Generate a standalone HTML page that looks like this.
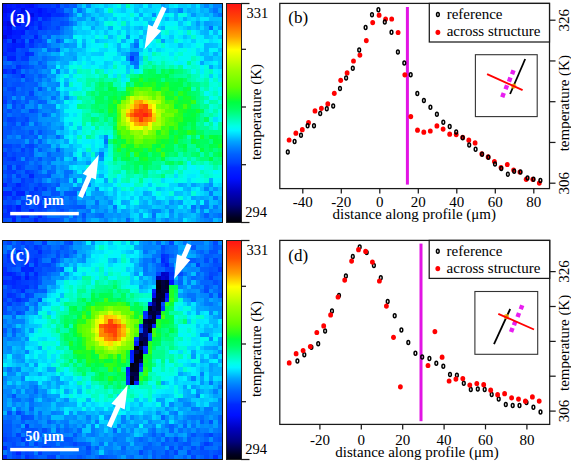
<!DOCTYPE html>
<html><head><meta charset="utf-8">
<style>
html,body{margin:0;padding:0;background:#fff;}
body{width:571px;height:463px;position:relative;overflow:hidden;font-family:"Liberation Serif", serif;}
.hm{position:absolute;left:2px;width:221px;height:220px;box-sizing:border-box;border:1px solid #111;background:#19f;overflow:hidden;}
.cb{position:absolute;left:226px;width:16px;height:220px;box-sizing:border-box;border:1px solid #222;
 background:linear-gradient(to top,#00000c 0%,#000020 2%,#000080 8%,#0000c0 14%,#0010ff 20%,#0028ff 25%,#0040ff 27%,#0060ff 31%,#0080ff 34%,#00a5ff 37%,#00d7ff 40%,#00f5ff 42%,#00ffe6 44%,#00ffb4 47%,#00ff80 50%,#00ff60 52%,#00ff40 55%,#20ff20 57%,#60ff00 62%,#a0ff00 70%,#ffff00 79%,#ffa000 85%,#ff5000 92%,#ff1414 100%);}
svg{position:absolute;left:0;top:0;}
</style></head><body>
<div class="hm" style="top:3px"></div>
<div class="hm" style="top:240px"></div>
<div class="cb" style="top:3px"></div>
<div class="cb" style="top:240px"></div>
<svg width="571" height="463" viewBox="0 0 571 463" font-family='"Liberation Serif", serif'>
<g transform="translate(3,4) scale(4.3800,4.3600)" shape-rendering="crispEdges">
<path fill="#000df2" d="M0 0h1v1h-1z"/>
<path fill="#0016ff" d="M1 0h1v1h-1zM4 6h1v1h-1z"/>
<path fill="#001fff" d="M2 0h1v1h-1zM7 2h1v1h-1zM3 7h1v1h-1zM7 7h1v1h-1zM4 43h1v1h-1z"/>
<path fill="#0012ff" d="M3 0h1v1h-1z"/>
<path fill="#001aff" d="M4 0h1v1h-1zM5 1h1v1h-1zM7 1h1v1h-1zM2 2h1v1h-1z"/>
<path fill="#0011ff" d="M5 0h1v1h-1zM0 2h1v1h-1zM3 3h1v1h-1z"/>
<path fill="#000ef8" d="M6 0h1v1h-1z"/>
<path fill="#0021ff" d="M7 0h1v1h-1zM2 7h1v1h-1z"/>
<path fill="#0032ff" d="M8 0h1v1h-1zM13 2h1v1h-1zM10 3h1v1h-1zM6 9h1v1h-1z"/>
<path fill="#0035ff" d="M9 0h1v1h-1z"/>
<path fill="#0034ff" d="M10 0h1v1h-1zM3 8h1v1h-1zM6 11h1v1h-1z"/>
<path fill="#0041ff" d="M11 0h1v1h-1zM2 5h1v1h-1zM4 7h1v1h-1zM8 8h1v1h-1zM1 32h1v1h-1zM6 32h1v1h-1zM9 46h1v1h-1z"/>
<path fill="#0028ff" d="M12 0h1v1h-1zM7 45h1v1h-1zM1 46h1v1h-1zM4 48h1v1h-1z"/>
<path fill="#005eff" d="M13 0h1v1h-1zM5 30h1v1h-1zM6 35h1v1h-1zM5 43h1v1h-1z"/>
<path fill="#004cff" d="M14 0h1v1h-1zM1 24h1v1h-1zM4 34h1v1h-1zM4 37h1v1h-1zM5 45h1v1h-1zM5 47h1v1h-1zM0 49h1v1h-1z"/>
<path fill="#005dff" d="M15 0h1v1h-1zM6 16h1v1h-1zM2 25h1v1h-1zM7 27h1v1h-1zM3 29h1v1h-1zM8 31h1v1h-1zM0 33h1v1h-1zM9 39h1v1h-1zM15 46h1v1h-1z"/>
<path fill="#0057ff" d="M16 0h1v1h-1zM5 21h1v1h-1zM3 22h1v1h-1zM0 23h1v1h-1zM3 28h1v1h-1zM7 30h1v1h-1zM3 38h1v1h-1zM1 42h1v1h-1zM6 44h1v1h-1z"/>
<path fill="#00a0ff" d="M17 0h1v1h-1zM13 36h1v1h-1zM13 39h1v1h-1zM17 41h1v1h-1z"/>
<path fill="#00d1ff" d="M18 0h1v1h-1zM20 1h1v1h-1zM27 5h1v1h-1zM16 32h1v1h-1zM29 48h1v1h-1z"/>
<path fill="#0089ff" d="M19 0h1v1h-1zM16 4h1v1h-1zM14 6h1v1h-1zM28 12h1v1h-1zM6 22h1v1h-1zM5 23h1v1h-1zM22 35h1v1h-1zM19 48h1v1h-1z"/>
<path fill="#00ceff" d="M20 0h1v1h-1zM40 0h1v1h-1zM23 2h1v1h-1zM42 2h1v1h-1zM17 6h1v1h-1zM22 8h1v1h-1zM47 16h1v1h-1zM12 19h1v1h-1zM21 39h1v1h-1z"/>
<path fill="#00daff" d="M21 0h1v1h-1zM26 1h1v1h-1zM27 3h1v1h-1zM16 5h1v1h-1zM45 5h1v1h-1zM32 9h1v1h-1zM44 11h1v1h-1zM48 14h1v1h-1zM49 16h1v1h-1zM13 20h1v1h-1zM19 34h1v1h-1zM36 40h1v1h-1zM41 43h1v1h-1zM45 43h1v1h-1zM33 45h1v1h-1z"/>
<path fill="#00e3ff" d="M22 0h1v1h-1zM23 5h1v1h-1zM41 9h1v1h-1zM38 11h1v1h-1zM29 14h1v1h-1zM20 32h1v1h-1zM18 33h1v1h-1zM25 45h1v1h-1zM26 46h1v1h-1z"/>
<path fill="#00c0ff" d="M23 0h1v1h-1zM30 1h1v1h-1zM48 3h2v1h-2zM17 4h1v1h-1zM31 10h1v1h-1zM49 10h1v1h-1zM17 43h1v1h-1zM40 43h1v1h-1zM31 45h1v1h-1zM20 47h1v1h-1z"/>
<path fill="#00d7ff" d="M24 0h1v1h-1zM28 10h1v1h-1zM24 13h1v1h-1zM28 13h1v1h-1zM12 17h1v1h-1zM16 21h1v1h-1zM21 35h1v1h-1zM22 36h1v1h-1zM39 41h1v1h-1zM37 45h1v1h-1z"/>
<path fill="#00ebff" d="M25 0h1v1h-1zM28 1h1v1h-1zM18 5h1v1h-1zM37 7h1v1h-1zM17 9h1v1h-1zM28 9h1v1h-1zM39 10h1v1h-1zM19 14h1v1h-1zM23 15h1v1h-1zM49 15h1v1h-1zM15 17h1v1h-1zM17 38h1v1h-1z"/>
<path fill="#00ffe2" d="M26 0h1v1h-1zM41 10h1v1h-1zM14 16h1v1h-1zM46 22h1v1h-1zM49 22h1v1h-1zM22 29h1v1h-1zM32 40h1v1h-1z"/>
<path fill="#00cdff" d="M27 0h1v1h-1zM32 1h1v1h-1zM44 1h1v1h-1zM33 3h1v1h-1zM22 4h1v1h-1zM21 5h1v1h-1zM20 11h2v1h-2zM13 21h1v1h-1zM21 36h1v1h-1zM25 40h1v1h-1zM20 41h1v1h-1zM24 41h1v1h-1zM29 47h1v1h-1zM37 47h1v1h-1z"/>
<path fill="#00ffaa" d="M28 0h1v1h-1zM46 19h1v1h-1zM27 36h1v1h-1zM45 36h1v1h-1z"/>
<path fill="#00eaff" d="M29 0h1v1h-1zM41 4h1v1h-1zM22 6h1v1h-1zM30 7h1v1h-1zM28 8h1v1h-1zM34 9h1v1h-1zM17 35h1v1h-1zM23 37h1v1h-1zM42 44h1v1h-1z"/>
<path fill="#00cbff" d="M30 0h1v1h-1zM35 5h1v1h-1zM18 11h1v1h-1zM14 29h1v1h-1zM20 42h1v1h-1z"/>
<path fill="#00bbff" d="M31 0h1v1h-1zM46 1h1v1h-1zM46 7h1v1h-1zM17 10h1v1h-1zM14 20h1v1h-1zM41 42h1v1h-1zM39 43h1v1h-1zM36 45h1v1h-1zM28 46h1v1h-1zM25 49h1v1h-1zM35 49h1v1h-1z"/>
<path fill="#00f4ff" d="M32 0h1v1h-1zM39 0h1v1h-1zM38 4h1v1h-1zM17 7h1v1h-1zM36 7h1v1h-1zM37 9h1v1h-1zM25 10h1v1h-1zM12 14h1v1h-1zM49 19h1v1h-1zM26 39h1v1h-1zM37 40h1v1h-1zM39 42h1v1h-1zM26 43h1v1h-1zM29 45h1v1h-1zM32 48h1v1h-1z"/>
<path fill="#00b4ff" d="M33 0h1v1h-1zM34 4h1v1h-1zM49 4h1v1h-1zM13 14h1v1h-1zM21 34h1v1h-1zM20 49h1v1h-1z"/>
<path fill="#00deff" d="M34 0h1v1h-1zM19 1h1v1h-1zM35 2h1v1h-1zM24 3h1v1h-1zM20 7h1v1h-1zM42 40h1v1h-1zM30 48h1v1h-1z"/>
<path fill="#00dcff" d="M35 0h1v1h-1zM14 8h1v1h-1zM47 8h1v1h-1zM22 10h1v1h-1zM25 12h1v1h-1zM31 13h1v1h-1zM46 13h1v1h-1zM22 38h1v1h-1zM23 42h1v1h-1zM30 43h1v1h-1zM42 45h1v1h-1z"/>
<path fill="#009fff" d="M36 0h1v1h-1zM17 39h1v1h-1zM19 44h1v1h-1zM33 47h1v1h-1z"/>
<path fill="#00baff" d="M37 0h1v1h-1zM16 6h1v1h-1zM45 6h1v1h-1zM33 7h1v1h-1zM11 22h1v1h-1zM11 25h1v1h-1zM25 42h1v1h-1zM48 45h1v1h-1zM47 46h1v1h-1z"/>
<path fill="#00e5ff" d="M38 0h1v1h-1zM25 1h1v1h-1zM33 8h1v1h-1zM41 8h1v1h-1zM27 16h1v1h-1zM16 34h1v1h-1zM23 38h1v1h-1zM21 41h1v1h-1zM26 42h1v1h-1zM28 43h1v1h-1zM27 44h1v1h-1zM42 46h1v1h-1z"/>
<path fill="#00caff" d="M41 0h1v1h-1zM17 5h1v1h-1zM18 6h1v1h-1zM43 8h1v1h-1zM18 10h1v1h-1zM28 15h1v1h-1zM33 41h1v1h-1zM48 43h1v1h-1zM44 47h1v1h-1zM46 47h1v1h-1z"/>
<path fill="#00dbff" d="M42 0h1v1h-1zM18 4h1v1h-1zM32 5h1v1h-1zM42 7h1v1h-1zM44 10h1v1h-1zM49 11h1v1h-1zM11 15h1v1h-1zM19 42h1v1h-1zM31 47h1v1h-1z"/>
<path fill="#00b6ff" d="M43 0h1v1h-1zM48 6h1v1h-1zM18 8h1v1h-1zM21 8h1v1h-1zM46 9h1v1h-1zM46 10h1v1h-1zM46 12h1v1h-1zM12 31h1v1h-1zM33 43h1v1h-1zM38 46h2v1h-2zM42 48h1v1h-1zM21 49h1v1h-1z"/>
<path fill="#00e2ff" d="M44 0h1v1h-1zM36 4h1v1h-1zM25 9h1v1h-1zM49 9h1v1h-1zM17 13h1v1h-1zM14 19h1v1h-1zM16 19h1v1h-1zM16 25h1v1h-1zM16 30h1v1h-1zM32 42h1v1h-1z"/>
<path fill="#00a5ff" d="M45 0h1v1h-1zM18 9h1v1h-1zM13 12h1v1h-1zM45 13h1v1h-1zM10 22h1v1h-1zM16 36h1v1h-1zM40 41h1v1h-1zM18 42h1v1h-1zM27 45h1v1h-1z"/>
<path fill="#0084ff" d="M46 0h1v1h-1zM49 0h1v1h-1zM46 45h1v1h-1zM47 47h1v1h-1z"/>
<path fill="#00acff" d="M47 0h1v1h-1zM41 3h1v1h-1zM16 11h1v1h-1zM15 12h1v1h-1zM46 44h1v1h-1zM32 45h1v1h-1z"/>
<path fill="#0082ff" d="M48 0h1v1h-1zM8 12h1v1h-1zM9 20h1v1h-1zM12 44h1v1h-1zM20 48h1v1h-1zM46 49h1v1h-1z"/>
<path fill="#000ced" d="M0 1h1v1h-1z"/>
<path fill="#000ef9" d="M1 1h1v1h-1z"/>
<path fill="#0015ff" d="M2 1h1v1h-1zM0 3h1v1h-1z"/>
<path fill="#001eff" d="M3 1h1v1h-1zM9 1h1v1h-1zM9 2h1v1h-1zM4 9h1v1h-1zM1 10h1v1h-1zM2 12h1v1h-1zM3 47h1v1h-1z"/>
<path fill="#000ae8" d="M4 1h1v1h-1z"/>
<path fill="#001dff" d="M6 1h1v1h-1zM2 9h1v1h-1z"/>
<path fill="#000ffc" d="M8 1h1v1h-1z"/>
<path fill="#002cff" d="M10 1h1v1h-1zM12 2h1v1h-1z"/>
<path fill="#0027ff" d="M11 1h1v1h-1zM3 5h2v1h-2zM4 16h1v1h-1zM2 48h1v1h-1z"/>
<path fill="#003eff" d="M12 1h1v1h-1zM0 32h1v1h-1zM1 38h1v1h-1zM4 41h1v1h-1zM8 41h1v1h-1zM10 45h1v1h-1zM5 46h1v1h-1z"/>
<path fill="#0047ff" d="M13 1h1v1h-1zM10 5h1v1h-1zM7 8h1v1h-1zM4 11h1v1h-1zM0 21h1v1h-1zM1 41h1v1h-1zM6 49h1v1h-1zM8 49h1v1h-1z"/>
<path fill="#0078ff" d="M14 1h1v1h-1zM5 24h1v1h-1zM9 33h1v1h-1zM9 35h1v1h-1zM14 45h1v1h-1z"/>
<path fill="#006dff" d="M15 1h1v1h-1zM9 16h1v1h-1zM7 23h1v1h-1zM6 25h1v1h-1zM0 27h1v1h-1zM12 40h1v1h-1zM21 45h1v1h-1zM16 47h1v1h-1zM49 48h1v1h-1z"/>
<path fill="#00bfff" d="M16 1h1v1h-1zM34 7h1v1h-1zM14 17h1v1h-1zM16 33h1v1h-1zM17 36h1v1h-1zM20 39h1v1h-1zM19 40h1v1h-1zM12 42h1v1h-1zM30 46h1v1h-1z"/>
<path fill="#0070ff" d="M17 1h1v1h-1zM6 12h1v1h-1zM1 13h1v1h-1zM8 14h1v1h-1zM7 22h1v1h-1zM1 25h1v1h-1zM10 32h1v1h-1zM7 35h1v1h-1zM10 35h1v1h-1zM8 36h1v1h-1zM2 37h1v1h-1zM2 39h1v1h-1zM11 44h1v1h-1zM25 46h1v1h-1zM19 47h1v1h-1z"/>
<path fill="#009bff" d="M18 1h1v1h-1zM16 9h1v1h-1zM12 21h1v1h-1zM12 22h1v1h-1zM12 26h1v1h-1zM8 34h1v1h-1zM19 46h1v1h-1zM49 47h1v1h-1zM28 48h1v1h-1zM26 49h1v1h-1z"/>
<path fill="#00aaff" d="M21 1h1v1h-1zM39 1h1v1h-1zM30 10h1v1h-1zM12 27h1v1h-1zM14 34h1v1h-1zM18 34h1v1h-1zM44 46h1v1h-1z"/>
<path fill="#00c1ff" d="M22 1h1v1h-1zM23 3h1v1h-1zM25 3h1v1h-1zM30 3h1v1h-1zM30 5h1v1h-1zM28 6h1v1h-1zM48 9h1v1h-1zM16 10h1v1h-1zM46 11h1v1h-1zM31 12h1v1h-1zM28 14h1v1h-1zM15 21h1v1h-1zM17 28h1v1h-1zM39 47h1v1h-1zM33 48h1v1h-1z"/>
<path fill="#00efff" d="M23 1h1v1h-1zM29 1h1v1h-1zM20 6h1v1h-1zM40 13h1v1h-1zM17 29h1v1h-1zM42 36h1v1h-1zM28 41h1v1h-1zM35 44h1v1h-1z"/>
<path fill="#00ffb3" d="M24 1h1v1h-1zM49 21h1v1h-1zM20 29h1v1h-1zM44 33h1v1h-1z"/>
<path fill="#00c7ff" d="M27 1h1v1h-1zM20 2h1v1h-1zM19 3h1v1h-1zM43 5h1v1h-1zM35 6h1v1h-1zM38 7h1v1h-1zM33 10h1v1h-1zM12 13h1v1h-1zM25 44h1v1h-1zM38 44h1v1h-1zM36 48h1v1h-1z"/>
<path fill="#00e6ff" d="M31 1h1v1h-1zM40 3h1v1h-1zM19 9h1v1h-1zM38 9h1v1h-1zM47 13h1v1h-1zM14 30h1v1h-1zM20 38h1v1h-1zM36 43h1v1h-1zM41 45h1v1h-1z"/>
<path fill="#00d6ff" d="M33 1h1v1h-1zM32 7h1v1h-1zM27 13h1v1h-1zM16 15h1v1h-1zM14 35h1v1h-1zM15 40h1v1h-1zM38 41h1v1h-1zM41 44h1v1h-1zM35 48h1v1h-1zM30 49h1v1h-1z"/>
<path fill="#00d8ff" d="M34 1h1v1h-1zM17 2h1v1h-1zM36 3h1v1h-1zM17 12h1v1h-1zM21 37h1v1h-1zM22 41h1v1h-1zM38 42h1v1h-1zM27 43h1v1h-1zM32 44h1v1h-1zM37 44h1v1h-1z"/>
<path fill="#00e4ff" d="M35 1h1v1h-1zM38 6h1v1h-1zM24 8h1v1h-1zM15 19h1v1h-1zM20 33h1v1h-1zM48 41h1v1h-1z"/>
<path fill="#0091ff" d="M36 1h1v1h-1zM16 2h1v1h-1zM2 21h1v1h-1zM24 48h1v1h-1zM14 49h1v1h-1z"/>
<path fill="#0096ff" d="M37 1h1v1h-1zM43 2h1v1h-1zM10 16h1v1h-1zM10 30h1v1h-1zM38 45h1v1h-1z"/>
<path fill="#00b8ff" d="M38 1h1v1h-1zM43 1h1v1h-1zM39 2h1v1h-1zM39 3h1v1h-1zM10 8h1v1h-1zM18 38h1v1h-1zM44 41h1v1h-1zM31 44h1v1h-1zM48 49h1v1h-1z"/>
<path fill="#0081ff" d="M40 1h1v1h-1zM11 19h1v1h-1zM7 20h1v1h-1zM12 20h1v1h-1zM46 42h1v1h-1zM20 46h1v1h-1zM18 47h1v1h-1zM43 47h1v1h-1zM45 47h1v1h-1zM45 48h1v1h-1z"/>
<path fill="#00ccff" d="M41 1h1v1h-1zM41 5h1v1h-1zM26 6h1v1h-1zM32 8h1v1h-1zM23 13h1v1h-1zM26 47h1v1h-1z"/>
<path fill="#00adff" d="M42 1h1v1h-1zM48 4h1v1h-1zM44 5h1v1h-1zM16 8h1v1h-1zM9 10h1v1h-1zM15 10h1v1h-1zM48 11h1v1h-1zM13 13h1v1h-1zM8 30h1v1h-1zM14 36h1v1h-1zM21 44h1v1h-1zM34 44h1v1h-1zM33 46h1v1h-1zM30 47h1v1h-1zM42 47h1v1h-1z"/>
<path fill="#00afff" d="M45 1h1v1h-1zM16 3h1v1h-1zM26 10h1v1h-1zM27 49h1v1h-1z"/>
<path fill="#008fff" d="M47 1h1v1h-1zM18 2h1v1h-1zM15 6h1v1h-1zM28 7h1v1h-1zM14 9h1v1h-1zM12 12h1v1h-1zM11 16h1v1h-1zM9 17h1v1h-1zM11 18h1v1h-1zM9 21h1v1h-1zM8 26h1v1h-1zM13 30h1v1h-1zM7 31h1v1h-1zM21 47h1v1h-1z"/>
<path fill="#0072ff" d="M48 1h1v1h-1zM10 9h1v1h-1zM16 44h1v1h-1zM10 48h1v1h-1zM21 48h1v1h-1z"/>
<path fill="#00a1ff" d="M49 1h1v1h-1zM47 4h1v1h-1zM14 7h1v1h-1zM14 42h1v1h-1zM43 44h1v1h-1zM38 49h1v1h-1z"/>
<path fill="#0022ff" d="M1 2h1v1h-1zM3 9h1v1h-1zM0 43h1v1h-1zM3 43h1v1h-1zM6 47h1v1h-1z"/>
<path fill="#000beb" d="M3 2h1v1h-1zM2 8h1v1h-1z"/>
<path fill="#001bff" d="M4 2h2v1h-2zM2 10h1v1h-1z"/>
<path fill="#000ae9" d="M6 2h1v1h-1z"/>
<path fill="#0014ff" d="M8 2h1v1h-1zM5 5h1v1h-1zM1 7h1v1h-1z"/>
<path fill="#0019ff" d="M10 2h1v1h-1zM1 3h1v1h-1zM6 3h1v1h-1z"/>
<path fill="#0030ff" d="M11 2h1v1h-1zM0 10h1v1h-1zM2 44h1v1h-1zM0 48h2v1h-2z"/>
<path fill="#0046ff" d="M14 2h1v1h-1zM5 7h1v1h-1zM1 8h1v1h-1zM5 26h1v1h-1zM6 38h1v1h-1zM1 39h1v1h-1zM4 42h1v1h-1zM7 43h1v1h-1zM7 47h1v1h-1z"/>
<path fill="#006aff" d="M15 2h1v1h-1zM9 12h1v1h-1zM8 17h1v1h-1zM4 44h1v1h-1z"/>
<path fill="#00a7ff" d="M19 2h1v1h-1zM11 13h1v1h-1zM11 17h1v1h-1zM23 32h1v1h-1zM12 38h1v1h-1zM18 39h1v1h-1zM32 43h1v1h-1zM29 49h1v1h-1z"/>
<path fill="#00d0ff" d="M21 2h1v1h-1zM23 33h1v1h-1z"/>
<path fill="#00b9ff" d="M22 2h1v1h-1zM24 7h1v1h-1zM35 7h1v1h-1zM13 10h1v1h-1zM11 32h1v1h-1zM22 33h1v1h-1z"/>
<path fill="#00cfff" d="M24 2h1v1h-1zM28 4h1v1h-1zM22 5h1v1h-1zM48 12h1v1h-1zM23 14h1v1h-1zM12 16h1v1h-1zM22 37h1v1h-1zM34 46h1v1h-1z"/>
<path fill="#00fdea" d="M25 2h1v1h-1zM42 4h1v1h-1zM26 5h1v1h-1zM26 15h1v1h-1zM27 18h1v1h-1zM29 40h1v1h-1z"/>
<path fill="#00f8f8" d="M26 2h1v1h-1zM34 8h1v1h-1zM38 10h1v1h-1zM16 13h1v1h-1zM26 14h1v1h-1zM44 39h1v1h-1zM33 40h1v1h-1zM29 43h1v1h-1z"/>
<path fill="#00f6fd" d="M27 2h1v1h-1zM34 6h1v1h-1zM27 9h1v1h-1zM45 14h1v1h-1zM48 38h1v1h-1zM30 44h1v1h-1zM27 46h1v1h-1z"/>
<path fill="#00e8ff" d="M28 2h1v1h-1zM41 6h1v1h-1zM40 7h1v1h-1zM48 7h1v1h-1zM31 11h1v1h-1zM13 16h1v1h-1zM49 17h1v1h-1zM12 23h1v1h-1zM15 29h1v1h-1zM20 31h1v1h-1zM19 38h1v1h-1zM41 49h1v1h-1z"/>
<path fill="#00ffce" d="M29 2h1v1h-1zM20 16h1v1h-1zM46 16h1v1h-1zM45 17h1v1h-1zM33 38h1v1h-1z"/>
<path fill="#00f6fc" d="M30 2h1v1h-1zM33 5h1v1h-1zM42 10h1v1h-1zM20 12h1v1h-1zM44 13h1v1h-1zM17 18h1v1h-1zM15 25h1v1h-1zM14 26h1v1h-1zM44 38h1v1h-1zM40 42h1v1h-1z"/>
<path fill="#00abff" d="M31 2h1v1h-1zM36 5h1v1h-1zM13 22h1v1h-1zM16 38h1v1h-1zM16 39h1v1h-1zM22 39h1v1h-1zM47 40h1v1h-1zM19 45h1v1h-1zM41 48h1v1h-1zM39 49h1v1h-1z"/>
<path fill="#00eeff" d="M32 2h1v1h-1zM47 6h1v1h-1zM45 7h1v1h-1zM19 10h1v1h-1zM45 10h1v1h-1zM18 12h1v1h-1zM42 39h1v1h-1zM31 42h1v1h-1z"/>
<path fill="#00e0ff" d="M33 2h1v1h-1zM43 3h1v1h-1zM29 5h1v1h-1zM44 6h1v1h-1zM25 8h1v1h-1zM37 8h1v1h-1z"/>
<path fill="#008bff" d="M34 2h1v1h-1zM11 9h1v1h-1zM7 19h1v1h-1zM24 45h1v1h-1zM25 47h1v1h-1z"/>
<path fill="#00e9ff" d="M36 2h1v1h-1zM28 3h1v1h-1zM45 3h2v1h-2zM19 5h1v1h-1zM24 6h1v1h-1zM39 9h1v1h-1zM36 10h1v1h-1zM14 27h1v1h-1zM19 43h1v1h-1z"/>
<path fill="#00ecff" d="M37 2h1v1h-1zM19 7h1v1h-1zM19 8h1v1h-1zM45 8h1v1h-1zM30 15h1v1h-1zM45 15h1v1h-1zM43 39h1v1h-1z"/>
<path fill="#00fbf1" d="M38 2h1v1h-1zM25 11h1v1h-1zM27 12h1v1h-1zM13 17h1v1h-1zM15 30h1v1h-1zM21 32h1v1h-1zM26 40h1v1h-1z"/>
<path fill="#00ffe3" d="M40 2h1v1h-1zM23 4h1v1h-1zM35 12h1v1h-1zM37 12h1v1h-1zM15 20h1v1h-1zM18 20h1v1h-1zM16 27h1v1h-1zM40 37h1v1h-1z"/>
<path fill="#00ffe5" d="M41 2h1v1h-1zM40 6h1v1h-1zM21 16h1v1h-1zM48 16h1v1h-1zM49 24h1v1h-1zM17 25h1v1h-1z"/>
<path fill="#00beff" d="M44 2h1v1h-1zM35 3h1v1h-1zM47 3h1v1h-1zM35 42h1v1h-1zM45 42h1v1h-1zM32 47h1v1h-1z"/>
<path fill="#00c2ff" d="M45 2h1v1h-1zM19 4h1v1h-1zM28 5h1v1h-1zM41 7h1v1h-1zM19 35h1v1h-1zM47 44h1v1h-1zM24 46h1v1h-1z"/>
<path fill="#00a9ff" d="M46 2h1v1h-1zM24 5h1v1h-1zM13 9h1v1h-1zM29 10h1v1h-1zM22 44h1v1h-1zM23 45h1v1h-1zM31 49h1v1h-1z"/>
<path fill="#00bdff" d="M47 2h1v1h-1zM40 9h1v1h-1zM13 24h1v1h-1zM13 25h1v1h-1zM18 36h1v1h-1zM49 42h1v1h-1zM25 43h1v1h-1zM36 46h1v1h-1z"/>
<path fill="#008dff" d="M48 2h1v1h-1zM12 9h1v1h-1zM10 18h1v1h-1zM13 33h1v1h-1zM9 34h1v1h-1zM10 37h1v1h-1zM47 41h1v1h-1zM17 45h1v1h-1zM45 49h1v1h-1z"/>
<path fill="#0074ff" d="M49 2h1v1h-1zM9 13h1v1h-1zM7 16h1v1h-1zM9 30h1v1h-1zM9 43h1v1h-1zM12 45h1v1h-1zM11 48h1v1h-1z"/>
<path fill="#000ff9" d="M2 3h1v1h-1z"/>
<path fill="#0010ff" d="M4 3h1v1h-1z"/>
<path fill="#001cff" d="M5 3h1v1h-1zM3 6h1v1h-1zM2 49h1v1h-1z"/>
<path fill="#0025ff" d="M7 3h1v1h-1zM0 8h1v1h-1zM6 8h1v1h-1zM1 9h1v1h-1zM0 11h1v1h-1zM6 39h1v1h-1zM1 47h1v1h-1z"/>
<path fill="#0050ff" d="M8 3h1v1h-1zM14 4h1v1h-1zM0 12h1v1h-1zM0 14h1v1h-1zM2 18h1v1h-1zM1 34h1v1h-1zM2 36h1v1h-1zM10 44h1v1h-1z"/>
<path fill="#0026ff" d="M9 3h1v1h-1zM8 4h1v1h-1zM5 11h1v1h-1zM0 15h1v1h-1z"/>
<path fill="#004eff" d="M11 3h1v1h-1zM8 7h1v1h-1zM3 10h1v1h-1zM5 17h1v1h-1zM3 18h1v1h-1zM1 28h1v1h-1zM6 34h1v1h-1zM12 46h1v1h-1zM9 48h1v1h-1z"/>
<path fill="#0053ff" d="M12 3h1v1h-1zM9 6h1v1h-1zM9 9h1v1h-1zM0 29h1v1h-1zM4 30h1v1h-1zM15 43h1v1h-1zM1 49h1v1h-1zM5 49h1v1h-1z"/>
<path fill="#005aff" d="M13 3h1v1h-1zM9 8h1v1h-1zM4 13h1v1h-1zM5 16h1v1h-1zM1 18h1v1h-1zM4 19h1v1h-1zM4 20h1v1h-1zM5 36h1v1h-1zM8 39h1v1h-1zM8 40h1v1h-1zM10 41h1v1h-1z"/>
<path fill="#0064ff" d="M14 3h1v1h-1zM30 11h1v1h-1zM3 21h1v1h-1zM12 30h1v1h-1zM2 40h1v1h-1zM16 45h1v1h-1zM28 49h1v1h-1z"/>
<path fill="#0094ff" d="M15 3h1v1h-1zM17 3h1v1h-1zM14 41h1v1h-1zM18 41h1v1h-1zM22 49h1v1h-1z"/>
<path fill="#009aff" d="M18 3h1v1h-1zM44 4h1v1h-1zM46 4h1v1h-1zM36 8h1v1h-1zM11 33h1v1h-1zM15 39h1v1h-1zM21 43h1v1h-1zM49 45h1v1h-1zM37 46h1v1h-1zM36 49h1v1h-1z"/>
<path fill="#0090ff" d="M20 3h1v1h-1zM11 14h1v1h-1zM8 20h1v1h-1zM4 21h1v1h-1zM8 25h1v1h-1zM11 39h1v1h-1zM23 44h1v1h-1z"/>
<path fill="#00c5ff" d="M21 3h1v1h-1zM32 3h1v1h-1zM43 4h1v1h-1zM42 43h1v1h-1zM35 46h1v1h-1z"/>
<path fill="#00e1ff" d="M22 3h1v1h-1zM40 5h1v1h-1zM13 11h1v1h-1zM47 11h1v1h-1zM22 14h1v1h-1zM43 42h1v1h-1z"/>
<path fill="#00f7f9" d="M26 3h1v1h-1zM44 8h1v1h-1zM22 9h1v1h-1zM48 10h1v1h-1zM48 13h1v1h-1zM47 21h1v1h-1z"/>
<path fill="#00f6fe" d="M29 3h1v1h-1zM47 10h1v1h-1zM16 22h1v1h-1zM38 40h1v1h-1z"/>
<path fill="#00f9f5" d="M31 3h1v1h-1zM29 4h1v1h-1zM31 6h1v1h-1zM46 8h1v1h-1zM35 9h1v1h-1zM47 17h1v1h-1zM16 18h1v1h-1zM15 28h1v1h-1zM20 28h1v1h-1z"/>
<path fill="#00fee9" d="M34 3h1v1h-1zM37 11h1v1h-1zM18 13h1v1h-1zM31 15h1v1h-1zM48 39h2v1h-2zM40 40h1v1h-1zM37 41h1v1h-1z"/>
<path fill="#00b2ff" d="M37 3h1v1h-1zM26 9h1v1h-1zM39 45h1v1h-1zM24 47h1v1h-1z"/>
<path fill="#00ddff" d="M38 3h1v1h-1zM30 6h1v1h-1zM42 9h1v1h-1zM17 37h2v1h-2zM16 41h1v1h-1zM24 43h1v1h-1zM29 46h1v1h-1z"/>
<path fill="#00d3ff" d="M42 3h1v1h-1zM19 6h1v1h-1zM21 6h1v1h-1zM14 10h1v1h-1zM35 10h1v1h-1zM17 11h1v1h-1zM14 23h1v1h-1zM14 25h1v1h-1zM14 28h1v1h-1zM16 31h1v1h-1zM36 42h1v1h-1z"/>
<path fill="#00c6ff" d="M44 3h1v1h-1zM20 4h1v1h-1zM15 8h1v1h-1zM49 12h1v1h-1zM46 43h1v1h-1zM49 43h1v1h-1z"/>
<path fill="#000ef5" d="M0 4h1v1h-1z"/>
<path fill="#0008e0" d="M1 4h2v1h-2z"/>
<path fill="#000ffa" d="M3 4h1v1h-1zM0 6h1v1h-1z"/>
<path fill="#002eff" d="M4 4h1v1h-1zM3 14h1v1h-1zM7 42h1v1h-1zM5 48h1v1h-1z"/>
<path fill="#0018ff" d="M5 4h1v1h-1zM2 6h1v1h-1zM3 46h1v1h-1z"/>
<path fill="#0023ff" d="M6 4h1v1h-1zM0 41h1v1h-1zM3 41h1v1h-1zM1 43h1v1h-1zM7 49h1v1h-1z"/>
<path fill="#0037ff" d="M7 4h1v1h-1zM4 12h2v1h-2zM0 34h1v1h-1z"/>
<path fill="#0042ff" d="M9 4h2v1h-2zM2 41h1v1h-1zM3 44h1v1h-1zM0 47h1v1h-1z"/>
<path fill="#0055ff" d="M11 4h2v1h-2zM3 17h1v1h-1zM4 18h1v1h-1zM0 20h1v1h-1zM4 26h1v1h-1zM1 29h1v1h-1zM3 35h1v1h-1zM16 48h1v1h-1z"/>
<path fill="#0049ff" d="M13 4h1v1h-1zM7 5h1v1h-1zM5 9h1v1h-1zM3 11h1v1h-1zM3 16h1v1h-1zM0 18h1v1h-1zM2 20h1v1h-1zM6 24h1v1h-1zM2 27h1v1h-1zM0 38h1v1h-1zM8 43h1v1h-1zM1 45h1v1h-1zM4 46h1v1h-1zM10 46h1v1h-1zM4 47h1v1h-1zM7 48h1v1h-1z"/>
<path fill="#006eff" d="M15 4h1v1h-1zM7 25h1v1h-1zM8 28h1v1h-1zM2 30h1v1h-1zM14 38h1v1h-1z"/>
<path fill="#00aeff" d="M21 4h1v1h-1zM33 4h1v1h-1zM46 5h1v1h-1zM8 23h1v1h-1zM42 42h1v1h-1z"/>
<path fill="#00ffd4" d="M24 4h1v1h-1zM31 14h1v1h-1zM46 15h1v1h-1zM19 28h1v1h-1zM24 34h1v1h-1zM46 38h1v1h-1zM38 43h1v1h-1z"/>
<path fill="#00fee8" d="M25 4h1v1h-1zM32 11h1v1h-1zM39 11h1v1h-1zM16 26h2v1h-2zM19 32h1v1h-1zM17 34h1v1h-1z"/>
<path fill="#00edff" d="M26 4h1v1h-1zM31 4h1v1h-1zM48 8h1v1h-1zM33 11h1v1h-1zM45 12h1v1h-1zM27 17h1v1h-1zM22 32h1v1h-1zM21 33h1v1h-1zM20 36h1v1h-1zM37 43h1v1h-1z"/>
<path fill="#00ffbf" d="M27 4h1v1h-1zM23 27h1v1h-1zM44 36h1v1h-1zM26 37h1v1h-1z"/>
<path fill="#00f0ff" d="M30 4h1v1h-1zM25 6h1v1h-1zM44 7h1v1h-1zM22 12h1v1h-1zM18 14h1v1h-1zM22 31h1v1h-1zM20 35h1v1h-1zM16 37h1v1h-1zM27 41h1v1h-1zM26 44h1v1h-1zM39 44h1v1h-1z"/>
<path fill="#00f9f4" d="M32 4h1v1h-1zM27 6h1v1h-1zM49 8h1v1h-1zM24 11h1v1h-1zM38 12h1v1h-1zM17 24h1v1h-1zM43 38h1v1h-1z"/>
<path fill="#00f5ff" d="M35 4h1v1h-1zM24 9h1v1h-1zM31 9h1v1h-1zM33 9h1v1h-1zM22 13h1v1h-1zM24 30h1v1h-1zM43 37h1v1h-1zM23 39h1v1h-1zM22 40h1v1h-1zM29 41h1v1h-1zM34 43h1v1h-1zM36 44h1v1h-1z"/>
<path fill="#00f5fe" d="M37 4h1v1h-1zM29 7h1v1h-1zM24 10h1v1h-1zM15 23h1v1h-1zM18 30h1v1h-1zM15 31h1v1h-1zM25 41h1v1h-1zM45 45h1v1h-1z"/>
<path fill="#00f8f7" d="M39 4h1v1h-1zM41 13h1v1h-1zM15 15h1v1h-1zM48 15h1v1h-1zM15 24h1v1h-1zM21 31h1v1h-1zM17 40h1v1h-1z"/>
<path fill="#00c3ff" d="M40 4h1v1h-1zM23 6h1v1h-1zM13 23h1v1h-1zM20 40h1v1h-1zM23 43h1v1h-1z"/>
<path fill="#00c8ff" d="M45 4h1v1h-1zM47 7h1v1h-1zM22 11h1v1h-1zM13 26h1v1h-1zM45 41h1v1h-1zM29 44h1v1h-1z"/>
<path fill="#0017ff" d="M0 5h1v1h-1z"/>
<path fill="#000df4" d="M1 5h1v1h-1z"/>
<path fill="#0033ff" d="M6 5h1v1h-1zM1 11h2v1h-2zM29 12h1v1h-1zM1 37h1v1h-1zM0 46h1v1h-1z"/>
<path fill="#0020ff" d="M8 5h1v1h-1zM1 12h1v1h-1zM2 15h1v1h-1z"/>
<path fill="#0039ff" d="M9 5h1v1h-1zM3 37h1v1h-1zM2 38h1v1h-1zM5 38h1v1h-1zM8 45h1v1h-1zM2 46h1v1h-1zM2 47h1v1h-1z"/>
<path fill="#0051ff" d="M11 5h1v1h-1zM3 34h1v1h-1zM8 35h1v1h-1zM10 39h1v1h-1zM0 40h1v1h-1zM7 41h1v1h-1zM11 43h1v1h-1zM16 43h1v1h-1zM2 45h1v1h-1zM18 48h1v1h-1z"/>
<path fill="#0040ff" d="M12 5h1v1h-1zM1 26h1v1h-1zM7 44h1v1h-1z"/>
<path fill="#0069ff" d="M13 5h1v1h-1zM11 21h1v1h-1zM2 31h1v1h-1zM6 37h1v1h-1zM11 41h1v1h-1zM22 48h1v1h-1zM15 49h1v1h-1z"/>
<path fill="#0083ff" d="M14 5h1v1h-1zM13 34h1v1h-1zM9 40h1v1h-1zM13 40h1v1h-1zM37 49h1v1h-1z"/>
<path fill="#0095ff" d="M15 5h1v1h-1zM11 7h1v1h-1zM13 7h1v1h-1zM48 47h1v1h-1zM40 49h1v1h-1z"/>
<path fill="#00a3ff" d="M20 5h1v1h-1zM15 11h1v1h-1zM10 13h1v1h-1zM47 14h1v1h-1zM14 31h1v1h-1zM12 35h1v1h-1zM11 36h1v1h-1zM18 40h1v1h-1zM23 40h1v1h-1zM20 43h1v1h-1zM35 45h1v1h-1zM44 48h1v1h-1z"/>
<path fill="#00fbef" d="M25 5h1v1h-1zM36 11h1v1h-1zM47 19h1v1h-1zM23 35h2v1h-2z"/>
<path fill="#00b1ff" d="M31 5h1v1h-1zM46 6h1v1h-1zM49 44h1v1h-1zM20 45h1v1h-1zM28 45h1v1h-1zM34 45h1v1h-1z"/>
<path fill="#00f1ff" d="M34 5h1v1h-1zM22 7h1v1h-1zM43 9h1v1h-1zM19 31h1v1h-1zM44 42h1v1h-1z"/>
<path fill="#00fcee" d="M37 5h1v1h-1zM27 7h1v1h-1zM40 8h1v1h-1zM23 11h1v1h-1zM23 12h1v1h-1zM34 12h1v1h-1zM24 16h1v1h-1zM48 27h1v1h-1zM41 40h1v1h-1z"/>
<path fill="#00fbf0" d="M38 5h1v1h-1zM16 7h1v1h-1zM40 10h1v1h-1zM20 14h1v1h-1zM14 22h1v1h-1zM41 39h1v1h-1zM24 42h1v1h-1z"/>
<path fill="#00ffe6" d="M39 5h1v1h-1zM21 7h1v1h-1zM27 14h1v1h-1zM19 29h1v1h-1z"/>
<path fill="#00b3ff" d="M42 5h1v1h-1zM31 7h1v1h-1zM24 44h1v1h-1z"/>
<path fill="#006cff" d="M47 5h1v1h-1zM4 31h1v1h-1zM16 42h1v1h-1zM6 45h1v1h-1zM14 48h1v1h-1z"/>
<path fill="#00d5ff" d="M48 5h1v1h-1zM19 12h1v1h-1zM15 16h1v1h-1zM17 32h1v1h-1zM18 35h1v1h-1zM49 41h1v1h-1z"/>
<path fill="#009eff" d="M49 5h1v1h-1zM15 9h1v1h-1zM43 41h1v1h-1zM22 46h1v1h-1zM49 49h1v1h-1z"/>
<path fill="#000df5" d="M1 6h1v1h-1z"/>
<path fill="#004aff" d="M5 6h1v1h-1zM1 14h1v1h-1zM5 32h1v1h-1zM4 36h1v1h-1zM2 43h1v1h-1zM9 47h1v1h-1zM4 49h1v1h-1z"/>
<path fill="#003bff" d="M6 6h1v1h-1zM1 35h1v1h-1z"/>
<path fill="#003aff" d="M7 6h1v1h-1zM3 42h1v1h-1zM8 46h1v1h-1z"/>
<path fill="#0056ff" d="M8 6h1v1h-1zM12 8h1v1h-1zM2 13h1v1h-1zM5 13h1v1h-1zM6 14h1v1h-1zM5 22h1v1h-1zM0 25h1v1h-1zM3 26h1v1h-1zM0 28h1v1h-1zM0 30h1v1h-1zM7 39h1v1h-1zM12 41h1v1h-1zM12 43h1v1h-1zM14 43h1v1h-1zM5 44h1v1h-1z"/>
<path fill="#0060ff" d="M10 6h1v1h-1zM29 11h1v1h-1zM6 18h1v1h-1zM7 21h1v1h-1zM3 25h1v1h-1zM6 31h1v1h-1zM0 39h1v1h-1zM46 48h1v1h-1zM3 49h1v1h-1z"/>
<path fill="#0058ff" d="M11 6h1v1h-1zM12 10h1v1h-1zM8 16h1v1h-1zM1 17h1v1h-1zM1 20h1v1h-1zM1 21h1v1h-1zM0 26h1v1h-1zM2 33h1v1h-1zM5 39h1v1h-1zM0 42h1v1h-1zM18 46h1v1h-1z"/>
<path fill="#005bff" d="M12 6h1v1h-1zM8 13h1v1h-1zM1 16h1v1h-1zM7 18h1v1h-1zM8 22h1v1h-1zM8 33h1v1h-1zM5 34h1v1h-1zM10 38h1v1h-1zM6 41h1v1h-1zM8 44h1v1h-1zM13 44h1v1h-1zM13 46h1v1h-1zM14 47h1v1h-1zM6 48h1v1h-1z"/>
<path fill="#0071ff" d="M13 6h1v1h-1zM7 12h1v1h-1zM6 15h1v1h-1zM6 26h2v1h-2zM6 28h1v1h-1zM45 46h1v1h-1zM12 48h1v1h-1z"/>
<path fill="#00e7ff" d="M29 6h1v1h-1zM33 12h1v1h-1zM19 13h1v1h-1zM24 14h1v1h-1zM15 22h1v1h-1zM23 34h1v1h-1zM30 42h1v1h-1zM37 42h1v1h-1zM31 43h1v1h-1zM44 43h1v1h-1zM43 45h1v1h-1zM40 46h1v1h-1z"/>
<path fill="#00bcff" d="M32 6h1v1h-1zM49 7h1v1h-1zM47 9h1v1h-1zM49 14h1v1h-1zM47 42h1v1h-1zM17 44h1v1h-1z"/>
<path fill="#00f8f9" d="M33 6h1v1h-1z"/>
<path fill="#00ffe7" d="M36 6h1v1h-1zM44 9h1v1h-1zM16 14h1v1h-1zM27 15h1v1h-1zM19 27h1v1h-1zM44 40h1v1h-1zM28 42h1v1h-1z"/>
<path fill="#00ffd0" d="M37 6h1v1h-1zM44 17h1v1h-1zM45 19h1v1h-1zM18 29h1v1h-1zM23 29h1v1h-1z"/>
<path fill="#00f2ff" d="M39 6h1v1h-1zM42 8h1v1h-1zM21 9h1v1h-1zM21 13h1v1h-1zM13 18h1v1h-1zM18 31h1v1h-1zM22 42h1v1h-1zM28 44h1v1h-1z"/>
<path fill="#00ffbe" d="M42 6h1v1h-1zM44 16h1v1h-1zM18 24h1v1h-1zM39 35h1v1h-1zM46 39h1v1h-1z"/>
<path fill="#00f7fa" d="M43 6h1v1h-1zM31 8h1v1h-1zM45 9h1v1h-1zM34 10h1v1h-1zM24 12h1v1h-1zM21 14h1v1h-1zM13 19h1v1h-1zM16 23h1v1h-1zM17 27h1v1h-1zM17 33h1v1h-1zM45 37h1v1h-1zM21 40h1v1h-1z"/>
<path fill="#00f3ff" d="M49 6h1v1h-1zM29 8h1v1h-1zM20 9h1v1h-1zM21 12h1v1h-1zM16 17h1v1h-1zM17 19h1v1h-1zM49 40h1v1h-1z"/>
<path fill="#0009e2" d="M0 7h1v1h-1z"/>
<path fill="#004fff" d="M6 7h1v1h-1zM3 13h1v1h-1zM0 17h1v1h-1zM8 19h1v1h-1zM4 23h1v1h-1zM6 29h1v1h-1zM1 36h1v1h-1z"/>
<path fill="#0077ff" d="M9 7h1v1h-1zM13 8h1v1h-1zM8 24h1v1h-1zM3 27h1v1h-1zM5 28h1v1h-1z"/>
<path fill="#0059ff" d="M10 7h1v1h-1zM6 17h1v1h-1zM12 33h1v1h-1zM7 38h1v1h-1zM6 42h1v1h-1zM11 46h1v1h-1zM16 46h1v1h-1zM12 47h1v1h-1z"/>
<path fill="#0085ff" d="M12 7h1v1h-1zM8 18h1v1h-1zM14 21h1v1h-1zM23 30h1v1h-1zM15 42h1v1h-1zM18 45h1v1h-1zM23 47h1v1h-1z"/>
<path fill="#0092ff" d="M15 7h1v1h-1zM11 8h1v1h-1zM9 15h1v1h-1zM9 26h1v1h-1zM7 33h1v1h-1zM9 38h1v1h-1zM48 42h1v1h-1zM13 43h1v1h-1zM23 48h1v1h-1zM26 48h1v1h-1z"/>
<path fill="#00dfff" d="M18 7h1v1h-1zM25 7h1v1h-1zM19 11h1v1h-1zM26 12h1v1h-1zM15 13h1v1h-1zM25 16h1v1h-1zM48 26h1v1h-1zM37 48h1v1h-1z"/>
<path fill="#00ffcd" d="M23 7h1v1h-1zM30 39h1v1h-1z"/>
<path fill="#00ffdd" d="M26 7h1v1h-1zM15 14h1v1h-1zM16 16h1v1h-1zM24 29h1v1h-1zM27 38h1v1h-1z"/>
<path fill="#00f9f6" d="M39 7h1v1h-1zM17 8h1v1h-1zM41 11h1v1h-1zM40 12h1v1h-1zM17 16h1v1h-1zM46 20h1v1h-1z"/>
<path fill="#00ffcb" d="M43 7h1v1h-1zM43 14h1v1h-1zM27 42h1v1h-1z"/>
<path fill="#0024ff" d="M4 8h1v1h-1zM8 48h1v1h-1z"/>
<path fill="#0068ff" d="M5 8h1v1h-1zM2 29h1v1h-1zM6 30h1v1h-1zM11 38h1v1h-1zM7 40h1v1h-1zM11 47h1v1h-1zM16 49h1v1h-1z"/>
<path fill="#00fced" d="M20 8h1v1h-1zM20 10h1v1h-1zM43 10h1v1h-1zM45 16h1v1h-1zM28 17h1v1h-1zM17 22h1v1h-1zM17 31h1v1h-1zM42 38h1v1h-1z"/>
<path fill="#00d2ff" d="M23 8h1v1h-1zM26 11h1v1h-1zM20 13h1v1h-1zM13 15h1v1h-1zM22 30h1v1h-1z"/>
<path fill="#00ffe4" d="M26 8h1v1h-1zM33 42h1v1h-1z"/>
<path fill="#00b0ff" d="M27 8h1v1h-1zM11 11h1v1h-1zM14 11h1v1h-1zM27 11h1v1h-1zM14 12h1v1h-1zM47 12h1v1h-1zM15 32h1v1h-1zM14 33h2v1h-2zM44 44h1v1h-1zM22 45h1v1h-1zM36 47h1v1h-1z"/>
<path fill="#008aff" d="M30 8h1v1h-1zM10 20h1v1h-1zM10 24h1v1h-1zM10 33h1v1h-1zM9 36h1v1h-1zM47 48h1v1h-1z"/>
<path fill="#00ffc3" d="M35 8h1v1h-1zM23 9h1v1h-1zM17 17h1v1h-1zM48 17h1v1h-1zM20 19h1v1h-1zM43 19h1v1h-1zM48 25h1v1h-1zM25 39h1v1h-1z"/>
<path fill="#00d9ff" d="M38 8h1v1h-1zM23 10h1v1h-1zM14 32h1v1h-1zM15 37h1v1h-1zM39 39h1v1h-1zM42 41h1v1h-1z"/>
<path fill="#00ffcc" d="M39 8h1v1h-1zM41 35h1v1h-1z"/>
<path fill="#002fff" d="M0 9h1v1h-1z"/>
<path fill="#004dff" d="M7 9h1v1h-1zM2 16h1v1h-1zM5 40h1v1h-1zM10 49h2v1h-2z"/>
<path fill="#005fff" d="M8 9h1v1h-1zM2 14h1v1h-1zM6 19h1v1h-1zM3 20h1v1h-1zM0 24h1v1h-1zM9 25h1v1h-1zM5 27h1v1h-1zM13 49h1v1h-1z"/>
<path fill="#009dff" d="M29 9h1v1h-1zM11 27h1v1h-1zM15 36h1v1h-1zM23 46h1v1h-1zM27 47h1v1h-1zM15 48h1v1h-1zM32 49h1v1h-1z"/>
<path fill="#006bff" d="M30 9h1v1h-1zM30 13h1v1h-1zM5 20h1v1h-1zM4 22h1v1h-1zM4 28h1v1h-1zM5 37h1v1h-1z"/>
<path fill="#00ffcf" d="M36 9h1v1h-1zM48 23h1v1h-1zM46 36h1v1h-1zM49 37h1v1h-1zM38 39h1v1h-1z"/>
<path fill="#0044ff" d="M4 10h2v1h-2zM6 20h1v1h-1zM2 26h1v1h-1zM2 34h1v1h-1zM5 42h1v1h-1z"/>
<path fill="#0075ff" d="M6 10h2v1h-2zM4 15h1v1h-1zM8 27h1v1h-1zM7 28h1v1h-1zM16 40h1v1h-1zM10 43h1v1h-1zM3 45h1v1h-1z"/>
<path fill="#0080ff" d="M8 10h1v1h-1zM11 12h1v1h-1zM12 18h1v1h-1zM9 23h1v1h-1zM11 23h1v1h-1zM4 24h1v1h-1zM7 29h1v1h-1zM11 29h1v1h-1zM16 35h1v1h-1z"/>
<path fill="#0061ff" d="M10 10h1v1h-1zM9 14h1v1h-1zM1 22h1v1h-1zM10 34h1v1h-1zM7 36h1v1h-1zM18 49h1v1h-1z"/>
<path fill="#006fff" d="M11 10h1v1h-1zM7 14h1v1h-1zM0 16h1v1h-1zM3 19h1v1h-1zM9 29h1v1h-1zM4 32h1v1h-1zM10 36h1v1h-1zM11 37h1v1h-1zM8 38h1v1h-1zM14 39h1v1h-1zM17 42h1v1h-1zM13 45h1v1h-1zM15 45h1v1h-1zM43 46h1v1h-1zM34 48h1v1h-1z"/>
<path fill="#00f7fb" d="M21 10h1v1h-1zM39 13h1v1h-1zM41 14h1v1h-1zM25 15h1v1h-1zM18 32h1v1h-1zM42 37h1v1h-1zM48 40h1v1h-1z"/>
<path fill="#00c9ff" d="M27 10h1v1h-1zM49 13h1v1h-1zM12 29h1v1h-1zM16 29h1v1h-1zM13 31h1v1h-1zM23 41h1v1h-1zM33 44h1v1h-1z"/>
<path fill="#00faf2" d="M32 10h1v1h-1zM42 11h1v1h-1zM42 12h1v1h-1zM26 13h1v1h-1zM43 15h1v1h-1zM49 20h1v1h-1zM15 26h1v1h-1zM21 30h1v1h-1zM39 38h1v1h-1zM34 42h1v1h-1z"/>
<path fill="#00faf1" d="M37 10h1v1h-1zM49 25h1v1h-1zM49 26h1v1h-1z"/>
<path fill="#0073ff" d="M7 11h1v1h-1zM23 31h1v1h-1zM22 34h1v1h-1zM15 38h1v1h-1z"/>
<path fill="#008eff" d="M8 11h1v1h-1zM9 27h1v1h-1zM7 34h1v1h-1zM20 44h1v1h-1z"/>
<path fill="#0087ff" d="M9 11h1v1h-1zM10 28h1v1h-1zM13 28h1v1h-1zM21 42h1v1h-1zM38 47h1v1h-1zM17 49h1v1h-1zM34 49h1v1h-1z"/>
<path fill="#0097ff" d="M10 11h1v1h-1zM10 14h1v1h-1zM12 24h1v1h-1zM12 25h1v1h-1zM10 26h1v1h-1zM14 37h1v1h-1zM13 38h1v1h-1zM38 48h1v1h-1z"/>
<path fill="#00a8ff" d="M12 11h1v1h-1zM14 13h1v1h-1zM12 36h1v1h-1zM28 47h1v1h-1z"/>
<path fill="#009cff" d="M28 11h1v1h-1zM6 27h1v1h-1zM11 28h1v1h-1zM12 37h1v1h-1zM13 42h1v1h-1zM22 43h1v1h-1zM18 44h1v1h-1zM22 47h1v1h-1zM25 48h1v1h-1zM31 48h1v1h-1zM44 49h1v1h-1z"/>
<path fill="#00ffaf" d="M34 11h1v1h-1zM35 14h1v1h-1zM45 34h1v1h-1z"/>
<path fill="#00ffd1" d="M35 11h1v1h-1zM22 28h1v1h-1zM24 39h1v1h-1z"/>
<path fill="#00ffca" d="M40 11h1v1h-1zM39 14h1v1h-1zM29 15h1v1h-1zM18 18h1v1h-1zM24 32h1v1h-1z"/>
<path fill="#00fdeb" d="M43 11h1v1h-1zM45 40h1v1h-1z"/>
<path fill="#00b7ff" d="M45 11h1v1h-1zM10 19h1v1h-1zM13 29h1v1h-1zM10 31h1v1h-1zM40 47h1v1h-1zM43 49h1v1h-1z"/>
<path fill="#004bff" d="M3 12h1v1h-1zM3 32h1v1h-1zM6 33h1v1h-1zM5 35h1v1h-1zM0 36h1v1h-1zM3 36h1v1h-1zM8 37h1v1h-1zM8 42h1v1h-1zM1 44h1v1h-1z"/>
<path fill="#007dff" d="M10 12h1v1h-1zM6 13h1v1h-1zM10 23h1v1h-1zM10 29h1v1h-1zM8 32h1v1h-1zM11 34h1v1h-1z"/>
<path fill="#0099ff" d="M16 12h1v1h-1zM11 20h1v1h-1zM5 31h1v1h-1zM15 34h1v1h-1zM19 36h1v1h-1zM13 41h1v1h-1z"/>
<path fill="#0076ff" d="M30 12h1v1h-1zM29 13h1v1h-1zM9 28h1v1h-1zM9 32h1v1h-1zM48 44h1v1h-1zM47 49h1v1h-1z"/>
<path fill="#00ffad" d="M32 12h1v1h-1zM23 17h1v1h-1zM26 19h1v1h-1zM40 35h1v1h-1z"/>
<path fill="#00ffd5" d="M36 12h1v1h-1zM48 19h1v1h-1zM27 39h1v1h-1zM40 39h1v1h-1zM47 39h1v1h-1zM35 41h1v1h-1z"/>
<path fill="#00ffd2" d="M39 12h1v1h-1zM18 17h1v1h-1zM47 26h1v1h-1zM18 28h1v1h-1zM24 33h1v1h-1zM19 37h1v1h-1z"/>
<path fill="#00faf3" d="M41 12h1v1h-1zM14 24h1v1h-1zM16 24h1v1h-1zM41 38h1v1h-1zM43 40h1v1h-1zM26 45h1v1h-1z"/>
<path fill="#00ffbc" d="M43 12h1v1h-1z"/>
<path fill="#00ffdc" d="M44 12h1v1h-1zM43 13h1v1h-1zM19 19h1v1h-1zM47 24h1v1h-1z"/>
<path fill="#0065ff" d="M0 13h1v1h-1zM7 15h1v1h-1z"/>
<path fill="#0086ff" d="M7 13h1v1h-1zM10 15h1v1h-1zM17 47h1v1h-1zM35 47h1v1h-1z"/>
<path fill="#00ffde" d="M25 13h1v1h-1zM42 14h1v1h-1zM35 38h1v1h-1zM47 38h1v1h-1z"/>
<path fill="#00ffc6" d="M32 13h1v1h-1zM44 15h1v1h-1zM16 20h1v1h-1z"/>
<path fill="#00ff93" d="M33 13h1v1h-1zM42 13h1v1h-1zM23 19h1v1h-1zM37 35h1v1h-1zM42 35h1v1h-1z"/>
<path fill="#00ffc4" d="M34 13h1v1h-1zM20 25h1v1h-1zM20 34h1v1h-1zM31 41h1v1h-1z"/>
<path fill="#00ffe1" d="M35 13h1v1h-1zM48 18h1v1h-1zM48 21h1v1h-1zM47 23h1v1h-1zM23 36h1v1h-1zM37 37h1v1h-1z"/>
<path fill="#00ffac" d="M36 13h1v1h-1zM18 21h1v1h-1zM25 38h1v1h-1zM29 39h1v1h-1z"/>
<path fill="#00ffd7" d="M37 13h1v1h-1zM21 29h1v1h-1zM24 38h1v1h-1zM45 39h1v1h-1zM46 40h1v1h-1zM40 44h1v1h-1z"/>
<path fill="#00ffe0" d="M38 13h1v1h-1zM44 37h1v1h-1zM36 41h1v1h-1z"/>
<path fill="#0043ff" d="M4 14h1v1h-1zM3 15h1v1h-1zM2 22h1v1h-1z"/>
<path fill="#0048ff" d="M5 14h1v1h-1zM2 23h1v1h-1zM1 33h1v1h-1zM0 35h1v1h-1zM6 40h1v1h-1zM5 41h1v1h-1zM7 46h1v1h-1z"/>
<path fill="#00d4ff" d="M14 14h1v1h-1zM13 32h1v1h-1z"/>
<path fill="#00ffd8" d="M17 14h1v1h-1zM44 14h1v1h-1zM47 20h1v1h-1zM24 37h1v1h-1z"/>
<path fill="#00ffb4" d="M25 14h1v1h-1zM44 30h1v1h-1z"/>
<path fill="#007fff" d="M30 14h1v1h-1zM10 27h1v1h-1zM13 35h1v1h-1zM9 37h1v1h-1zM47 43h1v1h-1zM14 44h1v1h-1zM21 46h1v1h-1zM34 47h1v1h-1z"/>
<path fill="#00ffa5" d="M32 14h1v1h-1zM22 26h1v1h-1zM38 38h1v1h-1z"/>
<path fill="#00ffb9" d="M33 14h1v1h-1zM20 30h1v1h-1z"/>
<path fill="#00ff80" d="M34 14h1v1h-1zM44 21h1v1h-1zM17 23h1v1h-1zM33 34h1v1h-1z"/>
<path fill="#00ffa1" d="M36 14h1v1h-1zM19 26h1v1h-1zM47 34h1v1h-1zM48 37h1v1h-1z"/>
<path fill="#00ffc5" d="M37 14h1v1h-1zM20 18h1v1h-1zM18 19h1v1h-1zM17 20h1v1h-1z"/>
<path fill="#00ffa3" d="M38 14h1v1h-1zM35 15h1v1h-1zM47 22h1v1h-1zM24 26h1v1h-1zM47 36h1v1h-1z"/>
<path fill="#00ff98" d="M40 14h1v1h-1zM47 27h1v1h-1z"/>
<path fill="#00ffdf" d="M46 14h1v1h-1zM16 28h1v1h-1zM35 43h1v1h-1z"/>
<path fill="#0038ff" d="M1 15h1v1h-1zM0 22h1v1h-1zM4 40h1v1h-1zM6 43h1v1h-1z"/>
<path fill="#005cff" d="M5 15h1v1h-1zM2 17h1v1h-1zM6 21h1v1h-1zM3 24h1v1h-1zM2 28h1v1h-1zM4 29h1v1h-1zM7 32h1v1h-1zM5 33h1v1h-1zM4 39h1v1h-1z"/>
<path fill="#007cff" d="M8 15h1v1h-1zM11 24h1v1h-1zM1 30h1v1h-1zM19 41h1v1h-1z"/>
<path fill="#007aff" d="M12 15h1v1h-1zM12 34h1v1h-1zM6 36h1v1h-1zM14 40h1v1h-1zM46 46h1v1h-1zM48 48h1v1h-1z"/>
<path fill="#00b5ff" d="M14 15h1v1h-1zM41 41h1v1h-1zM41 46h1v1h-1z"/>
<path fill="#00ffb6" d="M17 15h1v1h-1zM29 42h1v1h-1z"/>
<path fill="#00ffc8" d="M18 15h1v1h-1zM24 36h1v1h-1zM25 37h1v1h-1z"/>
<path fill="#00ffbd" d="M19 15h1v1h-1zM23 28h1v1h-1z"/>
<path fill="#00faf4" d="M20 15h1v1h-1zM34 41h1v1h-1z"/>
<path fill="#00ff9e" d="M21 15h1v1h-1zM43 36h1v1h-1z"/>
<path fill="#00ffba" d="M22 15h1v1h-1zM47 15h1v1h-1zM26 16h1v1h-1zM48 20h1v1h-1zM19 33h1v1h-1zM41 37h1v1h-1zM33 39h1v1h-1z"/>
<path fill="#00ffda" d="M24 15h1v1h-1zM18 16h1v1h-1zM47 18h1v1h-1zM37 39h1v1h-1zM30 40h1v1h-1zM35 40h1v1h-1z"/>
<path fill="#00ff6e" d="M32 15h1v1h-1zM46 32h1v1h-1z"/>
<path fill="#00ff55" d="M33 15h1v1h-1zM29 17h1v1h-1zM49 30h1v1h-1zM44 31h1v1h-1zM32 37h1v1h-1z"/>
<path fill="#00ff5b" d="M34 15h1v1h-1zM32 17h1v1h-1zM23 20h1v1h-1zM22 22h1v1h-1zM37 34h1v1h-1zM30 37h1v1h-1z"/>
<path fill="#00ff54" d="M36 15h1v1h-1z"/>
<path fill="#00ff73" d="M37 15h1v1h-1zM21 24h1v1h-1zM46 33h1v1h-1zM45 35h1v1h-1z"/>
<path fill="#00ff4f" d="M38 15h1v1h-1zM35 17h1v1h-1zM37 32h1v1h-1zM44 32h1v1h-1zM48 32h1v1h-1zM27 35h1v1h-1z"/>
<path fill="#00ff75" d="M39 15h1v1h-1zM21 19h1v1h-1zM44 19h1v1h-1zM46 30h1v1h-1zM40 33h1v1h-1zM38 34h1v1h-1zM28 36h1v1h-1zM28 37h1v1h-1z"/>
<path fill="#00ff78" d="M40 15h1v1h-1zM30 16h1v1h-1z"/>
<path fill="#00ff97" d="M41 15h1v1h-1zM40 16h1v1h-1zM26 35h1v1h-1z"/>
<path fill="#00ffb5" d="M42 15h1v1h-1zM43 16h1v1h-1zM26 18h1v1h-1zM20 22h1v1h-1zM21 27h1v1h-1zM42 30h1v1h-1zM40 38h1v1h-1z"/>
<path fill="#00ffc2" d="M19 16h1v1h-1zM26 17h1v1h-1zM15 18h1v1h-1zM27 19h1v1h-1z"/>
<path fill="#00ffb0" d="M22 16h1v1h-1zM17 30h1v1h-1zM40 34h1v1h-1zM38 35h1v1h-1z"/>
<path fill="#00ff84" d="M23 16h1v1h-1zM42 16h1v1h-1zM22 17h1v1h-1zM44 18h1v1h-1zM44 22h1v1h-1zM47 29h3v1h-3z"/>
<path fill="#00ffbb" d="M28 16h1v1h-1zM25 18h1v1h-1zM46 24h1v1h-1zM26 36h1v1h-1zM34 38h1v1h-1zM36 38h1v1h-1z"/>
<path fill="#00ff86" d="M29 16h1v1h-1zM43 18h1v1h-1zM47 31h1v1h-1z"/>
<path fill="#00ff4b" d="M31 16h1v1h-1zM35 16h1v1h-1zM38 18h1v1h-1zM49 34h1v1h-1z"/>
<path fill="#00ff62" d="M32 16h1v1h-1zM41 17h1v1h-1zM41 28h1v1h-1z"/>
<path fill="#00ff5a" d="M33 16h1v1h-1zM42 18h1v1h-1zM22 21h1v1h-1z"/>
<path fill="#00ff53" d="M34 16h1v1h-1zM37 17h1v1h-1zM36 33h1v1h-1z"/>
<path fill="#00ff57" d="M36 16h1v1h-1zM24 18h1v1h-1zM22 24h1v1h-1zM45 24h1v1h-1zM38 30h1v1h-1zM32 33h1v1h-1z"/>
<path fill="#00ff40" d="M37 16h1v1h-1zM25 23h1v1h-1zM41 27h1v1h-1zM35 32h1v1h-1zM47 35h1v1h-1z"/>
<path fill="#00ff7b" d="M38 16h1v1h-1zM35 35h1v1h-1zM32 38h1v1h-1z"/>
<path fill="#00ff96" d="M39 16h1v1h-1zM45 25h1v1h-1zM49 27h1v1h-1z"/>
<path fill="#00ffa6" d="M41 16h1v1h-1zM28 40h1v1h-1z"/>
<path fill="#007eff" d="M4 17h1v1h-1zM7 17h1v1h-1zM8 21h1v1h-1zM11 40h1v1h-1zM23 49h1v1h-1z"/>
<path fill="#0079ff" d="M10 17h1v1h-1zM9 19h1v1h-1zM10 25h1v1h-1zM18 43h1v1h-1zM48 46h1v1h-1zM17 48h1v1h-1z"/>
<path fill="#00ffa0" d="M19 17h1v1h-1zM47 25h1v1h-1zM26 38h1v1h-1z"/>
<path fill="#00ff9d" d="M20 17h1v1h-1zM19 22h1v1h-1zM45 23h1v1h-1zM42 32h1v1h-1zM29 38h1v1h-1z"/>
<path fill="#00ffb2" d="M21 17h1v1h-1zM43 17h1v1h-1zM19 21h1v1h-1zM49 23h1v1h-1z"/>
<path fill="#00ffb1" d="M24 17h1v1h-1zM45 38h1v1h-1zM34 39h1v1h-1z"/>
<path fill="#00ff91" d="M25 17h1v1h-1zM36 17h1v1h-1zM29 18h1v1h-1zM39 32h1v1h-1z"/>
<path fill="#00ff4d" d="M30 17h1v1h-1zM24 22h1v1h-1zM26 32h1v1h-1zM34 34h1v1h-1z"/>
<path fill="#26ff1d" d="M31 17h1v1h-1z"/>
<path fill="#05ff3b" d="M33 17h1v1h-1z"/>
<path fill="#09ff37" d="M34 17h1v1h-1zM25 21h1v1h-1zM29 32h1v1h-1z"/>
<path fill="#00ff59" d="M38 17h1v1h-1zM42 20h1v1h-1zM43 21h1v1h-1zM46 26h1v1h-1zM40 32h1v1h-1zM34 35h1v1h-1z"/>
<path fill="#00ff69" d="M39 17h1v1h-1zM43 23h1v1h-1z"/>
<path fill="#00ff48" d="M40 17h1v1h-1zM35 18h1v1h-1z"/>
<path fill="#00ff9b" d="M42 17h1v1h-1zM19 23h1v1h-1zM18 27h1v1h-1zM31 37h1v1h-1z"/>
<path fill="#00ffa9" d="M46 17h1v1h-1zM48 22h1v1h-1zM36 36h1v1h-1zM39 37h1v1h-1z"/>
<path fill="#0063ff" d="M5 18h1v1h-1zM0 19h1v1h-1zM5 19h1v1h-1zM0 37h1v1h-1zM15 44h1v1h-1zM9 45h1v1h-1zM14 46h1v1h-1zM13 48h1v1h-1z"/>
<path fill="#00a6ff" d="M9 18h1v1h-1zM11 31h1v1h-1zM19 39h1v1h-1zM46 41h1v1h-1zM31 46h1v1h-1zM49 46h1v1h-1z"/>
<path fill="#00a4ff" d="M14 18h1v1h-1zM13 27h1v1h-1zM20 37h1v1h-1zM10 40h1v1h-1zM32 46h1v1h-1z"/>
<path fill="#00ff9c" d="M19 18h1v1h-1zM49 28h1v1h-1zM38 37h1v1h-1z"/>
<path fill="#00ff83" d="M21 18h1v1h-1zM44 28h1v1h-1z"/>
<path fill="#00ff5e" d="M22 18h1v1h-1zM22 20h1v1h-1zM26 21h1v1h-1zM46 31h1v1h-1zM27 34h1v1h-1zM44 34h1v1h-1zM48 34h1v1h-1zM40 36h1v1h-1z"/>
<path fill="#00ff7e" d="M23 18h1v1h-1z"/>
<path fill="#00ff5f" d="M28 18h1v1h-1zM39 29h1v1h-1zM44 29h1v1h-1z"/>
<path fill="#13ff2d" d="M30 18h1v1h-1zM33 18h1v1h-1zM41 21h1v1h-1z"/>
<path fill="#00ff44" d="M31 18h1v1h-1zM38 19h1v1h-1z"/>
<path fill="#1fff21" d="M32 18h1v1h-1zM35 29h1v1h-1zM29 33h1v1h-1z"/>
<path fill="#24ff1e" d="M34 18h1v1h-1z"/>
<path fill="#0bff35" d="M36 18h1v1h-1zM41 20h1v1h-1zM40 29h1v1h-1zM47 30h1v1h-1zM25 31h1v1h-1z"/>
<path fill="#21ff20" d="M37 18h1v1h-1z"/>
<path fill="#00ff47" d="M39 18h2v1h-2zM39 19h1v1h-1zM42 25h1v1h-1zM43 27h1v1h-1zM49 31h1v1h-1zM47 32h1v1h-1z"/>
<path fill="#00ff81" d="M41 18h1v1h-1z"/>
<path fill="#00ffa8" d="M45 18h1v1h-1zM46 21h1v1h-1zM48 24h1v1h-1zM18 25h1v1h-1z"/>
<path fill="#00ff99" d="M46 18h1v1h-1zM22 25h1v1h-1zM22 27h1v1h-1zM25 36h1v1h-1z"/>
<path fill="#00ffc9" d="M49 18h1v1h-1z"/>
<path fill="#0045ff" d="M1 19h1v1h-1zM4 27h1v1h-1zM13 47h1v1h-1z"/>
<path fill="#003fff" d="M2 19h1v1h-1zM1 40h1v1h-1zM9 49h1v1h-1z"/>
<path fill="#00ff6d" d="M22 19h1v1h-1zM44 26h1v1h-1z"/>
<path fill="#00ff43" d="M24 19h1v1h-1zM41 19h1v1h-1zM40 30h1v1h-1zM48 30h1v1h-1z"/>
<path fill="#00ff4c" d="M25 19h1v1h-1zM24 21h1v1h-1zM25 24h1v1h-1zM43 28h1v1h-1zM34 32h1v1h-1zM37 33h1v1h-1z"/>
<path fill="#2dff1a" d="M28 19h1v1h-1zM25 22h1v1h-1z"/>
<path fill="#2fff18" d="M29 19h1v1h-1z"/>
<path fill="#61ff00" d="M30 19h1v1h-1zM34 30h1v1h-1z"/>
<path fill="#4cff0a" d="M31 19h1v1h-1zM29 30h1v1h-1z"/>
<path fill="#53ff06" d="M32 19h1v1h-1z"/>
<path fill="#63ff00" d="M33 19h1v1h-1zM39 24h1v1h-1z"/>
<path fill="#1cff24" d="M34 19h1v1h-1zM39 31h1v1h-1z"/>
<path fill="#07ff39" d="M35 19h1v1h-1zM43 25h1v1h-1zM36 31h1v1h-1zM28 33h1v1h-1zM45 33h1v1h-1z"/>
<path fill="#32ff17" d="M36 19h1v1h-1z"/>
<path fill="#34ff16" d="M37 19h1v1h-1zM37 30h1v1h-1z"/>
<path fill="#00ff65" d="M40 19h1v1h-1zM21 23h1v1h-1zM20 26h1v1h-1zM40 31h1v1h-1zM25 33h1v1h-1zM27 33h1v1h-1zM49 33h1v1h-1zM37 36h1v1h-1z"/>
<path fill="#0fff31" d="M42 19h1v1h-1zM37 21h1v1h-1zM24 23h1v1h-1zM37 31h1v1h-1z"/>
<path fill="#00ff8b" d="M19 20h1v1h-1zM18 23h1v1h-1z"/>
<path fill="#00ff68" d="M20 20h1v1h-1zM46 34h1v1h-1z"/>
<path fill="#00ff90" d="M21 20h1v1h-1zM20 21h1v1h-1zM23 21h1v1h-1zM45 26h1v1h-1zM21 28h1v1h-1zM46 29h1v1h-1zM34 36h1v1h-1z"/>
<path fill="#00ff63" d="M24 20h1v1h-1zM44 25h1v1h-1zM41 30h1v1h-1z"/>
<path fill="#00ff51" d="M25 20h1v1h-1zM38 32h1v1h-1zM31 36h1v1h-1z"/>
<path fill="#00ff6a" d="M26 20h1v1h-1zM43 20h1v1h-1zM25 27h1v1h-1z"/>
<path fill="#00ff58" d="M27 20h1v1h-1zM47 33h1v1h-1zM35 34h1v1h-1zM30 36h1v1h-1z"/>
<path fill="#14ff2c" d="M28 20h1v1h-1zM42 23h1v1h-1z"/>
<path fill="#42ff0f" d="M29 20h1v1h-1z"/>
<path fill="#78ff00" d="M30 20h1v1h-1zM35 20h1v1h-1zM37 25h1v1h-1z"/>
<path fill="#8cff00" d="M31 20h1v1h-1z"/>
<path fill="#7dff00" d="M32 20h1v1h-1z"/>
<path fill="#67ff00" d="M33 20h1v1h-1zM31 31h1v1h-1z"/>
<path fill="#57ff04" d="M34 20h1v1h-1z"/>
<path fill="#30ff18" d="M36 20h1v1h-1zM36 32h1v1h-1z"/>
<path fill="#18ff28" d="M37 20h1v1h-1zM39 30h1v1h-1z"/>
<path fill="#21ff1f" d="M38 20h1v1h-1zM33 33h1v1h-1z"/>
<path fill="#00ff60" d="M39 20h1v1h-1zM45 29h1v1h-1zM43 30h1v1h-1zM45 31h1v1h-1zM45 32h1v1h-1z"/>
<path fill="#2aff1b" d="M40 20h1v1h-1z"/>
<path fill="#00ff7a" d="M44 20h1v1h-1zM41 31h1v1h-1zM49 35h1v1h-1zM33 37h1v1h-1z"/>
<path fill="#00ffae" d="M45 20h1v1h-1zM18 22h1v1h-1z"/>
<path fill="#00a2ff" d="M10 21h1v1h-1zM45 44h1v1h-1zM44 45h1v1h-1zM27 48h1v1h-1zM24 49h1v1h-1z"/>
<path fill="#00ff94" d="M17 21h1v1h-1zM24 27h1v1h-1zM42 34h1v1h-1z"/>
<path fill="#00ff5c" d="M21 21h1v1h-1z"/>
<path fill="#1aff26" d="M27 21h1v1h-1zM24 24h1v1h-1z"/>
<path fill="#81ff00" d="M28 21h1v1h-1zM35 23h1v1h-1z"/>
<path fill="#d2ff00" d="M29 21h1v1h-1z"/>
<path fill="#aeff00" d="M30 21h1v1h-1z"/>
<path fill="#c4ff00" d="M31 21h1v1h-1z"/>
<path fill="#b2ff00" d="M32 21h1v1h-1zM35 27h1v1h-1z"/>
<path fill="#98ff00" d="M33 21h1v1h-1zM36 24h1v1h-1zM28 28h1v1h-1z"/>
<path fill="#65ff00" d="M34 21h1v1h-1zM26 28h1v1h-1z"/>
<path fill="#96ff00" d="M35 21h1v1h-1zM27 23h1v1h-1z"/>
<path fill="#6eff00" d="M36 21h1v1h-1z"/>
<path fill="#11ff2f" d="M38 21h1v1h-1zM41 24h1v1h-1z"/>
<path fill="#36ff15" d="M39 21h1v1h-1z"/>
<path fill="#00ff52" d="M40 21h1v1h-1zM26 31h1v1h-1zM41 33h1v1h-1z"/>
<path fill="#16ff2a" d="M42 21h1v1h-1zM44 24h1v1h-1zM45 30h1v1h-1z"/>
<path fill="#00ff8f" d="M45 21h1v1h-1zM46 28h1v1h-1zM19 30h1v1h-1zM48 35h1v1h-1z"/>
<path fill="#0062ff" d="M9 22h1v1h-1zM2 24h1v1h-1zM5 25h1v1h-1zM3 33h1v1h-1zM7 37h1v1h-1zM4 38h1v1h-1zM3 40h1v1h-1zM10 47h1v1h-1z"/>
<path fill="#00ff5d" d="M21 22h1v1h-1zM25 25h1v1h-1zM25 35h1v1h-1zM33 35h1v1h-1zM33 36h1v1h-1z"/>
<path fill="#00ff6c" d="M23 22h1v1h-1zM42 27h1v1h-1z"/>
<path fill="#0aff36" d="M26 22h1v1h-1zM40 27h1v1h-1zM43 31h1v1h-1zM31 35h1v1h-1z"/>
<path fill="#7eff00" d="M27 22h1v1h-1z"/>
<path fill="#a1ff00" d="M28 22h1v1h-1z"/>
<path fill="#daff00" d="M29 22h1v1h-1z"/>
<path fill="#ffaf00" d="M30 22h1v1h-1z"/>
<path fill="#ff9b00" d="M31 22h1v1h-1zM29 24h1v1h-1z"/>
<path fill="#ffda00" d="M32 22h1v1h-1z"/>
<path fill="#dbff00" d="M33 22h1v1h-1z"/>
<path fill="#cfff00" d="M34 22h1v1h-1z"/>
<path fill="#b7ff00" d="M35 22h1v1h-1z"/>
<path fill="#70ff00" d="M36 22h1v1h-1z"/>
<path fill="#3aff13" d="M37 22h1v1h-1zM33 32h1v1h-1z"/>
<path fill="#48ff0c" d="M38 22h1v1h-1zM41 23h1v1h-1z"/>
<path fill="#1eff22" d="M39 22h1v1h-1z"/>
<path fill="#08ff38" d="M40 22h1v1h-1zM36 35h1v1h-1z"/>
<path fill="#0eff32" d="M41 22h1v1h-1zM30 33h1v1h-1z"/>
<path fill="#0cff34" d="M42 22h1v1h-1z"/>
<path fill="#38ff14" d="M43 22h1v1h-1z"/>
<path fill="#00ff9f" d="M45 22h1v1h-1zM18 26h1v1h-1zM44 27h1v1h-1z"/>
<path fill="#0093ff" d="M1 23h1v1h-1zM11 26h1v1h-1zM11 30h1v1h-1zM12 32h1v1h-1zM12 39h1v1h-1zM15 41h1v1h-1z"/>
<path fill="#0066ff" d="M3 23h1v1h-1zM3 31h1v1h-1zM11 35h1v1h-1z"/>
<path fill="#008cff" d="M6 23h1v1h-1zM3 30h1v1h-1zM9 31h1v1h-1zM4 35h1v1h-1zM13 37h1v1h-1z"/>
<path fill="#00ff71" d="M20 23h1v1h-1zM26 34h1v1h-1z"/>
<path fill="#00ff79" d="M22 23h1v1h-1zM42 28h1v1h-1zM25 34h1v1h-1z"/>
<path fill="#00ff72" d="M23 23h1v1h-1zM44 23h1v1h-1zM25 29h1v1h-1z"/>
<path fill="#71ff00" d="M26 23h1v1h-1zM26 27h1v1h-1z"/>
<path fill="#c6ff00" d="M28 23h1v1h-1z"/>
<path fill="#ffd900" d="M29 23h1v1h-1z"/>
<path fill="#ff9300" d="M30 23h1v1h-1z"/>
<path fill="#ff5e00" d="M31 23h1v1h-1z"/>
<path fill="#ff4b02" d="M32 23h1v1h-1z"/>
<path fill="#ffd400" d="M33 23h1v1h-1z"/>
<path fill="#feff00" d="M34 23h1v1h-1z"/>
<path fill="#6cff00" d="M36 23h1v1h-1zM33 30h1v1h-1z"/>
<path fill="#79ff00" d="M37 23h1v1h-1z"/>
<path fill="#55ff06" d="M38 23h1v1h-1zM27 28h1v1h-1zM28 29h1v1h-1z"/>
<path fill="#04ff3c" d="M39 23h1v1h-1zM40 28h1v1h-1z"/>
<path fill="#12ff2e" d="M40 23h1v1h-1z"/>
<path fill="#00ff8c" d="M46 23h1v1h-1zM39 33h1v1h-1zM35 36h1v1h-1zM31 40h1v1h-1z"/>
<path fill="#0054ff" d="M7 24h1v1h-1zM4 25h1v1h-1zM9 41h1v1h-1zM11 42h1v1h-1zM6 46h1v1h-1zM17 46h1v1h-1zM3 48h1v1h-1z"/>
<path fill="#0088ff" d="M9 24h1v1h-1z"/>
<path fill="#00ffb7" d="M19 24h1v1h-1zM47 28h1v1h-1zM31 39h1v1h-1z"/>
<path fill="#00ff85" d="M20 24h1v1h-1zM39 36h1v1h-1z"/>
<path fill="#00ff7f" d="M23 24h1v1h-1zM23 25h1v1h-1zM48 36h1v1h-1zM35 37h1v1h-1z"/>
<path fill="#62ff00" d="M26 24h1v1h-1z"/>
<path fill="#c0ff00" d="M27 24h1v1h-1z"/>
<path fill="#ffe300" d="M28 24h1v1h-1z"/>
<path fill="#ff4f00" d="M30 24h1v1h-1z"/>
<path fill="#ff3509" d="M31 24h1v1h-1zM31 25h1v1h-1z"/>
<path fill="#ff4803" d="M32 24h1v1h-1z"/>
<path fill="#ff6b00" d="M33 24h1v1h-1z"/>
<path fill="#f7ff00" d="M34 24h1v1h-1z"/>
<path fill="#b5ff00" d="M35 24h1v1h-1z"/>
<path fill="#5fff01" d="M37 24h1v1h-1z"/>
<path fill="#58ff04" d="M38 24h1v1h-1zM26 26h1v1h-1z"/>
<path fill="#22ff1f" d="M40 24h1v1h-1z"/>
<path fill="#00ff45" d="M42 24h2v1h-2z"/>
<path fill="#00ff92" d="M19 25h1v1h-1zM45 28h1v1h-1zM29 34h1v1h-1z"/>
<path fill="#00ffc0" d="M21 25h1v1h-1zM30 41h1v1h-1z"/>
<path fill="#00ff4e" d="M24 25h1v1h-1zM38 31h1v1h-1zM38 33h1v1h-1z"/>
<path fill="#4dff09" d="M26 25h1v1h-1z"/>
<path fill="#b8ff00" d="M27 25h1v1h-1z"/>
<path fill="#ffa400" d="M28 25h1v1h-1z"/>
<path fill="#ff5c00" d="M29 25h1v1h-1z"/>
<path fill="#ff330a" d="M30 25h1v1h-1z"/>
<path fill="#ff1f10" d="M32 25h1v1h-1z"/>
<path fill="#ff4c01" d="M33 25h1v1h-1z"/>
<path fill="#ffcf00" d="M34 25h1v1h-1z"/>
<path fill="#c1ff00" d="M35 25h1v1h-1z"/>
<path fill="#6bff00" d="M36 25h1v1h-1z"/>
<path fill="#75ff00" d="M38 25h1v1h-1z"/>
<path fill="#3cff12" d="M39 25h1v1h-1z"/>
<path fill="#2cff1a" d="M40 25h1v1h-1z"/>
<path fill="#00ff50" d="M41 25h1v1h-1zM32 36h1v1h-1z"/>
<path fill="#00ffb8" d="M46 25h1v1h-1zM27 40h1v1h-1z"/>
<path fill="#00ff76" d="M21 26h1v1h-1z"/>
<path fill="#00ff6f" d="M23 26h1v1h-1z"/>
<path fill="#00ff49" d="M25 26h1v1h-1z"/>
<path fill="#afff00" d="M27 26h1v1h-1z"/>
<path fill="#f2ff00" d="M28 26h1v1h-1z"/>
<path fill="#ffa200" d="M29 26h1v1h-1zM32 27h1v1h-1z"/>
<path fill="#ff7b00" d="M30 26h1v1h-1z"/>
<path fill="#ff3609" d="M31 26h1v1h-1z"/>
<path fill="#ff6e00" d="M32 26h1v1h-1z"/>
<path fill="#ff8600" d="M33 26h1v1h-1z"/>
<path fill="#ffbe00" d="M34 26h1v1h-1z"/>
<path fill="#abff00" d="M35 26h1v1h-1z"/>
<path fill="#80ff00" d="M36 26h1v1h-1zM30 30h1v1h-1z"/>
<path fill="#5dff02" d="M37 26h1v1h-1z"/>
<path fill="#45ff0d" d="M38 26h1v1h-1z"/>
<path fill="#29ff1b" d="M39 26h1v1h-1z"/>
<path fill="#35ff15" d="M40 26h1v1h-1z"/>
<path fill="#02ff3e" d="M41 26h1v1h-1zM41 29h1v1h-1zM48 31h1v1h-1z"/>
<path fill="#01ff3f" d="M42 26h1v1h-1zM38 29h1v1h-1z"/>
<path fill="#00ff42" d="M43 26h1v1h-1zM41 32h1v1h-1z"/>
<path fill="#0052ff" d="M1 27h1v1h-1zM8 29h1v1h-1zM2 32h1v1h-1zM0 45h1v1h-1zM11 45h1v1h-1zM12 49h1v1h-1z"/>
<path fill="#00c4ff" d="M15 27h1v1h-1zM15 35h1v1h-1zM47 45h1v1h-1zM41 47h1v1h-1zM39 48h1v1h-1zM43 48h1v1h-1zM42 49h1v1h-1z"/>
<path fill="#00ff8d" d="M20 27h1v1h-1zM42 31h1v1h-1zM42 33h1v1h-1z"/>
<path fill="#9aff00" d="M27 27h1v1h-1z"/>
<path fill="#c7ff00" d="M28 27h1v1h-1z"/>
<path fill="#fffb00" d="M29 27h1v1h-1z"/>
<path fill="#ffac00" d="M30 27h1v1h-1z"/>
<path fill="#ff9400" d="M31 27h1v1h-1z"/>
<path fill="#fff200" d="M33 27h1v1h-1z"/>
<path fill="#a6ff00" d="M34 27h1v1h-1z"/>
<path fill="#7fff00" d="M36 27h1v1h-1z"/>
<path fill="#50ff08" d="M37 27h1v1h-1z"/>
<path fill="#57ff05" d="M38 27h1v1h-1zM36 29h1v1h-1z"/>
<path fill="#3dff12" d="M39 27h1v1h-1z"/>
<path fill="#00ff8e" d="M45 27h1v1h-1zM49 36h1v1h-1z"/>
<path fill="#00ffd6" d="M46 27h1v1h-1zM24 40h1v1h-1zM43 43h1v1h-1z"/>
<path fill="#0098ff" d="M12 28h1v1h-1zM40 45h1v1h-1zM40 48h1v1h-1zM19 49h1v1h-1zM33 49h1v1h-1z"/>
<path fill="#00ffc1" d="M24 28h1v1h-1zM43 35h1v1h-1z"/>
<path fill="#00ff46" d="M25 28h1v1h-1zM31 34h2v1h-2zM28 35h1v1h-1z"/>
<path fill="#faff00" d="M29 28h1v1h-1z"/>
<path fill="#efff00" d="M30 28h1v1h-1z"/>
<path fill="#f9ff00" d="M31 28h1v1h-1z"/>
<path fill="#c2ff00" d="M32 28h1v1h-1z"/>
<path fill="#eaff00" d="M33 28h1v1h-1z"/>
<path fill="#92ff00" d="M34 28h1v1h-1zM30 29h1v1h-1z"/>
<path fill="#8bff00" d="M35 28h1v1h-1z"/>
<path fill="#3bff13" d="M36 28h1v1h-1z"/>
<path fill="#4bff0a" d="M37 28h1v1h-1z"/>
<path fill="#1bff25" d="M38 28h1v1h-1zM35 31h1v1h-1zM49 32h1v1h-1zM26 33h1v1h-1z"/>
<path fill="#43ff0e" d="M39 28h1v1h-1z"/>
<path fill="#00ffdb" d="M48 28h1v1h-1zM36 37h1v1h-1zM39 40h1v1h-1z"/>
<path fill="#0067ff" d="M5 29h1v1h-1zM0 31h2v1h-2zM10 42h1v1h-1z"/>
<path fill="#2eff19" d="M26 29h1v1h-1zM30 34h1v1h-1z"/>
<path fill="#60ff00" d="M27 29h1v1h-1z"/>
<path fill="#82ff00" d="M29 29h1v1h-1z"/>
<path fill="#84ff00" d="M31 29h1v1h-1z"/>
<path fill="#bdff00" d="M32 29h1v1h-1z"/>
<path fill="#87ff00" d="M33 29h1v1h-1z"/>
<path fill="#76ff00" d="M34 29h1v1h-1z"/>
<path fill="#3fff11" d="M37 29h1v1h-1zM36 34h1v1h-1z"/>
<path fill="#28ff1c" d="M42 29h1v1h-1zM31 32h1v1h-1z"/>
<path fill="#15ff2b" d="M43 29h1v1h-1z"/>
<path fill="#00ff88" d="M25 30h1v1h-1zM28 38h1v1h-1z"/>
<path fill="#03ff3d" d="M26 30h1v1h-1zM27 31h1v1h-1z"/>
<path fill="#49ff0c" d="M27 30h1v1h-1zM30 32h1v1h-1z"/>
<path fill="#56ff05" d="M28 30h1v1h-1z"/>
<path fill="#8eff00" d="M31 30h1v1h-1z"/>
<path fill="#6aff00" d="M32 30h1v1h-1z"/>
<path fill="#37ff14" d="M35 30h1v1h-1z"/>
<path fill="#33ff16" d="M36 30h1v1h-1z"/>
<path fill="#00ff7c" d="M24 31h1v1h-1zM41 34h1v1h-1z"/>
<path fill="#47ff0c" d="M28 31h1v1h-1z"/>
<path fill="#31ff18" d="M29 31h1v1h-1z"/>
<path fill="#6dff00" d="M30 31h1v1h-1z"/>
<path fill="#43ff0f" d="M32 31h1v1h-1z"/>
<path fill="#4aff0b" d="M33 31h1v1h-1z"/>
<path fill="#49ff0b" d="M34 31h1v1h-1z"/>
<path fill="#00ff77" d="M25 32h1v1h-1zM46 35h1v1h-1z"/>
<path fill="#3bff12" d="M27 32h1v1h-1z"/>
<path fill="#10ff30" d="M28 32h1v1h-1z"/>
<path fill="#37ff15" d="M32 32h1v1h-1z"/>
<path fill="#00ff95" d="M43 32h1v1h-1zM31 38h1v1h-1z"/>
<path fill="#003dff" d="M4 33h1v1h-1zM3 39h1v1h-1zM4 45h1v1h-1zM8 47h1v1h-1z"/>
<path fill="#19ff27" d="M31 33h1v1h-1z"/>
<path fill="#00ff4a" d="M34 33h1v1h-1z"/>
<path fill="#31ff17" d="M35 33h1v1h-1z"/>
<path fill="#00ff87" d="M43 33h1v1h-1zM32 39h1v1h-1z"/>
<path fill="#00ff82" d="M48 33h1v1h-1zM27 37h1v1h-1z"/>
<path fill="#17ff29" d="M28 34h1v1h-1zM32 35h1v1h-1z"/>
<path fill="#00ff61" d="M39 34h1v1h-1z"/>
<path fill="#00ff6b" d="M43 34h1v1h-1z"/>
<path fill="#0031ff" d="M2 35h1v1h-1zM2 42h1v1h-1z"/>
<path fill="#00ff66" d="M29 35h1v1h-1zM30 38h1v1h-1z"/>
<path fill="#00ff8a" d="M30 35h1v1h-1zM44 35h1v1h-1zM29 37h1v1h-1z"/>
<path fill="#00ff70" d="M29 36h1v1h-1z"/>
<path fill="#00ff56" d="M38 36h1v1h-1z"/>
<path fill="#00ffa4" d="M41 36h1v1h-1zM37 38h1v1h-1zM28 39h1v1h-1z"/>
<path fill="#00ff89" d="M34 37h1v1h-1z"/>
<path fill="#00ffd9" d="M46 37h1v1h-1z"/>
<path fill="#00ffd3" d="M47 37h1v1h-1zM34 40h1v1h-1zM26 41h1v1h-1z"/>
<path fill="#00fcec" d="M21 38h1v1h-1z"/>
<path fill="#00fcef" d="M49 38h1v1h-1z"/>
<path fill="#00ffa7" d="M35 39h1v1h-1z"/>
<path fill="#00ff74" d="M36 39h1v1h-1z"/>
<path fill="#00f8f6" d="M32 41h1v1h-1z"/>
<path fill="#003cff" d="M9 42h1v1h-1zM9 44h1v1h-1z"/>
<path fill="#0036ff" d="M0 44h1v1h-1z"/>
<path fill="#00fee7" d="M30 45h1v1h-1z"/>
<path fill="#007bff" d="M15 47h1v1h-1z"/>
</g>
<g transform="translate(3,241) scale(4.3800,4.3600)" shape-rendering="crispEdges">
<path fill="#0056ff" d="M0 0h1v1h-1zM2 1h1v1h-1zM43 1h1v1h-1zM5 3h1v1h-1zM46 8h1v1h-1zM2 11h1v1h-1zM0 20h1v1h-1zM1 42h1v1h-1zM5 44h1v1h-1zM1 46h1v1h-1zM10 46h1v1h-1zM1 47h1v1h-1zM6 47h1v1h-1zM12 48h1v1h-1zM34 49h1v1h-1z"/>
<path fill="#0043ff" d="M1 0h1v1h-1zM15 0h1v1h-1zM48 4h1v1h-1zM10 5h1v1h-1zM4 8h1v1h-1zM16 46h1v1h-1zM6 49h1v1h-1z"/>
<path fill="#006bff" d="M2 0h1v1h-1zM40 8h1v1h-1zM0 21h1v1h-1zM6 36h1v1h-1zM46 47h1v1h-1z"/>
<path fill="#004fff" d="M3 0h1v1h-1zM5 0h1v1h-1zM48 5h1v1h-1zM3 12h1v1h-1zM31 20h1v1h-1zM3 47h1v1h-1zM40 47h1v1h-1zM46 48h1v1h-1zM37 49h1v1h-1z"/>
<path fill="#003aff" d="M4 0h1v1h-1zM9 0h1v1h-1zM38 8h1v1h-1zM0 13h1v1h-1zM1 14h1v1h-1z"/>
<path fill="#0049ff" d="M6 0h1v1h-1zM38 0h1v1h-1zM0 3h1v1h-1zM12 3h1v1h-1zM3 16h1v1h-1zM2 46h1v1h-1zM2 47h1v1h-1zM38 47h1v1h-1zM2 49h1v1h-1z"/>
<path fill="#006aff" d="M7 0h1v1h-1zM48 3h1v1h-1zM44 4h1v1h-1zM45 44h1v1h-1zM17 47h1v1h-1zM21 49h1v1h-1z"/>
<path fill="#006cff" d="M8 0h1v1h-1zM37 2h1v1h-1zM49 8h1v1h-1zM48 11h1v1h-1zM3 36h1v1h-1zM44 44h1v1h-1zM34 47h1v1h-1zM36 47h1v1h-1zM32 49h1v1h-1zM35 49h1v1h-1z"/>
<path fill="#0087ff" d="M10 0h1v1h-1zM17 0h1v1h-1zM49 0h1v1h-1zM44 1h1v1h-1zM49 2h1v1h-1zM39 4h1v1h-1zM39 9h1v1h-1zM0 19h1v1h-1zM2 33h1v1h-1zM1 34h1v1h-1zM7 35h1v1h-1zM38 37h1v1h-1zM48 40h1v1h-1zM40 48h1v1h-1z"/>
<path fill="#007eff" d="M11 0h1v1h-1zM5 2h1v1h-1zM38 4h1v1h-1zM9 9h1v1h-1zM46 13h1v1h-1zM43 31h1v1h-1zM48 34h1v1h-1zM9 35h1v1h-1zM5 36h1v1h-1zM26 42h1v1h-1zM45 43h1v1h-1zM19 44h1v1h-1zM34 45h1v1h-1zM12 46h1v1h-1zM7 48h1v1h-1zM23 48h1v1h-1zM33 48h1v1h-1z"/>
<path fill="#0074ff" d="M12 0h1v1h-1zM35 2h1v1h-1zM34 3h1v1h-1zM39 3h1v1h-1zM9 4h1v1h-1zM32 4h1v1h-1zM43 12h1v1h-1zM47 14h1v1h-1zM15 43h1v1h-1zM33 44h1v1h-1zM16 45h1v1h-1zM4 46h1v1h-1zM48 47h1v1h-1z"/>
<path fill="#0083ff" d="M13 0h1v1h-1zM37 0h1v1h-1zM33 1h1v1h-1zM0 31h1v1h-1zM0 34h1v1h-1zM2 37h1v1h-1zM16 42h1v1h-1zM28 44h1v1h-1zM35 46h1v1h-1zM29 47h1v1h-1zM42 49h1v1h-1z"/>
<path fill="#0051ff" d="M14 0h1v1h-1zM47 2h1v1h-1zM3 3h1v1h-1zM3 5h1v1h-1zM46 10h1v1h-1zM43 44h1v1h-1zM5 47h1v1h-1zM4 48h1v1h-1zM48 48h1v1h-1z"/>
<path fill="#008fff" d="M16 0h1v1h-1zM0 22h1v1h-1zM13 39h1v1h-1zM37 40h1v1h-1zM15 42h1v1h-1zM43 43h1v1h-1z"/>
<path fill="#00a1ff" d="M18 0h1v1h-1zM45 13h1v1h-1zM45 27h1v1h-1zM10 32h1v1h-1zM36 32h1v1h-1zM48 35h1v1h-1zM8 38h1v1h-1zM16 41h1v1h-1zM17 42h1v1h-1zM33 42h1v1h-1zM39 43h1v1h-1z"/>
<path fill="#00f7fa" d="M19 0h1v1h-1zM26 1h2v1h-2zM25 2h1v1h-1zM24 3h1v1h-1zM20 9h1v1h-1zM8 18h1v1h-1zM41 26h1v1h-1z"/>
<path fill="#0090ff" d="M20 0h1v1h-1zM43 2h1v1h-1zM39 6h1v1h-1zM11 8h1v1h-1zM8 12h1v1h-1zM47 15h1v1h-1zM1 18h1v1h-1zM2 19h1v1h-1zM4 21h1v1h-1zM0 23h1v1h-1zM1 25h1v1h-1zM37 38h1v1h-1zM44 39h1v1h-1zM48 39h1v1h-1zM41 45h1v1h-1zM47 45h1v1h-1z"/>
<path fill="#00e2ff" d="M21 0h1v1h-1zM20 4h1v1h-1zM26 4h1v1h-1zM13 9h1v1h-1z"/>
<path fill="#00ddff" d="M22 0h1v1h-1zM9 13h1v1h-1zM11 27h1v1h-1zM1 28h1v1h-1zM35 35h1v1h-1zM27 36h1v1h-1z"/>
<path fill="#00f5fe" d="M23 0h1v1h-1zM23 6h1v1h-1zM48 27h1v1h-1zM14 29h1v1h-1zM43 29h1v1h-1z"/>
<path fill="#00c9ff" d="M24 0h1v1h-1zM15 5h1v1h-1zM32 8h1v1h-1zM42 16h1v1h-1zM6 30h1v1h-1zM12 36h1v1h-1zM46 36h1v1h-1zM28 40h1v1h-1z"/>
<path fill="#00f9f5" d="M25 0h1v1h-1zM19 6h1v1h-1zM28 7h1v1h-1zM11 13h1v1h-1zM11 14h1v1h-1zM48 22h1v1h-1zM39 35h1v1h-1zM22 37h1v1h-1z"/>
<path fill="#00fee8" d="M26 0h1v1h-1zM19 7h1v1h-1zM16 10h1v1h-1zM14 11h1v1h-1zM8 23h1v1h-1zM43 27h1v1h-1zM34 32h1v1h-1zM21 33h1v1h-1zM31 34h1v1h-1zM34 34h1v1h-1z"/>
<path fill="#00d4ff" d="M27 0h1v1h-1zM47 23h1v1h-1zM8 26h1v1h-1zM40 29h1v1h-1zM10 31h1v1h-1zM15 31h1v1h-1zM47 36h1v1h-1z"/>
<path fill="#00ffe6" d="M28 0h1v1h-1zM23 4h1v1h-1zM27 5h1v1h-1zM31 13h1v1h-1zM8 16h1v1h-1zM13 25h1v1h-1zM44 27h1v1h-1zM37 29h1v1h-1zM17 36h1v1h-1z"/>
<path fill="#00adff" d="M29 0h1v1h-1zM39 5h1v1h-1zM30 6h1v1h-1zM11 31h1v1h-1zM31 43h1v1h-1z"/>
<path fill="#00e9ff" d="M30 0h1v1h-1zM25 1h1v1h-1zM28 3h1v1h-1zM7 17h1v1h-1zM45 19h1v1h-1zM13 33h1v1h-1zM15 33h1v1h-1z"/>
<path fill="#0098ff" d="M31 0h1v1h-1zM34 0h1v1h-1zM16 1h1v1h-1zM40 5h1v1h-1zM43 26h1v1h-1zM5 39h1v1h-1z"/>
<path fill="#0088ff" d="M32 0h1v1h-1zM44 3h1v1h-1zM13 4h1v1h-1zM45 12h1v1h-1zM6 34h1v1h-1zM7 37h1v1h-1zM38 39h1v1h-1zM21 44h1v1h-1zM17 45h1v1h-1zM31 47h1v1h-1zM29 48h1v1h-1z"/>
<path fill="#007bff" d="M33 0h1v1h-1zM34 5h1v1h-1zM40 6h1v1h-1zM14 41h1v1h-1zM18 42h1v1h-1zM20 42h1v1h-1zM26 44h1v1h-1zM44 45h1v1h-1zM24 46h1v1h-1zM27 46h1v1h-1zM20 47h1v1h-1zM39 47h1v1h-1z"/>
<path fill="#0064ff" d="M35 0h1v1h-1zM49 3h1v1h-1zM49 4h1v1h-1zM49 7h1v1h-1zM46 9h1v1h-1zM49 41h1v1h-1zM11 45h1v1h-1zM46 45h1v1h-1zM19 46h1v1h-1zM24 49h1v1h-1z"/>
<path fill="#00a6ff" d="M36 0h1v1h-1zM18 2h1v1h-1zM49 14h1v1h-1zM45 15h1v1h-1zM3 25h1v1h-1zM43 25h1v1h-1zM10 29h1v1h-1zM10 38h1v1h-1zM12 38h1v1h-1zM31 41h1v1h-1z"/>
<path fill="#00b2ff" d="M39 0h1v1h-1zM30 5h1v1h-1zM32 10h1v1h-1zM5 18h1v1h-1zM3 24h1v1h-1zM49 30h1v1h-1zM48 33h1v1h-1zM49 34h1v1h-1zM19 36h1v1h-1zM39 37h1v1h-1zM42 38h1v1h-1zM20 39h1v1h-1zM23 39h1v1h-1zM27 42h1v1h-1z"/>
<path fill="#009dff" d="M40 0h1v1h-1zM12 32h1v1h-1zM40 44h1v1h-1zM27 49h1v1h-1z"/>
<path fill="#0071ff" d="M41 0h1v1h-1zM0 2h1v1h-1zM15 2h1v1h-1zM32 2h1v1h-1zM38 2h1v1h-1zM13 3h1v1h-1zM32 5h1v1h-1zM32 6h1v1h-1zM44 8h1v1h-1zM4 12h1v1h-1zM8 39h1v1h-1zM43 40h1v1h-1zM2 42h1v1h-1zM7 42h1v1h-1zM43 42h1v1h-1zM7 45h1v1h-1zM14 47h1v1h-1zM24 48h1v1h-1z"/>
<path fill="#0093ff" d="M42 0h1v1h-1zM33 2h1v1h-1zM48 13h1v1h-1zM4 35h1v1h-1zM17 39h1v1h-1zM23 40h1v1h-1zM17 41h1v1h-1z"/>
<path fill="#0077ff" d="M43 0h1v1h-1zM45 8h1v1h-1zM1 15h1v1h-1zM7 15h1v1h-1zM43 38h1v1h-1zM47 38h1v1h-1zM11 41h1v1h-1zM21 41h1v1h-1zM20 43h1v1h-1zM42 43h1v1h-1zM6 46h1v1h-1z"/>
<path fill="#0076ff" d="M44 0h1v1h-1zM39 1h1v1h-1zM15 3h1v1h-1zM0 18h1v1h-1zM1 19h1v1h-1zM46 38h1v1h-1zM13 44h1v1h-1zM34 46h1v1h-1z"/>
<path fill="#0075ff" d="M45 0h1v1h-1zM2 16h1v1h-1zM47 32h1v1h-1zM3 38h1v1h-1zM0 40h1v1h-1zM8 40h1v1h-1zM37 42h1v1h-1zM20 44h1v1h-1zM30 45h1v1h-1zM18 47h1v1h-1zM19 49h1v1h-1z"/>
<path fill="#0096ff" d="M46 0h1v1h-1zM16 6h1v1h-1zM30 7h1v1h-1zM43 11h1v1h-1zM45 14h1v1h-1zM4 23h1v1h-1zM12 37h1v1h-1zM4 38h1v1h-1zM9 41h1v1h-1zM12 41h1v1h-1zM47 43h1v1h-1z"/>
<path fill="#0073ff" d="M47 0h1v1h-1zM38 1h1v1h-1zM45 3h1v1h-1zM45 4h1v1h-1zM44 10h1v1h-1zM42 12h1v1h-1zM1 29h1v1h-1zM44 35h1v1h-1zM6 37h1v1h-1zM32 45h1v1h-1zM43 45h1v1h-1zM32 46h1v1h-1zM13 48h1v1h-1z"/>
<path fill="#0047ff" d="M48 0h1v1h-1zM6 2h1v1h-1zM0 4h1v1h-1zM4 5h1v1h-1zM7 6h1v1h-1zM47 7h1v1h-1zM5 13h1v1h-1z"/>
<path fill="#006eff" d="M0 1h1v1h-1zM47 1h1v1h-1zM44 2h1v1h-1zM46 5h1v1h-1zM41 7h1v1h-1zM4 15h1v1h-1zM45 40h1v1h-1zM48 46h1v1h-1zM47 47h1v1h-1zM36 48h1v1h-1z"/>
<path fill="#0085ff" d="M1 1h1v1h-1zM34 1h1v1h-1zM43 6h1v1h-1zM44 9h1v1h-1zM46 12h1v1h-1zM6 13h1v1h-1zM2 22h1v1h-1zM49 38h1v1h-1zM24 40h1v1h-1zM33 41h1v1h-1zM10 42h1v1h-1zM34 42h1v1h-1zM32 44h1v1h-1z"/>
<path fill="#004eff" d="M3 1h1v1h-1zM12 2h1v1h-1zM3 4h1v1h-1zM3 14h1v1h-1zM22 49h1v1h-1z"/>
<path fill="#0066ff" d="M4 1h1v1h-1zM10 3h1v1h-1zM6 5h1v1h-1zM36 6h1v1h-1zM44 7h1v1h-1zM47 9h1v1h-1zM47 10h1v1h-1zM7 34h1v1h-1zM4 39h1v1h-1zM37 46h1v1h-1zM14 49h1v1h-1z"/>
<path fill="#0040ff" d="M5 1h1v1h-1zM4 3h1v1h-1zM7 3h1v1h-1zM11 4h1v1h-1zM0 5h1v1h-1zM36 5h1v1h-1zM44 5h1v1h-1zM5 9h1v1h-1zM3 44h1v1h-1zM7 46h1v1h-1zM3 49h1v1h-1z"/>
<path fill="#0050ff" d="M6 1h1v1h-1zM13 1h1v1h-1zM9 2h2v1h-2zM8 13h1v1h-1zM0 14h1v1h-1zM5 43h2v1h-2zM45 48h1v1h-1z"/>
<path fill="#0033ff" d="M7 1h1v1h-1zM3 9h1v1h-1zM36 15h1v1h-1z"/>
<path fill="#0041ff" d="M8 1h1v1h-1zM2 3h1v1h-1zM38 6h1v1h-1zM3 7h1v1h-1zM4 13h1v1h-1zM47 44h1v1h-1zM9 47h1v1h-1zM10 49h1v1h-1z"/>
<path fill="#005fff" d="M9 1h1v1h-1zM14 1h1v1h-1zM12 4h1v1h-1zM38 5h1v1h-1zM3 6h1v1h-1zM0 10h1v1h-1zM45 41h1v1h-1zM36 44h1v1h-1zM14 46h1v1h-1zM13 47h1v1h-1zM27 47h1v1h-1zM38 49h1v1h-1zM41 49h1v1h-1z"/>
<path fill="#0054ff" d="M10 1h1v1h-1zM48 1h1v1h-1zM47 41h1v1h-1zM1 44h1v1h-1zM9 46h1v1h-1zM4 47h1v1h-1zM19 48h1v1h-1zM7 49h1v1h-1z"/>
<path fill="#006fff" d="M11 1h1v1h-1zM12 6h1v1h-1zM43 13h1v1h-1zM7 33h1v1h-1zM8 42h1v1h-1zM40 43h1v1h-1zM2 44h1v1h-1zM42 44h1v1h-1zM25 45h1v1h-1zM40 45h1v1h-1zM7 47h1v1h-1zM28 49h1v1h-1z"/>
<path fill="#0069ff" d="M12 1h1v1h-1zM39 7h1v1h-1zM1 40h1v1h-1zM10 43h1v1h-1zM34 43h1v1h-1zM35 45h1v1h-1zM38 46h1v1h-1zM17 48h2v1h-2zM35 48h1v1h-1z"/>
<path fill="#0078ff" d="M15 1h1v1h-1zM45 5h1v1h-1zM32 7h1v1h-1zM9 8h1v1h-1zM42 9h1v1h-1zM39 39h1v1h-1zM6 41h1v1h-1zM41 41h1v1h-1zM10 44h1v1h-1zM6 45h1v1h-1zM20 48h1v1h-1z"/>
<path fill="#0097ff" d="M17 1h1v1h-1zM40 2h1v1h-1zM41 6h1v1h-1zM1 17h1v1h-1zM45 32h1v1h-1zM32 40h1v1h-1zM25 47h1v1h-1zM37 47h1v1h-1z"/>
<path fill="#00a9ff" d="M18 1h2v1h-2zM25 4h1v1h-1zM14 37h1v1h-1zM7 38h1v1h-1zM40 42h1v1h-1zM41 44h1v1h-1z"/>
<path fill="#00baff" d="M20 1h1v1h-1zM47 18h1v1h-1zM4 34h1v1h-1zM38 40h1v1h-1z"/>
<path fill="#00faf2" d="M21 1h1v1h-1zM25 6h1v1h-1zM39 15h1v1h-1zM43 19h1v1h-1zM9 20h1v1h-1zM37 27h1v1h-1zM8 28h1v1h-1zM38 28h1v1h-1zM36 30h1v1h-1zM19 35h1v1h-1z"/>
<path fill="#00ffbb" d="M22 1h1v1h-1zM15 12h1v1h-1zM15 19h1v1h-1zM39 28h1v1h-1zM32 33h1v1h-1zM20 35h1v1h-1z"/>
<path fill="#00fcee" d="M23 1h1v1h-1zM28 4h1v1h-1zM16 11h1v1h-1zM40 14h1v1h-1zM43 20h1v1h-1zM35 27h1v1h-1z"/>
<path fill="#00e7ff" d="M24 1h1v1h-1zM7 20h1v1h-1zM44 22h1v1h-1zM5 24h2v1h-2zM42 27h1v1h-1zM14 35h1v1h-1zM14 38h1v1h-1z"/>
<path fill="#00ecff" d="M28 1h1v1h-1zM19 37h1v1h-1zM33 37h1v1h-1z"/>
<path fill="#00ffe5" d="M29 1h1v1h-1zM18 33h1v1h-1z"/>
<path fill="#00a3ff" d="M30 1h1v1h-1zM42 2h1v1h-1zM49 22h1v1h-1zM47 24h1v1h-1zM45 31h1v1h-1zM47 31h1v1h-1zM5 33h1v1h-1zM14 34h1v1h-1zM42 36h1v1h-1zM43 37h1v1h-1zM41 38h1v1h-1zM9 39h2v1h-2zM22 39h1v1h-1zM33 40h1v1h-1zM30 41h1v1h-1zM22 47h1v1h-1z"/>
<path fill="#0099ff" d="M31 1h1v1h-1zM17 4h1v1h-1zM40 4h1v1h-1zM12 8h1v1h-1zM31 8h1v1h-1zM41 11h1v1h-1zM40 12h1v1h-1zM6 20h1v1h-1zM49 23h1v1h-1zM48 24h1v1h-1zM10 35h1v1h-1zM9 37h1v1h-1zM13 37h1v1h-1zM12 44h1v1h-1zM21 46h1v1h-1zM25 46h1v1h-1z"/>
<path fill="#0081ff" d="M32 1h1v1h-1zM42 5h1v1h-1zM33 7h1v1h-1zM42 8h1v1h-1zM45 10h1v1h-1zM6 33h1v1h-1zM3 34h1v1h-1zM10 36h1v1h-1zM43 41h1v1h-1zM14 44h1v1h-1zM26 45h1v1h-1zM24 47h1v1h-1z"/>
<path fill="#008aff" d="M35 1h1v1h-1zM46 1h1v1h-1zM18 4h1v1h-1zM41 12h1v1h-1zM7 16h1v1h-1zM1 30h1v1h-1zM40 36h1v1h-1zM3 40h1v1h-1zM41 43h1v1h-1zM21 48h1v1h-1zM30 49h1v1h-1z"/>
<path fill="#004dff" d="M36 1h1v1h-1zM8 5h1v1h-1zM48 7h1v1h-1zM48 9h1v1h-1zM1 39h1v1h-1zM4 40h1v1h-1z"/>
<path fill="#0065ff" d="M37 1h1v1h-1zM11 2h1v1h-1zM48 8h1v1h-1zM45 9h1v1h-1zM2 21h1v1h-1zM38 43h1v1h-1zM48 44h1v1h-1zM16 47h1v1h-1zM38 48h1v1h-1z"/>
<path fill="#00acff" d="M40 1h1v1h-1zM43 3h1v1h-1zM48 28h1v1h-1zM47 30h1v1h-1zM2 31h1v1h-1zM7 36h1v1h-1zM40 37h1v1h-1zM28 43h1v1h-1z"/>
<path fill="#00b0ff" d="M41 1h1v1h-1zM4 22h1v1h-1zM13 36h1v1h-1zM28 45h1v1h-1z"/>
<path fill="#0095ff" d="M42 1h1v1h-1zM9 12h1v1h-1zM49 16h1v1h-1zM0 24h1v1h-1zM0 25h1v1h-1zM4 27h1v1h-1zM7 28h1v1h-1zM7 32h1v1h-1zM8 34h1v1h-1zM41 36h1v1h-1zM21 45h1v1h-1zM23 45h1v1h-1z"/>
<path fill="#0082ff" d="M45 1h1v1h-1zM18 3h1v1h-1zM34 7h1v1h-1zM8 10h1v1h-1zM42 37h1v1h-1zM27 40h1v1h-1zM5 41h1v1h-1zM13 41h1v1h-1zM46 41h1v1h-1zM27 43h1v1h-1zM43 46h2v1h-2zM25 48h1v1h-1zM39 49h1v1h-1z"/>
<path fill="#0060ff" d="M49 1h1v1h-1zM14 2h1v1h-1zM45 2h1v1h-1zM35 5h1v1h-1zM47 5h1v1h-1zM8 11h1v1h-1zM4 14h1v1h-1zM36 40h1v1h-1zM10 45h1v1h-1zM40 46h1v1h-1zM4 49h1v1h-1zM16 49h1v1h-1zM45 49h1v1h-1z"/>
<path fill="#0045ff" d="M1 2h1v1h-1zM8 6h1v1h-1zM49 12h1v1h-1zM33 21h1v1h-1zM3 39h1v1h-1zM19 47h1v1h-1zM42 48h1v1h-1zM49 48h1v1h-1zM43 49h1v1h-1z"/>
<path fill="#0086ff" d="M2 2h1v1h-1zM49 13h1v1h-1zM41 37h1v1h-1zM12 39h1v1h-1zM47 39h1v1h-1zM29 40h1v1h-1zM47 42h1v1h-1zM29 43h1v1h-1zM31 49h1v1h-1z"/>
<path fill="#0028ff" d="M3 2h1v1h-1zM5 6h1v1h-1zM2 7h1v1h-1zM0 47h1v1h-1z"/>
<path fill="#0046ff" d="M4 2h1v1h-1zM1 5h1v1h-1zM9 5h1v1h-1zM6 9h1v1h-1zM39 45h1v1h-1zM10 47h1v1h-1z"/>
<path fill="#004aff" d="M7 2h1v1h-1zM46 4h1v1h-1zM1 6h1v1h-1zM40 7h1v1h-1zM43 47h1v1h-1z"/>
<path fill="#0027ff" d="M8 2h1v1h-1zM1 3h1v1h-1zM5 7h1v1h-1zM7 7h1v1h-1zM4 11h1v1h-1zM37 13h1v1h-1zM31 19h1v1h-1zM28 32h1v1h-1zM0 49h1v1h-1z"/>
<path fill="#0067ff" d="M13 2h1v1h-1zM10 7h1v1h-1zM7 14h1v1h-1zM3 15h1v1h-1zM14 43h1v1h-1zM44 47h1v1h-1zM25 49h1v1h-1zM29 49h1v1h-1z"/>
<path fill="#005cff" d="M16 2h1v1h-1zM11 5h1v1h-1zM13 6h1v1h-1zM46 6h1v1h-1zM5 11h1v1h-1zM2 15h1v1h-1zM2 20h1v1h-1zM34 44h1v1h-1zM49 44h1v1h-1zM48 45h1v1h-1zM47 48h1v1h-1zM47 49h1v1h-1z"/>
<path fill="#00a0ff" d="M17 2h1v1h-1zM32 3h1v1h-1zM44 13h1v1h-1zM44 16h1v1h-1zM3 21h1v1h-1zM3 27h1v1h-1zM5 32h1v1h-1zM41 33h1v1h-1zM11 35h1v1h-1zM35 36h1v1h-1zM18 39h1v1h-1zM21 40h1v1h-1zM35 41h1v1h-1zM44 42h1v1h-1zM48 42h1v1h-1z"/>
<path fill="#00bcff" d="M19 2h1v1h-1zM39 8h1v1h-1z"/>
<path fill="#00d9ff" d="M20 2h1v1h-1zM19 4h1v1h-1zM12 9h1v1h-1zM9 26h1v1h-1zM7 29h1v1h-1zM40 33h1v1h-1zM15 38h1v1h-1zM31 38h1v1h-1zM25 41h1v1h-1z"/>
<path fill="#00e5ff" d="M21 2h1v1h-1zM29 6h1v1h-1zM45 18h1v1h-1zM37 36h1v1h-1zM21 37h1v1h-1z"/>
<path fill="#00deff" d="M22 2h1v1h-1zM15 8h1v1h-1zM41 14h1v1h-1zM7 23h1v1h-1zM49 26h1v1h-1zM1 27h1v1h-1z"/>
<path fill="#00f5ff" d="M23 2h1v1h-1zM30 2h1v1h-1zM16 7h1v1h-1zM13 35h1v1h-1zM27 39h1v1h-1z"/>
<path fill="#00fdec" d="M24 2h1v1h-1zM14 13h1v1h-1zM43 17h1v1h-1zM37 28h1v1h-1z"/>
<path fill="#00f8f8" d="M26 2h1v1h-1zM28 5h1v1h-1zM17 7h1v1h-1zM11 17h1v1h-1zM10 21h1v1h-1zM41 23h1v1h-1zM45 23h1v1h-1zM41 27h1v1h-1zM8 29h1v1h-1zM18 35h1v1h-1zM26 36h1v1h-1z"/>
<path fill="#00e0ff" d="M27 2h1v1h-1zM17 8h1v1h-1zM46 17h1v1h-1zM43 22h1v1h-1zM10 30h1v1h-1zM6 31h1v1h-1zM48 31h1v1h-1zM25 40h1v1h-1z"/>
<path fill="#00cbff" d="M28 2h1v1h-1zM15 7h1v1h-1zM33 10h1v1h-1zM10 16h1v1h-1zM0 27h1v1h-1zM2 28h1v1h-1zM10 34h1v1h-1zM43 36h1v1h-1zM24 38h1v1h-1zM30 38h1v1h-1zM33 38h1v1h-1zM28 39h1v1h-1zM19 42h1v1h-1zM19 43h1v1h-1z"/>
<path fill="#00bfff" d="M29 2h1v1h-1zM11 11h1v1h-1zM47 17h1v1h-1zM45 36h1v1h-1zM32 39h1v1h-1zM11 40h1v1h-1zM20 41h1v1h-1z"/>
<path fill="#00c1ff" d="M31 2h1v1h-1zM24 4h1v1h-1zM13 5h1v1h-1zM43 7h1v1h-1zM5 21h1v1h-1zM47 21h1v1h-1zM2 24h1v1h-1zM11 38h1v1h-1z"/>
<path fill="#009fff" d="M34 2h1v1h-1zM33 3h1v1h-1zM42 13h1v1h-1zM46 15h1v1h-1zM6 16h1v1h-1zM2 23h1v1h-1zM49 27h1v1h-1zM5 28h1v1h-1zM47 29h1v1h-1zM1 31h1v1h-1zM13 32h1v1h-1zM3 37h1v1h-1zM43 39h1v1h-1zM28 41h1v1h-1zM44 41h1v1h-1zM11 42h1v1h-1zM35 43h1v1h-1z"/>
<path fill="#0055ff" d="M36 2h1v1h-1zM11 6h1v1h-1zM9 7h1v1h-1zM49 10h1v1h-1zM0 42h1v1h-1zM15 45h1v1h-1zM37 45h1v1h-1zM36 46h1v1h-1zM49 47h1v1h-1zM36 49h1v1h-1z"/>
<path fill="#007dff" d="M39 2h1v1h-1zM9 10h1v1h-1zM6 14h1v1h-1zM3 20h1v1h-1zM5 34h1v1h-1zM6 39h1v1h-1zM39 42h1v1h-1zM4 44h1v1h-1zM0 48h1v1h-1zM12 49h1v1h-1z"/>
<path fill="#0072ff" d="M41 2h1v1h-1zM47 4h1v1h-1zM2 36h1v1h-1zM7 41h1v1h-1zM12 42h1v1h-1zM6 44h1v1h-1zM45 45h1v1h-1zM39 46h1v1h-1zM15 47h1v1h-1zM14 48h2v1h-2z"/>
<path fill="#007cff" d="M46 2h1v1h-1zM48 10h1v1h-1zM46 14h1v1h-1zM44 38h1v1h-1zM11 39h1v1h-1zM19 40h1v1h-1zM3 43h1v1h-1zM28 46h1v1h-1z"/>
<path fill="#0052ff" d="M48 2h1v1h-1zM14 3h1v1h-1zM49 5h1v1h-1zM10 6h1v1h-1zM8 9h1v1h-1zM7 11h1v1h-1zM2 35h1v1h-1zM5 40h1v1h-1zM46 44h1v1h-1zM2 45h1v1h-1zM14 45h1v1h-1zM49 45h1v1h-1z"/>
<path fill="#0048ff" d="M6 3h1v1h-1zM4 4h1v1h-1zM0 15h1v1h-1zM31 48h1v1h-1z"/>
<path fill="#0042ff" d="M8 3h1v1h-1zM35 7h1v1h-1zM3 11h1v1h-1zM33 22h1v1h-1zM5 46h1v1h-1zM2 48h1v1h-1z"/>
<path fill="#0057ff" d="M9 3h1v1h-1zM2 6h1v1h-1zM8 8h1v1h-1zM47 12h1v1h-1zM6 40h1v1h-1zM1 43h1v1h-1zM7 43h1v1h-1zM5 45h1v1h-1zM15 46h1v1h-1zM42 46h1v1h-1z"/>
<path fill="#0070ff" d="M11 3h1v1h-1zM35 3h1v1h-1zM2 40h1v1h-1zM14 42h1v1h-1zM49 42h1v1h-1zM2 43h1v1h-1zM49 43h1v1h-1zM38 45h1v1h-1zM22 46h1v1h-1zM44 49h1v1h-1z"/>
<path fill="#008eff" d="M16 3h1v1h-1zM42 7h1v1h-1zM49 25h1v1h-1zM0 32h1v1h-1zM9 36h1v1h-1zM35 39h1v1h-1zM49 39h1v1h-1zM9 44h1v1h-1zM33 49h1v1h-1z"/>
<path fill="#00b1ff" d="M17 3h1v1h-1zM33 8h1v1h-1zM10 10h1v1h-1zM15 37h1v1h-1zM20 45h1v1h-1z"/>
<path fill="#00b6ff" d="M19 3h1v1h-1zM40 3h1v1h-1zM42 10h1v1h-1zM43 28h1v1h-1zM6 29h1v1h-1zM9 32h1v1h-1z"/>
<path fill="#00f8f7" d="M20 3h1v1h-1zM26 5h1v1h-1zM9 18h1v1h-1zM49 21h1v1h-1zM45 35h1v1h-1zM26 38h1v1h-1zM31 42h1v1h-1z"/>
<path fill="#00edff" d="M21 3h1v1h-1zM30 3h1v1h-1zM46 18h1v1h-1zM7 31h1v1h-1zM34 33h1v1h-1zM36 34h1v1h-1z"/>
<path fill="#00f8f9" d="M22 3h1v1h-1zM0 28h1v1h-1z"/>
<path fill="#00ffdd" d="M23 3h1v1h-1zM25 7h1v1h-1zM38 30h1v1h-1zM18 36h1v1h-1z"/>
<path fill="#00f7fb" d="M25 3h1v1h-1zM27 7h1v1h-1zM13 15h1v1h-1zM40 19h1v1h-1zM7 25h1v1h-1zM15 32h1v1h-1zM38 32h1v1h-1zM42 33h1v1h-1z"/>
<path fill="#00f6fd" d="M26 3h1v1h-1zM29 3h1v1h-1zM40 21h1v1h-1zM12 23h1v1h-1zM38 31h1v1h-1zM41 31h1v1h-1z"/>
<path fill="#00ffca" d="M27 3h1v1h-1zM10 18h1v1h-1zM22 34h1v1h-1zM23 35h1v1h-1z"/>
<path fill="#00c0ff" d="M31 3h1v1h-1zM4 28h1v1h-1zM14 32h1v1h-1zM46 34h1v1h-1zM13 38h1v1h-1zM26 41h1v1h-1zM23 46h1v1h-1z"/>
<path fill="#002fff" d="M36 3h1v1h-1zM1 12h1v1h-1z"/>
<path fill="#0039ff" d="M37 3h1v1h-1zM8 48h1v1h-1z"/>
<path fill="#005eff" d="M38 3h1v1h-1zM45 6h1v1h-1zM0 41h1v1h-1zM0 46h1v1h-1zM21 47h1v1h-1zM10 48h1v1h-1zM15 49h1v1h-1z"/>
<path fill="#00a2ff" d="M41 3h1v1h-1zM43 5h1v1h-1zM4 17h1v1h-1zM3 23h1v1h-1zM4 26h1v1h-1zM8 30h1v1h-1zM34 41h1v1h-1zM24 42h1v1h-1zM37 44h1v1h-1zM20 46h1v1h-1z"/>
<path fill="#00afff" d="M42 3h1v1h-1zM42 14h1v1h-1zM48 19h1v1h-1zM46 27h1v1h-1zM49 29h1v1h-1zM1 37h1v1h-1zM38 38h1v1h-1zM20 40h1v1h-1zM42 42h1v1h-1z"/>
<path fill="#0058ff" d="M46 3h1v1h-1zM42 4h1v1h-1zM9 6h1v1h-1zM16 44h1v1h-1zM11 46h1v1h-1zM13 46h1v1h-1zM17 46h2v1h-2zM11 47h1v1h-1z"/>
<path fill="#005dff" d="M47 3h1v1h-1zM49 9h1v1h-1zM9 11h1v1h-1zM49 11h1v1h-1zM1 41h1v1h-1zM4 41h1v1h-1zM4 43h1v1h-1zM33 46h1v1h-1zM1 48h1v1h-1zM9 48h1v1h-1zM1 49h1v1h-1z"/>
<path fill="#0035ff" d="M1 4h1v1h-1zM7 8h1v1h-1zM2 12h1v1h-1zM4 45h1v1h-1z"/>
<path fill="#0037ff" d="M2 4h1v1h-1zM5 42h1v1h-1z"/>
<path fill="#0026ff" d="M5 4h1v1h-1zM36 4h1v1h-1zM5 5h1v1h-1zM2 9h1v1h-1z"/>
<path fill="#003fff" d="M6 4h1v1h-1zM1 8h1v1h-1zM1 10h1v1h-1zM30 22h1v1h-1z"/>
<path fill="#002cff" d="M7 4h1v1h-1zM1 9h1v1h-1zM2 10h1v1h-1zM3 13h1v1h-1zM32 16h1v1h-1z"/>
<path fill="#004cff" d="M8 4h1v1h-1zM8 7h1v1h-1zM6 10h1v1h-1zM0 12h1v1h-1zM6 12h1v1h-1zM0 16h1v1h-1zM9 43h1v1h-1zM0 44h1v1h-1zM47 46h1v1h-1zM6 48h1v1h-1zM37 48h1v1h-1z"/>
<path fill="#007aff" d="M10 4h1v1h-1zM33 4h1v1h-1zM41 5h1v1h-1zM11 7h1v1h-1zM1 35h1v1h-1zM46 39h1v1h-1zM10 40h1v1h-1zM3 41h1v1h-1zM13 43h1v1h-1zM46 43h1v1h-1zM35 44h1v1h-1zM41 47h1v1h-1z"/>
<path fill="#00aeff" d="M14 4h1v1h-1zM41 8h1v1h-1zM48 30h1v1h-1zM3 31h1v1h-1zM16 37h1v1h-1z"/>
<path fill="#009eff" d="M15 4h1v1h-1zM32 9h1v1h-1zM5 14h1v1h-1zM48 17h1v1h-1zM1 21h1v1h-1zM49 32h1v1h-1zM8 35h1v1h-1zM36 37h1v1h-1zM47 40h1v1h-1zM13 42h1v1h-1zM22 42h1v1h-1zM37 43h1v1h-1z"/>
<path fill="#00b4ff" d="M16 4h1v1h-1zM29 4h1v1h-1zM3 17h1v1h-1zM2 25h1v1h-1zM4 25h1v1h-1zM2 27h1v1h-1zM48 29h1v1h-1zM17 34h1v1h-1zM25 37h1v1h-1zM48 38h1v1h-1zM24 39h1v1h-1z"/>
<path fill="#00eeff" d="M21 4h1v1h-1zM11 12h1v1h-1zM11 16h1v1h-1zM43 16h1v1h-1zM49 18h1v1h-1zM5 31h1v1h-1zM38 36h1v1h-1zM20 38h1v1h-1z"/>
<path fill="#00fcef" d="M22 4h1v1h-1zM6 22h1v1h-1z"/>
<path fill="#00ffb9" d="M27 4h1v1h-1zM24 7h1v1h-1zM22 9h1v1h-1zM33 33h1v1h-1z"/>
<path fill="#00ceff" d="M30 4h1v1h-1zM8 17h1v1h-1zM5 20h1v1h-1zM49 20h1v1h-1zM13 30h1v1h-1zM39 32h1v1h-1zM25 39h1v1h-1z"/>
<path fill="#0094ff" d="M31 4h1v1h-1zM33 5h1v1h-1zM33 6h1v1h-1zM44 12h1v1h-1zM3 35h1v1h-1zM11 36h1v1h-1zM45 39h1v1h-1zM15 40h1v1h-1zM28 42h1v1h-1zM36 45h1v1h-1zM28 47h1v1h-1zM30 47h1v1h-1z"/>
<path fill="#005bff" d="M34 4h1v1h-1zM1 13h1v1h-1zM2 14h1v1h-1zM5 15h1v1h-1zM1 16h1v1h-1zM3 45h1v1h-1zM32 47h1v1h-1zM44 48h1v1h-1zM13 49h1v1h-1z"/>
<path fill="#008dff" d="M35 4h1v1h-1zM44 6h1v1h-1zM13 8h1v1h-1zM48 15h1v1h-1zM49 17h1v1h-1zM1 20h1v1h-1zM45 21h1v1h-1zM1 33h1v1h-1zM44 34h1v1h-1zM14 36h1v1h-1zM9 40h1v1h-1zM14 40h1v1h-1zM19 41h1v1h-1zM40 41h1v1h-1zM36 43h1v1h-1zM23 44h1v1h-1zM18 45h1v1h-1z"/>
<path fill="#003dff" d="M37 4h1v1h-1zM2 5h1v1h-1zM47 8h1v1h-1zM4 9h1v1h-1zM5 12h1v1h-1z"/>
<path fill="#0080ff" d="M41 4h1v1h-1zM12 7h1v1h-1zM45 7h1v1h-1zM4 18h1v1h-1zM3 29h1v1h-1zM45 30h1v1h-1zM49 33h1v1h-1zM1 38h1v1h-1zM6 42h1v1h-1zM39 44h1v1h-1zM27 45h1v1h-1zM31 46h1v1h-1zM23 47h1v1h-1zM28 48h1v1h-1zM20 49h1v1h-1zM26 49h1v1h-1z"/>
<path fill="#005aff" d="M43 4h1v1h-1zM4 16h1v1h-1zM12 43h1v1h-1zM42 45h1v1h-1zM8 46h1v1h-1zM45 46h1v1h-1zM23 49h1v1h-1z"/>
<path fill="#002dff" d="M7 5h1v1h-1zM5 10h1v1h-1zM32 24h1v1h-1z"/>
<path fill="#0091ff" d="M12 5h1v1h-1zM3 26h1v1h-1zM4 33h1v1h-1zM9 42h1v1h-1zM46 42h1v1h-1zM33 45h1v1h-1z"/>
<path fill="#009aff" d="M14 5h1v1h-1zM4 19h1v1h-1zM4 20h1v1h-1zM2 26h1v1h-1zM0 29h1v1h-1zM5 30h1v1h-1zM12 31h1v1h-1zM5 35h1v1h-1zM47 37h1v1h-1zM24 41h1v1h-1zM29 42h1v1h-1z"/>
<path fill="#00aaff" d="M16 5h1v1h-1zM41 13h1v1h-1zM11 29h1v1h-1zM3 33h1v1h-1zM8 33h1v1h-1zM45 34h1v1h-1zM5 37h1v1h-1zM18 40h1v1h-1z"/>
<path fill="#00e8ff" d="M17 5h1v1h-1zM14 6h1v1h-1zM47 27h1v1h-1zM40 31h1v1h-1zM38 33h1v1h-1zM24 37h1v1h-1z"/>
<path fill="#00d2ff" d="M18 5h1v1h-1zM13 7h1v1h-1zM29 8h1v1h-1zM8 19h1v1h-1zM47 25h1v1h-1zM42 30h1v1h-1zM20 37h1v1h-1zM29 37h1v1h-1z"/>
<path fill="#00dbff" d="M19 5h1v1h-1zM18 7h1v1h-1zM9 22h1v1h-1zM42 24h1v1h-1zM10 28h1v1h-1zM9 29h1v1h-1zM44 29h1v1h-1zM0 30h1v1h-1zM14 31h1v1h-1z"/>
<path fill="#00faf4" d="M20 5h1v1h-1z"/>
<path fill="#00fdeb" d="M21 5h1v1h-1zM12 12h1v1h-1zM41 21h1v1h-1zM40 23h1v1h-1zM44 24h1v1h-1zM39 25h1v1h-1zM12 26h1v1h-1zM22 36h1v1h-1z"/>
<path fill="#00ffd7" d="M22 5h1v1h-1zM14 10h1v1h-1zM16 12h1v1h-1zM13 13h1v1h-1zM39 27h1v1h-1zM35 28h1v1h-1zM18 32h1v1h-1zM29 36h1v1h-1z"/>
<path fill="#00faf3" d="M23 5h1v1h-1zM25 8h1v1h-1zM15 9h1v1h-1zM41 19h1v1h-1zM7 26h1v1h-1z"/>
<path fill="#00daff" d="M24 5h1v1h-1zM10 12h1v1h-1zM6 18h1v1h-1zM45 20h1v1h-1zM42 32h1v1h-1zM44 37h1v1h-1zM29 39h1v1h-1zM34 40h1v1h-1zM35 42h1v1h-1z"/>
<path fill="#00f6fc" d="M25 5h1v1h-1zM7 18h1v1h-1zM10 22h1v1h-1zM29 33h1v1h-1zM11 34h1v1h-1zM34 36h1v1h-1z"/>
<path fill="#00f3ff" d="M29 5h1v1h-1zM12 11h1v1h-1zM10 15h1v1h-1zM11 22h1v1h-1zM38 25h1v1h-1zM9 31h1v1h-1zM13 31h1v1h-1zM31 35h1v1h-1z"/>
<path fill="#0084ff" d="M31 5h1v1h-1zM34 6h1v1h-1zM11 9h1v1h-1zM7 13h1v1h-1zM1 24h1v1h-1zM49 36h1v1h-1zM30 42h1v1h-1zM41 48h1v1h-1z"/>
<path fill="#0022ff" d="M37 5h1v1h-1zM33 14h1v1h-1zM31 28h1v1h-1zM30 32h1v1h-1z"/>
<path fill="#002bff" d="M0 6h1v1h-1z"/>
<path fill="#0024ff" d="M4 6h1v1h-1z"/>
<path fill="#0023ff" d="M6 6h1v1h-1zM2 8h1v1h-1zM29 27h1v1h-1zM3 48h1v1h-1z"/>
<path fill="#00fbf0" d="M15 6h1v1h-1zM24 8h1v1h-1zM30 8h1v1h-1zM9 21h1v1h-1zM45 22h1v1h-1zM42 29h1v1h-1zM37 33h1v1h-1zM31 36h1v1h-1z"/>
<path fill="#00fee9" d="M17 6h1v1h-1zM21 7h1v1h-1zM32 13h1v1h-1zM42 19h1v1h-1zM7 21h1v1h-1zM12 30h1v1h-1zM39 30h1v1h-1zM35 37h1v1h-1zM18 38h1v1h-1z"/>
<path fill="#00ffe3" d="M18 6h1v1h-1zM29 11h1v1h-1zM35 30h1v1h-1z"/>
<path fill="#00ffda" d="M20 6h1v1h-1zM24 6h1v1h-1zM11 28h1v1h-1zM27 34h1v1h-1zM40 35h1v1h-1z"/>
<path fill="#00e4ff" d="M21 6h1v1h-1zM48 21h1v1h-1z"/>
<path fill="#00ffb7" d="M22 6h1v1h-1zM31 33h1v1h-1zM23 34h1v1h-1z"/>
<path fill="#00f9f4" d="M26 6h1v1h-1zM41 16h1v1h-1z"/>
<path fill="#00ffe1" d="M27 6h1v1h-1zM39 33h1v1h-1zM20 34h1v1h-1z"/>
<path fill="#00cfff" d="M28 6h1v1h-1zM29 7h1v1h-1zM46 25h1v1h-1zM9 30h1v1h-1zM3 32h1v1h-1zM15 34h1v1h-1zM17 38h1v1h-1zM37 39h1v1h-1zM40 39h1v1h-1z"/>
<path fill="#00b9ff" d="M31 6h1v1h-1zM41 9h1v1h-1zM6 27h1v1h-1zM3 28h1v1h-1zM45 29h1v1h-1zM42 31h1v1h-1zM48 32h1v1h-1zM19 39h1v1h-1zM31 40h1v1h-1z"/>
<path fill="#0063ff" d="M35 6h1v1h-1zM6 11h1v1h-1zM2 17h1v1h-1zM49 40h1v1h-1zM3 42h1v1h-1zM41 42h1v1h-1zM25 43h1v1h-1zM12 45h1v1h-1z"/>
<path fill="#0044ff" d="M37 6h1v1h-1zM1 11h1v1h-1zM45 47h1v1h-1zM5 48h1v1h-1zM39 48h1v1h-1z"/>
<path fill="#008bff" d="M42 6h1v1h-1zM41 10h1v1h-1zM42 11h1v1h-1zM47 11h1v1h-1zM48 12h1v1h-1zM47 22h1v1h-1zM2 30h1v1h-1zM4 37h1v1h-1zM39 40h1v1h-1zM8 41h1v1h-1zM13 45h1v1h-1zM22 45h1v1h-1z"/>
<path fill="#0053ff" d="M47 6h1v1h-1zM6 7h1v1h-1zM0 43h1v1h-1zM41 46h1v1h-1zM17 49h1v1h-1z"/>
<path fill="#0059ff" d="M48 6h1v1h-1zM4 7h1v1h-1zM8 44h1v1h-1zM9 45h1v1h-1zM8 47h1v1h-1zM12 47h1v1h-1zM11 48h1v1h-1zM34 48h1v1h-1z"/>
<path fill="#0038ff" d="M49 6h1v1h-1z"/>
<path fill="#0025ff" d="M0 7h1v1h-1zM0 9h1v1h-1zM32 25h1v1h-1z"/>
<path fill="#001eff" d="M1 7h1v1h-1zM35 17h1v1h-1zM29 26h1v1h-1z"/>
<path fill="#0092ff" d="M14 7h1v1h-1zM46 21h1v1h-1zM48 26h1v1h-1zM48 37h1v1h-1zM15 39h1v1h-1zM7 40h1v1h-1zM32 42h1v1h-1zM36 42h1v1h-1zM24 45h1v1h-1z"/>
<path fill="#00f8f6" d="M20 7h1v1h-1zM16 9h1v1h-1zM14 30h1v1h-1zM28 38h1v1h-1z"/>
<path fill="#00ffc9" d="M22 7h1v1h-1zM26 8h1v1h-1zM32 12h1v1h-1zM11 15h1v1h-1zM45 17h1v1h-1zM42 20h1v1h-1z"/>
<path fill="#00e1ff" d="M23 7h1v1h-1zM44 20h1v1h-1zM45 25h1v1h-1zM11 26h1v1h-1zM41 28h1v1h-1zM46 30h1v1h-1zM40 32h1v1h-1zM40 34h1v1h-1zM30 37h1v1h-1z"/>
<path fill="#00ffd0" d="M26 7h1v1h-1zM40 13h1v1h-1zM12 21h1v1h-1z"/>
<path fill="#00efff" d="M31 7h1v1h-1zM33 11h1v1h-1zM46 16h1v1h-1zM42 17h1v1h-1zM12 25h1v1h-1zM1 26h1v1h-1zM10 27h1v1h-1zM8 32h1v1h-1zM43 34h1v1h-1zM14 39h1v1h-1z"/>
<path fill="#0001c4" d="M36 7h1v1h-1z"/>
<path fill="#0004ce" d="M37 7h1v1h-1z"/>
<path fill="#0032ff" d="M38 7h1v1h-1z"/>
<path fill="#0061ff" d="M46 7h1v1h-1zM43 8h1v1h-1zM43 48h1v1h-1zM8 49h2v1h-2zM49 49h1v1h-1z"/>
<path fill="#003cff" d="M0 8h1v1h-1zM7 10h1v1h-1zM2 13h1v1h-1zM0 45h1v1h-1zM11 49h1v1h-1z"/>
<path fill="#0020ff" d="M3 8h1v1h-1zM34 11h1v1h-1zM34 19h1v1h-1z"/>
<path fill="#0018ff" d="M5 8h1v1h-1z"/>
<path fill="#003bff" d="M6 8h1v1h-1zM46 46h1v1h-1z"/>
<path fill="#006dff" d="M10 8h1v1h-1zM45 11h1v1h-1zM8 43h1v1h-1zM44 43h1v1h-1zM35 47h1v1h-1zM42 47h1v1h-1zM16 48h1v1h-1zM27 48h1v1h-1z"/>
<path fill="#00b8ff" d="M14 8h1v1h-1zM23 42h1v1h-1z"/>
<path fill="#00c3ff" d="M16 8h1v1h-1zM12 13h1v1h-1zM39 31h1v1h-1zM11 33h1v1h-1zM39 36h1v1h-1zM21 38h1v1h-1zM21 39h1v1h-1z"/>
<path fill="#00ff98" d="M18 8h1v1h-1zM13 23h1v1h-1z"/>
<path fill="#00ff9d" d="M19 8h1v1h-1zM39 19h1v1h-1zM25 34h1v1h-1z"/>
<path fill="#00ffdb" d="M20 8h1v1h-1zM17 9h1v1h-1zM19 10h1v1h-1zM27 10h1v1h-1zM9 19h1v1h-1zM10 23h1v1h-1z"/>
<path fill="#00f1ff" d="M21 8h1v1h-1zM5 26h1v1h-1zM40 27h1v1h-1zM28 37h1v1h-1zM22 40h1v1h-1z"/>
<path fill="#00ffbd" d="M22 8h1v1h-1zM18 12h1v1h-1zM31 12h1v1h-1zM15 13h1v1h-1zM12 15h1v1h-1zM11 20h1v1h-1z"/>
<path fill="#00ff9f" d="M23 8h1v1h-1zM11 18h1v1h-1zM15 26h1v1h-1zM16 29h1v1h-1z"/>
<path fill="#00ffcb" d="M27 8h1v1h-1zM14 24h1v1h-1z"/>
<path fill="#00ffbf" d="M28 8h1v1h-1zM15 29h1v1h-1zM18 31h1v1h-1z"/>
<path fill="#008cff" d="M34 8h1v1h-1zM48 14h1v1h-1zM49 15h1v1h-1zM3 22h1v1h-1zM6 32h1v1h-1zM9 34h1v1h-1zM0 35h1v1h-1zM4 36h1v1h-1zM0 37h1v1h-1zM8 37h1v1h-1zM0 38h1v1h-1zM2 39h1v1h-1zM41 40h1v1h-1zM45 42h1v1h-1zM16 43h1v1h-1zM21 43h1v1h-1zM15 44h1v1h-1z"/>
<path fill="#0000ae" d="M35 8h1v1h-1z"/>
<path fill="#0005d3" d="M36 8h1v1h-1z"/>
<path fill="#0001c2" d="M37 8h1v1h-1z"/>
<path fill="#003eff" d="M7 9h1v1h-1zM7 44h1v1h-1z"/>
<path fill="#007fff" d="M10 9h1v1h-1zM2 18h2v1h-2zM5 25h1v1h-1zM4 31h1v1h-1zM27 41h1v1h-1zM33 43h1v1h-1zM17 44h1v1h-1zM27 44h1v1h-1zM8 45h1v1h-1zM26 46h1v1h-1zM30 48h1v1h-1z"/>
<path fill="#00ffd1" d="M14 9h1v1h-1zM12 22h1v1h-1zM39 22h1v1h-1zM39 23h1v1h-1zM40 24h1v1h-1zM20 33h1v1h-1zM25 35h1v1h-1z"/>
<path fill="#00ffbc" d="M18 9h1v1h-1zM19 12h1v1h-1zM10 19h1v1h-1zM37 26h1v1h-1zM15 28h1v1h-1zM19 30h2v1h-2zM21 32h1v1h-1z"/>
<path fill="#00ffad" d="M19 9h1v1h-1zM26 34h1v1h-1z"/>
<path fill="#00ff97" d="M21 9h1v1h-1zM26 12h1v1h-1zM27 32h1v1h-1z"/>
<path fill="#00ffce" d="M23 9h1v1h-1zM41 24h1v1h-1z"/>
<path fill="#00ffa2" d="M24 9h1v1h-1zM36 28h1v1h-1z"/>
<path fill="#00ff82" d="M25 9h1v1h-1zM29 12h1v1h-1zM13 18h1v1h-1zM35 32h1v1h-1z"/>
<path fill="#00ffaa" d="M26 9h1v1h-1zM39 24h1v1h-1zM14 27h1v1h-1z"/>
<path fill="#00ffcf" d="M27 9h1v1h-1zM9 17h1v1h-1zM11 21h1v1h-1zM13 29h1v1h-1zM34 31h1v1h-1z"/>
<path fill="#00ffd8" d="M28 9h1v1h-1zM9 16h1v1h-1zM11 23h1v1h-1z"/>
<path fill="#00c8ff" d="M29 9h1v1h-1zM44 19h1v1h-1zM3 30h1v1h-1zM11 32h1v1h-1zM26 35h1v1h-1zM36 35h1v1h-1zM27 37h1v1h-1z"/>
<path fill="#00d7ff" d="M30 9h1v1h-1zM6 17h1v1h-1zM6 23h1v1h-1zM46 23h1v1h-1zM43 24h1v1h-1zM5 27h1v1h-1zM49 31h1v1h-1zM14 33h1v1h-1zM12 34h1v1h-1zM15 36h1v1h-1zM32 38h1v1h-1z"/>
<path fill="#00bdff" d="M31 9h1v1h-1zM12 10h1v1h-1zM13 12h1v1h-1zM45 26h1v1h-1zM29 38h1v1h-1zM35 38h1v1h-1zM13 40h1v1h-1z"/>
<path fill="#00b5ff" d="M33 9h1v1h-1zM46 20h2v1h-2zM0 26h1v1h-1zM2 34h1v1h-1zM17 40h1v1h-1z"/>
<path fill="#009cff" d="M34 9h1v1h-1zM11 10h1v1h-1zM4 24h1v1h-1zM43 33h1v1h-1zM12 35h1v1h-1zM42 41h1v1h-1zM22 43h1v1h-1zM29 45h1v1h-1z"/>
<path fill="#000016" d="M35 9h1v1h-1z"/>
<path fill="#000042" d="M36 9h1v1h-1z"/>
<path fill="#00002e" d="M37 9h1v1h-1zM37 10h1v1h-1z"/>
<path fill="#0012ff" d="M38 9h1v1h-1z"/>
<path fill="#0062ff" d="M40 9h1v1h-1zM6 38h1v1h-1zM10 41h1v1h-1zM38 42h1v1h-1zM31 45h1v1h-1zM3 46h1v1h-1zM33 47h1v1h-1zM18 49h1v1h-1z"/>
<path fill="#00beff" d="M43 9h1v1h-1zM5 17h1v1h-1zM48 25h1v1h-1zM41 30h1v1h-1zM18 37h1v1h-1zM12 40h1v1h-1zM29 41h1v1h-1zM32 43h1v1h-1z"/>
<path fill="#0034ff" d="M3 10h2v1h-2z"/>
<path fill="#00f2ff" d="M13 10h1v1h-1zM8 25h1v1h-1zM19 32h1v1h-1zM35 34h1v1h-1zM17 37h1v1h-1z"/>
<path fill="#00ffb8" d="M15 10h1v1h-1zM12 17h1v1h-1z"/>
<path fill="#00ffc4" d="M17 10h1v1h-1zM33 12h1v1h-1zM28 34h1v1h-1z"/>
<path fill="#00ffa7" d="M18 10h1v1h-1zM14 16h1v1h-1zM13 19h1v1h-1zM15 25h1v1h-1zM24 33h1v1h-1z"/>
<path fill="#00ffc8" d="M20 10h1v1h-1zM44 17h1v1h-1zM12 27h1v1h-1z"/>
<path fill="#00ff8f" d="M21 10h1v1h-1zM16 17h1v1h-1zM34 25h1v1h-1z"/>
<path fill="#00ff91" d="M22 10h1v1h-1zM21 11h1v1h-1zM27 11h1v1h-1z"/>
<path fill="#00ff86" d="M23 10h1v1h-1zM18 14h1v1h-1z"/>
<path fill="#00ff92" d="M24 10h1v1h-1zM25 12h1v1h-1zM38 21h1v1h-1zM38 27h1v1h-1z"/>
<path fill="#00ff5b" d="M25 10h1v1h-1zM20 14h1v1h-1zM26 33h1v1h-1z"/>
<path fill="#00ffa3" d="M26 10h1v1h-1zM38 16h1v1h-1zM37 23h1v1h-1z"/>
<path fill="#00fbef" d="M28 10h1v1h-1zM30 10h1v1h-1zM41 22h1v1h-1zM46 22h1v1h-1zM34 29h1v1h-1zM22 35h1v1h-1z"/>
<path fill="#00fced" d="M29 10h1v1h-1zM33 13h1v1h-1zM11 19h1v1h-1zM16 34h1v1h-1zM18 34h1v1h-1zM25 36h1v1h-1zM26 39h1v1h-1z"/>
<path fill="#009bff" d="M31 10h1v1h-1zM44 11h1v1h-1zM0 17h1v1h-1zM47 28h1v1h-1zM2 29h1v1h-1zM4 30h1v1h-1zM0 33h1v1h-1zM10 37h1v1h-1zM9 38h1v1h-1zM40 38h1v1h-1zM42 39h1v1h-1zM29 44h1v1h-1zM38 44h1v1h-1z"/>
<path fill="#00dfff" d="M34 10h1v1h-1zM45 16h1v1h-1zM47 19h1v1h-1zM34 37h1v1h-1zM46 37h1v1h-1zM38 41h1v1h-1z"/>
<path fill="#00000c" d="M35 10h1v1h-1zM33 20h1v1h-1zM30 24h1v1h-1zM31 26h1v1h-1zM29 32h1v1h-1z"/>
<path fill="#00003a" d="M36 10h1v1h-1z"/>
<path fill="#0aff36" d="M38 10h1v1h-1zM18 26h1v1h-1z"/>
<path fill="#00ff44" d="M39 10h1v1h-1zM17 17h1v1h-1zM35 22h1v1h-1z"/>
<path fill="#0079ff" d="M40 10h1v1h-1zM43 10h1v1h-1zM1 22h1v1h-1zM6 35h1v1h-1zM42 40h1v1h-1zM44 40h1v1h-1zM2 41h1v1h-1zM48 43h1v1h-1zM30 46h1v1h-1zM26 48h1v1h-1zM40 49h1v1h-1z"/>
<path fill="#004bff" d="M0 11h1v1h-1zM46 11h1v1h-1zM36 14h1v1h-1zM31 29h1v1h-1zM1 45h1v1h-1zM46 49h1v1h-1z"/>
<path fill="#00abff" d="M10 11h1v1h-1zM9 14h1v1h-1zM44 14h1v1h-1zM6 15h1v1h-1zM47 26h1v1h-1zM42 34h1v1h-1zM42 35h1v1h-1zM45 38h1v1h-1zM40 40h1v1h-1zM11 43h1v1h-1z"/>
<path fill="#00f4ff" d="M13 11h1v1h-1zM42 21h1v1h-1z"/>
<path fill="#00ffc3" d="M15 11h1v1h-1zM30 13h1v1h-1zM21 34h1v1h-1z"/>
<path fill="#00ff90" d="M17 11h1v1h-1zM31 14h1v1h-1z"/>
<path fill="#00ff8a" d="M18 11h1v1h-1zM36 22h1v1h-1zM36 25h1v1h-1z"/>
<path fill="#00ffc6" d="M19 11h1v1h-1zM22 33h1v1h-1zM28 35h1v1h-1zM23 36h1v1h-1z"/>
<path fill="#00ff79" d="M20 11h1v1h-1zM36 21h1v1h-1zM20 31h1v1h-1z"/>
<path fill="#00ff85" d="M22 11h1v1h-1zM37 20h1v1h-1z"/>
<path fill="#00ff7e" d="M23 11h1v1h-1zM18 27h1v1h-1zM14 28h1v1h-1z"/>
<path fill="#00ff69" d="M24 11h1v1h-1zM38 19h1v1h-1zM16 28h1v1h-1zM17 29h1v1h-1z"/>
<path fill="#00ffac" d="M25 11h1v1h-1z"/>
<path fill="#00ff73" d="M26 11h1v1h-1z"/>
<path fill="#00ff83" d="M28 11h1v1h-1z"/>
<path fill="#00ffd4" d="M30 11h1v1h-1z"/>
<path fill="#00c7ff" d="M31 11h1v1h-1zM7 30h1v1h-1zM34 39h1v1h-1zM32 41h1v1h-1z"/>
<path fill="#00d1ff" d="M32 11h1v1h-1zM17 33h1v1h-1zM39 38h1v1h-1zM16 39h1v1h-1zM22 48h1v1h-1z"/>
<path fill="#00001b" d="M35 11h1v1h-1z"/>
<path fill="#000039" d="M36 11h1v1h-1z"/>
<path fill="#00004b" d="M37 11h1v1h-1z"/>
<path fill="#22ff1f" d="M38 11h1v1h-1zM19 15h1v1h-1zM17 18h1v1h-1zM35 18h1v1h-1zM32 27h1v1h-1zM24 31h1v1h-1z"/>
<path fill="#00ff58" d="M39 11h1v1h-1z"/>
<path fill="#00caff" d="M40 11h1v1h-1zM48 23h1v1h-1zM4 29h1v1h-1zM37 32h1v1h-1zM19 38h1v1h-1zM22 38h1v1h-1z"/>
<path fill="#0089ff" d="M7 12h1v1h-1zM47 16h1v1h-1zM5 22h1v1h-1zM0 36h1v1h-1zM49 37h1v1h-1zM16 40h1v1h-1zM46 40h1v1h-1zM37 41h1v1h-1zM25 44h1v1h-1z"/>
<path fill="#00ffc2" d="M14 12h1v1h-1z"/>
<path fill="#00ff9e" d="M17 12h1v1h-1zM16 14h1v1h-1z"/>
<path fill="#00ff49" d="M20 12h1v1h-1zM27 31h1v1h-1z"/>
<path fill="#00ff7c" d="M21 12h1v1h-1zM16 22h1v1h-1z"/>
<path fill="#00ff4e" d="M22 12h1v1h-1zM24 13h1v1h-1zM15 24h1v1h-1zM33 29h1v1h-1z"/>
<path fill="#00ff50" d="M23 12h1v1h-1zM30 15h1v1h-1zM38 17h1v1h-1z"/>
<path fill="#00ff55" d="M24 12h1v1h-1zM17 16h1v1h-1zM31 16h1v1h-1zM16 24h1v1h-1z"/>
<path fill="#00ff5e" d="M27 12h1v1h-1zM26 31h1v1h-1z"/>
<path fill="#00ffb3" d="M28 12h1v1h-1zM34 27h1v1h-1z"/>
<path fill="#00ffb0" d="M30 12h1v1h-1z"/>
<path fill="#000cf0" d="M34 12h1v1h-1z"/>
<path fill="#00002d" d="M35 12h1v1h-1z"/>
<path fill="#000031" d="M36 12h1v1h-1zM33 19h1v1h-1z"/>
<path fill="#000ef8" d="M37 12h1v1h-1z"/>
<path fill="#21ff20" d="M38 12h1v1h-1zM19 25h1v1h-1z"/>
<path fill="#00ff6c" d="M39 12h1v1h-1z"/>
<path fill="#00f9f6" d="M10 13h1v1h-1zM12 14h1v1h-1zM16 35h1v1h-1zM23 38h1v1h-1z"/>
<path fill="#00ffc5" d="M16 13h1v1h-1zM13 14h1v1h-1zM12 18h1v1h-1zM21 36h1v1h-1zM33 36h1v1h-1z"/>
<path fill="#00ff77" d="M17 13h1v1h-1zM36 20h1v1h-1zM38 22h1v1h-1z"/>
<path fill="#00ff4f" d="M18 13h1v1h-1zM21 13h1v1h-1zM31 15h1v1h-1zM19 16h1v1h-1zM16 18h1v1h-1z"/>
<path fill="#00ff99" d="M19 13h1v1h-1zM12 19h1v1h-1z"/>
<path fill="#00ff43" d="M20 13h1v1h-1zM17 23h1v1h-1zM24 27h1v1h-1zM22 30h1v1h-1z"/>
<path fill="#00ff63" d="M22 13h1v1h-1zM15 16h1v1h-1zM23 30h1v1h-1z"/>
<path fill="#44ff0e" d="M23 13h1v1h-1zM34 21h1v1h-1z"/>
<path fill="#00ff62" d="M25 13h1v1h-1zM38 15h1v1h-1zM28 27h1v1h-1z"/>
<path fill="#00ff4b" d="M26 13h1v1h-1zM37 16h1v1h-1zM34 23h1v1h-1z"/>
<path fill="#00ff66" d="M27 13h1v1h-1zM34 24h1v1h-1z"/>
<path fill="#00ff94" d="M28 13h1v1h-1zM29 14h1v1h-1zM38 23h1v1h-1zM27 29h1v1h-1zM33 31h1v1h-1z"/>
<path fill="#00ffa4" d="M29 13h1v1h-1zM13 28h1v1h-1zM17 28h1v1h-1z"/>
<path fill="#000056" d="M34 13h1v1h-1z"/>
<path fill="#000025" d="M35 13h1v1h-1zM30 29h1v1h-1z"/>
<path fill="#000044" d="M36 13h1v1h-1z"/>
<path fill="#38ff14" d="M38 13h1v1h-1z"/>
<path fill="#00ff61" d="M39 13h1v1h-1zM15 20h1v1h-1z"/>
<path fill="#00a8ff" d="M47 13h1v1h-1zM46 24h1v1h-1zM43 35h1v1h-1zM49 35h1v1h-1zM41 39h1v1h-1zM15 41h1v1h-1zM18 44h1v1h-1z"/>
<path fill="#00c2ff" d="M8 14h1v1h-1zM46 32h1v1h-1zM37 35h1v1h-1zM30 36h1v1h-1zM45 37h1v1h-1zM30 43h1v1h-1z"/>
<path fill="#00ccff" d="M10 14h1v1h-1zM48 20h1v1h-1zM45 28h1v1h-1zM46 29h1v1h-1zM46 33h1v1h-1zM8 36h1v1h-1zM16 36h1v1h-1zM26 37h1v1h-1zM2 38h1v1h-1zM16 38h1v1h-1zM26 40h1v1h-1zM23 43h1v1h-1z"/>
<path fill="#00ff7f" d="M14 14h1v1h-1zM38 24h1v1h-1zM36 27h1v1h-1zM34 28h1v1h-1z"/>
<path fill="#00ff95" d="M15 14h1v1h-1z"/>
<path fill="#00ff80" d="M17 14h1v1h-1zM13 21h1v1h-1z"/>
<path fill="#04ff3c" d="M19 14h1v1h-1zM20 25h1v1h-1zM21 27h1v1h-1z"/>
<path fill="#1dff23" d="M21 14h1v1h-1z"/>
<path fill="#26ff1d" d="M22 14h1v1h-1zM25 28h1v1h-1zM26 29h1v1h-1z"/>
<path fill="#28ff1c" d="M23 14h1v1h-1zM18 16h1v1h-1z"/>
<path fill="#2cff1a" d="M24 14h1v1h-1zM31 31h1v1h-1z"/>
<path fill="#30ff18" d="M25 14h1v1h-1z"/>
<path fill="#46ff0d" d="M26 14h1v1h-1zM30 21h1v1h-1z"/>
<path fill="#33ff16" d="M27 14h1v1h-1z"/>
<path fill="#06ff3a" d="M28 14h1v1h-1zM36 18h1v1h-1z"/>
<path fill="#00ff53" d="M30 14h1v1h-1zM18 15h1v1h-1zM36 19h1v1h-1zM25 29h1v1h-1z"/>
<path fill="#00ffb4" d="M32 14h1v1h-1zM40 16h1v1h-1zM14 25h1v1h-1zM37 25h1v1h-1zM33 30h1v1h-1zM20 32h1v1h-1z"/>
<path fill="#000084" d="M34 14h1v1h-1z"/>
<path fill="#000028" d="M35 14h1v1h-1zM30 28h1v1h-1z"/>
<path fill="#32ff17" d="M37 14h1v1h-1z"/>
<path fill="#09ff37" d="M38 14h1v1h-1z"/>
<path fill="#00ffe2" d="M39 14h1v1h-1zM12 28h1v1h-1zM36 31h1v1h-1zM32 34h1v1h-1z"/>
<path fill="#00e6ff" d="M43 14h1v1h-1zM44 18h1v1h-1zM44 25h1v1h-1zM8 31h1v1h-1zM46 31h1v1h-1zM16 33h1v1h-1zM37 34h2v1h-2zM34 35h1v1h-1zM23 37h1v1h-1z"/>
<path fill="#00b3ff" d="M8 15h1v1h-1zM44 33h1v1h-1zM33 39h1v1h-1z"/>
<path fill="#00f7f9" d="M9 15h1v1h-1zM42 25h1v1h-1z"/>
<path fill="#00ffbe" d="M14 15h1v1h-1zM12 16h1v1h-1zM33 34h1v1h-1z"/>
<path fill="#00ff54" d="M15 15h1v1h-1z"/>
<path fill="#00ff41" d="M16 15h1v1h-1zM16 21h1v1h-1zM26 27h1v1h-1zM21 28h1v1h-1zM32 31h1v1h-1z"/>
<path fill="#00ff88" d="M17 15h1v1h-1zM35 26h1v1h-1z"/>
<path fill="#62ff00" d="M20 15h1v1h-1z"/>
<path fill="#3cff12" d="M21 15h1v1h-1zM32 30h1v1h-1z"/>
<path fill="#41ff10" d="M22 15h1v1h-1z"/>
<path fill="#6dff00" d="M23 15h1v1h-1zM19 21h1v1h-1z"/>
<path fill="#86ff00" d="M24 15h1v1h-1zM29 19h1v1h-1z"/>
<path fill="#6bff00" d="M25 15h1v1h-1zM22 26h1v1h-1z"/>
<path fill="#65ff00" d="M26 15h1v1h-1zM19 24h1v1h-1z"/>
<path fill="#69ff00" d="M27 15h2v1h-2z"/>
<path fill="#00ff59" d="M29 15h1v1h-1zM14 18h1v1h-1zM37 19h1v1h-1zM14 21h1v1h-1zM24 32h1v1h-1z"/>
<path fill="#00ff8c" d="M32 15h1v1h-1zM13 22h1v1h-1zM14 26h1v1h-1z"/>
<path fill="#00001f" d="M33 15h1v1h-1zM33 18h1v1h-1z"/>
<path fill="#000059" d="M34 15h1v1h-1z"/>
<path fill="#00002f" d="M35 15h1v1h-1zM34 17h1v1h-1z"/>
<path fill="#00ff47" d="M37 15h1v1h-1zM28 26h1v1h-1zM20 29h1v1h-1zM26 30h1v1h-1z"/>
<path fill="#00ebff" d="M40 15h1v1h-1zM6 21h1v1h-1zM43 23h1v1h-1zM10 24h1v1h-1zM17 35h1v1h-1zM21 42h1v1h-1z"/>
<path fill="#00ffdf" d="M41 15h2v1h-2zM10 25h1v1h-1z"/>
<path fill="#00d5ff" d="M43 15h1v1h-1zM9 27h1v1h-1zM42 28h1v1h-1zM46 28h1v1h-1zM19 33h1v1h-1zM45 33h1v1h-1zM46 35h1v1h-1z"/>
<path fill="#00a4ff" d="M44 15h1v1h-1zM5 16h1v1h-1zM2 32h1v1h-1zM1 36h1v1h-1zM36 36h1v1h-1zM30 40h1v1h-1zM4 42h1v1h-1zM24 44h1v1h-1zM26 47h1v1h-1z"/>
<path fill="#00ffaf" d="M13 16h1v1h-1z"/>
<path fill="#00ff60" d="M16 16h1v1h-1z"/>
<path fill="#66ff00" d="M20 16h1v1h-1zM28 16h1v1h-1z"/>
<path fill="#77ff00" d="M21 16h1v1h-1zM23 25h1v1h-1z"/>
<path fill="#a0ff00" d="M22 16h1v1h-1zM28 18h1v1h-1z"/>
<path fill="#a2ff00" d="M23 16h1v1h-1z"/>
<path fill="#dbff00" d="M24 16h1v1h-1z"/>
<path fill="#a4ff00" d="M25 16h1v1h-1zM23 24h1v1h-1z"/>
<path fill="#afff00" d="M26 16h1v1h-1z"/>
<path fill="#6fff00" d="M27 16h1v1h-1z"/>
<path fill="#75ff00" d="M29 16h1v1h-1z"/>
<path fill="#13ff2d" d="M30 16h1v1h-1z"/>
<path fill="#00003e" d="M33 16h1v1h-1z"/>
<path fill="#00003b" d="M34 16h1v1h-1z"/>
<path fill="#00005e" d="M35 16h1v1h-1z"/>
<path fill="#20ff20" d="M36 16h1v1h-1z"/>
<path fill="#00ffa1" d="M39 16h1v1h-1zM38 26h1v1h-1zM17 30h1v1h-1z"/>
<path fill="#00d0ff" d="M48 16h1v1h-1zM1 32h1v1h-1zM38 35h1v1h-1zM44 36h1v1h-1zM30 44h1v1h-1z"/>
<path fill="#00ff96" d="M10 17h1v1h-1zM39 21h1v1h-1z"/>
<path fill="#00ff89" d="M13 17h1v1h-1z"/>
<path fill="#00ff64" d="M14 17h1v1h-1z"/>
<path fill="#00ff74" d="M15 17h1v1h-1zM18 28h1v1h-1z"/>
<path fill="#51ff07" d="M18 17h1v1h-1z"/>
<path fill="#12ff2e" d="M19 17h1v1h-1z"/>
<path fill="#60ff00" d="M20 17h1v1h-1zM18 21h1v1h-1z"/>
<path fill="#9dff00" d="M21 17h1v1h-1z"/>
<path fill="#e7ff00" d="M22 17h1v1h-1zM26 17h1v1h-1zM21 22h1v1h-1z"/>
<path fill="#ffb500" d="M23 17h1v1h-1zM26 18h1v1h-1z"/>
<path fill="#ffc800" d="M24 17h1v1h-1z"/>
<path fill="#ffd400" d="M25 17h1v1h-1z"/>
<path fill="#bfff00" d="M27 17h1v1h-1z"/>
<path fill="#89ff00" d="M28 17h1v1h-1z"/>
<path fill="#48ff0c" d="M29 17h1v1h-1z"/>
<path fill="#0cff34" d="M30 17h1v1h-1zM16 19h1v1h-1zM28 25h1v1h-1zM32 28h1v1h-1z"/>
<path fill="#4fff09" d="M31 17h1v1h-1zM36 17h1v1h-1z"/>
<path fill="#0031ff" d="M32 17h1v1h-1z"/>
<path fill="#00008f" d="M33 17h1v1h-1z"/>
<path fill="#00ff4c" d="M37 17h1v1h-1zM14 19h1v1h-1z"/>
<path fill="#00ffe7" d="M39 17h1v1h-1zM40 20h1v1h-1z"/>
<path fill="#00ffcc" d="M40 17h1v1h-1zM42 26h1v1h-1zM38 29h1v1h-1z"/>
<path fill="#00ffba" d="M41 17h1v1h-1zM16 27h1v1h-1z"/>
<path fill="#00ff6a" d="M15 18h1v1h-1zM16 23h1v1h-1z"/>
<path fill="#18ff28" d="M18 18h1v1h-1z"/>
<path fill="#63ff00" d="M19 18h1v1h-1zM18 20h1v1h-1z"/>
<path fill="#93ff00" d="M20 18h1v1h-1z"/>
<path fill="#e2ff00" d="M21 18h1v1h-1z"/>
<path fill="#fffc00" d="M22 18h1v1h-1z"/>
<path fill="#ffb700" d="M23 18h1v1h-1z"/>
<path fill="#ff4a02" d="M24 18h1v1h-1z"/>
<path fill="#ff9700" d="M25 18h1v1h-1z"/>
<path fill="#d3ff00" d="M27 18h1v1h-1z"/>
<path fill="#80ff00" d="M29 18h1v1h-1z"/>
<path fill="#71ff00" d="M30 18h1v1h-1zM29 23h1v1h-1z"/>
<path fill="#19ff27" d="M31 18h1v1h-1zM18 25h1v1h-1z"/>
<path fill="#000037" d="M32 18h1v1h-1z"/>
<path fill="#000033" d="M34 18h1v1h-1z"/>
<path fill="#0dff33" d="M37 18h1v1h-1z"/>
<path fill="#00ff51" d="M38 18h1v1h-1zM33 27h1v1h-1z"/>
<path fill="#00ffd2" d="M39 18h1v1h-1z"/>
<path fill="#00ffb1" d="M40 18h1v1h-1zM40 22h1v1h-1zM36 29h1v1h-1z"/>
<path fill="#00ff71" d="M41 18h1v1h-1zM21 30h1v1h-1z"/>
<path fill="#00cdff" d="M42 18h1v1h-1zM49 24h1v1h-1zM27 38h1v1h-1zM23 41h1v1h-1z"/>
<path fill="#00ffd6" d="M43 18h1v1h-1zM40 28h1v1h-1zM30 35h1v1h-1z"/>
<path fill="#00b7ff" d="M48 18h1v1h-1zM41 34h1v1h-1zM41 35h1v1h-1zM31 37h1v1h-1zM0 39h1v1h-1zM36 39h1v1h-1zM36 41h1v1h-1zM29 46h1v1h-1z"/>
<path fill="#00c4ff" d="M3 19h1v1h-1zM6 19h1v1h-1zM7 27h1v1h-1zM48 36h1v1h-1zM11 37h1v1h-1zM36 38h1v1h-1zM35 40h1v1h-1zM26 43h1v1h-1z"/>
<path fill="#00bbff" d="M5 19h1v1h-1zM47 35h1v1h-1zM31 44h1v1h-1z"/>
<path fill="#00c5ff" d="M7 19h1v1h-1zM46 19h1v1h-1zM5 23h1v1h-1zM5 29h1v1h-1zM18 43h1v1h-1z"/>
<path fill="#49ff0b" d="M17 19h1v1h-1z"/>
<path fill="#61ff00" d="M18 19h1v1h-1z"/>
<path fill="#64ff00" d="M19 19h1v1h-1zM30 20h1v1h-1zM21 25h1v1h-1z"/>
<path fill="#9aff00" d="M20 19h1v1h-1z"/>
<path fill="#deff00" d="M21 19h1v1h-1z"/>
<path fill="#ff6000" d="M22 19h1v1h-1z"/>
<path fill="#ff4504" d="M23 19h1v1h-1z"/>
<path fill="#ff3708" d="M24 19h1v1h-1z"/>
<path fill="#ff2e0b" d="M25 19h1v1h-1z"/>
<path fill="#ff5f00" d="M26 19h1v1h-1z"/>
<path fill="#ffa600" d="M27 19h1v1h-1z"/>
<path fill="#9cff00" d="M28 19h1v1h-1z"/>
<path fill="#3aff13" d="M30 19h1v1h-1z"/>
<path fill="#000060" d="M32 19h1v1h-1z"/>
<path fill="#24ff1e" d="M35 19h1v1h-1z"/>
<path fill="#00d3ff" d="M49 19h1v1h-1zM43 32h1v1h-1zM32 36h1v1h-1z"/>
<path fill="#00ffd5" d="M8 20h1v1h-1zM30 33h1v1h-1zM15 35h1v1h-1z"/>
<path fill="#00ffe0" d="M10 20h1v1h-1zM10 26h1v1h-1zM39 34h1v1h-1zM24 36h1v1h-1z"/>
<path fill="#00ff7d" d="M12 20h1v1h-1zM14 23h1v1h-1zM25 33h1v1h-1z"/>
<path fill="#00ffb5" d="M13 20h1v1h-1zM16 30h1v1h-1z"/>
<path fill="#00ffab" d="M14 20h1v1h-1zM36 23h1v1h-1z"/>
<path fill="#00ff42" d="M16 20h1v1h-1zM25 31h1v1h-1z"/>
<path fill="#4cff0a" d="M17 20h1v1h-1z"/>
<path fill="#73ff00" d="M19 20h1v1h-1zM20 23h1v1h-1z"/>
<path fill="#bbff00" d="M20 20h1v1h-1z"/>
<path fill="#f0ff00" d="M21 20h1v1h-1z"/>
<path fill="#ff8d00" d="M22 20h1v1h-1z"/>
<path fill="#ff5200" d="M23 20h1v1h-1z"/>
<path fill="#ff3f06" d="M24 20h2v1h-2z"/>
<path fill="#ff8400" d="M26 20h1v1h-1zM26 21h1v1h-1z"/>
<path fill="#ffbd00" d="M27 20h1v1h-1z"/>
<path fill="#d7ff00" d="M28 20h1v1h-1z"/>
<path fill="#87ff00" d="M29 20h1v1h-1z"/>
<path fill="#000079" d="M32 20h1v1h-1z"/>
<path fill="#3bff12" d="M34 20h1v1h-1zM33 25h1v1h-1z"/>
<path fill="#00ff4a" d="M35 20h1v1h-1zM21 26h1v1h-1zM27 30h1v1h-1z"/>
<path fill="#00ff45" d="M38 20h1v1h-1z"/>
<path fill="#00ff7a" d="M39 20h1v1h-1zM37 22h1v1h-1z"/>
<path fill="#00faf1" d="M41 20h1v1h-1zM44 26h1v1h-1z"/>
<path fill="#00fdea" d="M8 21h1v1h-1zM7 22h1v1h-1zM42 23h1v1h-1zM39 29h1v1h-1zM16 31h1v1h-1z"/>
<path fill="#00ff75" d="M15 21h1v1h-1zM28 33h1v1h-1z"/>
<path fill="#21ff1f" d="M17 21h1v1h-1z"/>
<path fill="#88ff00" d="M20 21h1v1h-1z"/>
<path fill="#cfff00" d="M21 21h1v1h-1zM24 24h1v1h-1z"/>
<path fill="#ff8700" d="M22 21h1v1h-1z"/>
<path fill="#ff7e00" d="M23 21h1v1h-1z"/>
<path fill="#ff6300" d="M24 21h1v1h-1zM25 22h1v1h-1z"/>
<path fill="#ff4105" d="M25 21h1v1h-1z"/>
<path fill="#ffae00" d="M27 21h1v1h-1z"/>
<path fill="#b5ff00" d="M28 21h1v1h-1z"/>
<path fill="#85ff00" d="M29 21h1v1h-1z"/>
<path fill="#000054" d="M31 21h1v1h-1z"/>
<path fill="#00007a" d="M32 21h1v1h-1z"/>
<path fill="#10ff30" d="M35 21h1v1h-1zM18 24h1v1h-1z"/>
<path fill="#00ff5d" d="M37 21h1v1h-1zM15 27h1v1h-1zM21 31h1v1h-1z"/>
<path fill="#00ffde" d="M43 21h1v1h-1zM35 29h1v1h-1zM36 33h1v1h-1zM24 34h1v1h-1zM28 36h1v1h-1z"/>
<path fill="#00e3ff" d="M44 21h1v1h-1zM8 22h1v1h-1zM44 23h1v1h-1zM8 27h1v1h-1zM6 28h1v1h-1zM44 28h1v1h-1zM44 30h1v1h-1zM16 32h1v1h-1zM44 32h1v1h-1zM37 37h1v1h-1zM25 38h1v1h-1z"/>
<path fill="#00ff56" d="M14 22h1v1h-1zM35 23h1v1h-1z"/>
<path fill="#00ff65" d="M15 22h1v1h-1zM31 30h1v1h-1zM26 32h1v1h-1zM31 32h1v1h-1z"/>
<path fill="#00ff48" d="M17 22h1v1h-1z"/>
<path fill="#2bff1a" d="M18 22h1v1h-1zM33 24h1v1h-1zM32 29h1v1h-1z"/>
<path fill="#5eff01" d="M19 22h1v1h-1z"/>
<path fill="#99ff00" d="M20 22h1v1h-1zM21 23h1v1h-1z"/>
<path fill="#ffe900" d="M22 22h1v1h-1z"/>
<path fill="#ff9000" d="M23 22h1v1h-1z"/>
<path fill="#ff7d00" d="M24 22h1v1h-1z"/>
<path fill="#ffa200" d="M26 22h1v1h-1z"/>
<path fill="#e4ff00" d="M27 22h1v1h-1z"/>
<path fill="#a6ff00" d="M28 22h1v1h-1z"/>
<path fill="#8bff00" d="M29 22h1v1h-1z"/>
<path fill="#00005a" d="M31 22h1v1h-1z"/>
<path fill="#00004c" d="M32 22h1v1h-1z"/>
<path fill="#03ff3d" d="M34 22h1v1h-1z"/>
<path fill="#00ffdc" d="M42 22h1v1h-1zM13 27h1v1h-1zM32 35h1v1h-1z"/>
<path fill="#00a7ff" d="M1 23h1v1h-1zM40 30h1v1h-1zM47 34h1v1h-1zM7 39h1v1h-1z"/>
<path fill="#00ffd3" d="M9 23h1v1h-1zM41 25h1v1h-1zM39 26h1v1h-1zM19 31h1v1h-1z"/>
<path fill="#17ff29" d="M15 23h1v1h-1zM16 25h1v1h-1z"/>
<path fill="#29ff1b" d="M18 23h1v1h-1z"/>
<path fill="#6aff00" d="M19 23h1v1h-1z"/>
<path fill="#d9ff00" d="M22 23h1v1h-1z"/>
<path fill="#ffec00" d="M23 23h1v1h-1z"/>
<path fill="#ffd700" d="M24 23h1v1h-1z"/>
<path fill="#d6ff00" d="M25 23h1v1h-1z"/>
<path fill="#efff00" d="M26 23h1v1h-1z"/>
<path fill="#abff00" d="M27 23h1v1h-1z"/>
<path fill="#82ff00" d="M28 23h1v1h-1z"/>
<path fill="#001dff" d="M30 23h1v1h-1z"/>
<path fill="#000015" d="M31 23h1v1h-1zM30 26h1v1h-1zM30 27h1v1h-1z"/>
<path fill="#000051" d="M32 23h1v1h-1z"/>
<path fill="#2bff1b" d="M33 23h1v1h-1z"/>
<path fill="#00d8ff" d="M7 24h1v1h-1zM49 28h1v1h-1zM11 30h1v1h-1zM44 31h1v1h-1zM47 33h1v1h-1zM30 39h1v1h-1z"/>
<path fill="#00a5ff" d="M8 24h1v1h-1zM4 32h1v1h-1zM10 33h1v1h-1zM12 33h1v1h-1zM5 38h1v1h-1zM18 41h1v1h-1zM39 41h1v1h-1zM48 41h1v1h-1zM24 43h1v1h-1zM22 44h1v1h-1zM19 45h1v1h-1z"/>
<path fill="#00ffd9" d="M9 24h1v1h-1z"/>
<path fill="#00fbf1" d="M11 24h1v1h-1zM15 30h1v1h-1zM37 31h1v1h-1zM33 32h1v1h-1zM20 36h1v1h-1z"/>
<path fill="#00ffa5" d="M12 24h1v1h-1zM35 24h1v1h-1zM29 35h1v1h-1z"/>
<path fill="#00ffa9" d="M13 24h1v1h-1zM17 32h1v1h-1z"/>
<path fill="#02ff3e" d="M17 24h1v1h-1zM26 26h1v1h-1z"/>
<path fill="#3fff10" d="M20 24h1v1h-1z"/>
<path fill="#7fff00" d="M21 24h1v1h-1z"/>
<path fill="#7aff00" d="M22 24h1v1h-1z"/>
<path fill="#b7ff00" d="M25 24h1v1h-1z"/>
<path fill="#8aff00" d="M26 24h1v1h-1z"/>
<path fill="#79ff00" d="M27 24h1v1h-1zM26 25h1v1h-1z"/>
<path fill="#74ff00" d="M28 24h1v1h-1z"/>
<path fill="#67ff00" d="M29 24h1v1h-1z"/>
<path fill="#00006b" d="M31 24h1v1h-1z"/>
<path fill="#00ff9b" d="M36 24h1v1h-1z"/>
<path fill="#00ffc0" d="M37 24h1v1h-1zM33 35h1v1h-1z"/>
<path fill="#00c6ff" d="M45 24h1v1h-1zM9 33h1v1h-1z"/>
<path fill="#00d6ff" d="M6 25h1v1h-1zM41 32h1v1h-1zM22 41h1v1h-1zM25 42h1v1h-1z"/>
<path fill="#00dcff" d="M9 25h1v1h-1zM40 25h1v1h-1zM6 26h1v1h-1zM34 38h1v1h-1z"/>
<path fill="#00ffe4" d="M11 25h1v1h-1zM37 30h1v1h-1zM13 34h1v1h-1zM30 34h1v1h-1z"/>
<path fill="#25ff1d" d="M17 25h1v1h-1zM19 26h1v1h-1z"/>
<path fill="#56ff05" d="M22 25h1v1h-1z"/>
<path fill="#8dff00" d="M24 25h1v1h-1z"/>
<path fill="#98ff00" d="M25 25h1v1h-1z"/>
<path fill="#5bff03" d="M27 25h1v1h-1z"/>
<path fill="#001aff" d="M29 25h1v1h-1z"/>
<path fill="#000052" d="M30 25h1v1h-1z"/>
<path fill="#000010" d="M31 25h1v1h-1zM29 28h1v1h-1z"/>
<path fill="#00ff8d" d="M35 25h1v1h-1zM34 26h1v1h-1zM36 26h1v1h-1z"/>
<path fill="#00ffae" d="M13 26h1v1h-1z"/>
<path fill="#00ff5f" d="M16 26h1v1h-1z"/>
<path fill="#07ff39" d="M17 26h1v1h-1z"/>
<path fill="#01ff3f" d="M20 26h1v1h-1z"/>
<path fill="#58ff04" d="M23 26h1v1h-1z"/>
<path fill="#29ff1c" d="M24 26h1v1h-1z"/>
<path fill="#5dff02" d="M25 26h1v1h-1z"/>
<path fill="#57ff04" d="M27 26h1v1h-1z"/>
<path fill="#11ff2f" d="M32 26h1v1h-1zM19 28h1v1h-1z"/>
<path fill="#0fff31" d="M33 26h1v1h-1z"/>
<path fill="#00ffb2" d="M40 26h1v1h-1zM12 29h1v1h-1z"/>
<path fill="#00f0ff" d="M46 26h1v1h-1zM43 30h1v1h-1zM31 39h1v1h-1z"/>
<path fill="#00ff4d" d="M17 27h1v1h-1zM22 28h1v1h-1zM33 28h1v1h-1zM22 31h1v1h-1z"/>
<path fill="#23ff1f" d="M19 27h1v1h-1z"/>
<path fill="#16ff2a" d="M20 27h1v1h-1z"/>
<path fill="#1fff21" d="M22 27h1v1h-1z"/>
<path fill="#00ff40" d="M23 27h1v1h-1z"/>
<path fill="#27ff1d" d="M25 27h1v1h-1z"/>
<path fill="#3eff11" d="M27 27h1v1h-1z"/>
<path fill="#00004e" d="M31 27h1v1h-1z"/>
<path fill="#00f6fb" d="M9 28h1v1h-1z"/>
<path fill="#00ff5c" d="M20 28h1v1h-1zM18 30h1v1h-1z"/>
<path fill="#2fff18" d="M23 28h2v1h-2z"/>
<path fill="#08ff38" d="M26 28h1v1h-1z"/>
<path fill="#00ff46" d="M27 28h1v1h-1z"/>
<path fill="#00ff6f" d="M28 28h1v1h-1z"/>
<path fill="#00ff72" d="M18 29h1v1h-1zM23 29h1v1h-1z"/>
<path fill="#00ff8e" d="M19 29h1v1h-1zM22 32h1v1h-1zM25 32h1v1h-1z"/>
<path fill="#00ff5a" d="M21 29h1v1h-1z"/>
<path fill="#00ff78" d="M22 29h1v1h-1zM24 30h1v1h-1z"/>
<path fill="#35ff15" d="M24 29h1v1h-1z"/>
<path fill="#0013ff" d="M28 29h1v1h-1z"/>
<path fill="#00001c" d="M29 29h1v1h-1z"/>
<path fill="#00ffcd" d="M41 29h1v1h-1zM29 34h1v1h-1z"/>
<path fill="#00ff6d" d="M25 30h1v1h-1z"/>
<path fill="#001bff" d="M28 30h1v1h-1z"/>
<path fill="#000048" d="M29 30h1v1h-1z"/>
<path fill="#000043" d="M30 30h1v1h-1z"/>
<path fill="#00ffc1" d="M34 30h1v1h-1zM35 33h1v1h-1zM19 34h1v1h-1zM21 35h1v1h-1z"/>
<path fill="#00eaff" d="M17 31h1v1h-1zM32 37h1v1h-1z"/>
<path fill="#00ff6e" d="M23 31h1v1h-1zM23 33h1v1h-1z"/>
<path fill="#002aff" d="M28 31h1v1h-1z"/>
<path fill="#000020" d="M29 31h1v1h-1z"/>
<path fill="#00005c" d="M30 31h1v1h-1z"/>
<path fill="#00ffb6" d="M35 31h1v1h-1zM27 35h1v1h-1z"/>
<path fill="#00ff8b" d="M23 32h1v1h-1z"/>
<path fill="#00ffa6" d="M32 32h1v1h-1z"/>
<path fill="#00ff7b" d="M27 33h1v1h-1z"/>
<path fill="#00ff9c" d="M24 35h1v1h-1z"/>
<path fill="#0068ff" d="M17 43h1v1h-1zM11 44h1v1h-1zM49 46h1v1h-1zM32 48h1v1h-1z"/>
<path fill="#0030ff" d="M5 49h1v1h-1z"/>
<path fill="#002eff" d="M48 49h1v1h-1z"/>
</g>
<polygon fill="#fff" points="162.0,6.4 152.5,26.5 148.2,24.5 144.5,49.3 161.3,30.7 157.0,28.7 166.6,8.6"/>
<polygon fill="#fff" points="82.7,197.9 91.5,177.7 95.9,179.6 98.8,154.7 82.6,173.8 86.9,175.7 78.1,195.9"/>
<polygon fill="#fff" points="186.9,243.3 181.4,256.1 177.0,254.2 174.1,279.1 190.3,260.0 185.9,258.1 191.5,245.3"/>
<polygon fill="#fff" points="111.4,427.8 120.3,407.6 124.7,409.6 127.8,384.7 111.4,403.7 115.8,405.6 106.8,425.8"/>
<text x="9.8" y="23.3" font-size="18" font-weight="bold" fill="#fff">(a)</text>
<rect x="10.2" y="211.9" width="68.6" height="3.4" fill="#fff"/>
<text x="44.5" y="205.0" font-size="14.5" font-weight="bold" fill="#fff" text-anchor="middle">50 μm</text>
<text x="9.8" y="261.1" font-size="18" font-weight="bold" fill="#fff">(c)</text>
<rect x="10.2" y="447.9" width="68.6" height="3.4" fill="#fff"/>
<text x="44.5" y="441.0" font-size="14.5" font-weight="bold" fill="#fff" text-anchor="middle">50 μm</text>
<line x1="241" y1="3.5" x2="249.5" y2="3.5" stroke="#1a1a1a" stroke-width="1.25"/>
<line x1="241" y1="222.5" x2="249.5" y2="222.5" stroke="#1a1a1a" stroke-width="1.25"/>
<line x1="241.5" y1="49.3" x2="246" y2="49.3" stroke="#1a1a1a" stroke-width="1.25"/>
<line x1="241.5" y1="107.0" x2="246" y2="107.0" stroke="#1a1a1a" stroke-width="1.25"/>
<line x1="241.5" y1="164.7" x2="246" y2="164.7" stroke="#1a1a1a" stroke-width="1.25"/>
<text x="246.5" y="17.6" font-size="14.5">331</text>
<text x="245.3" y="217.4" font-size="14.5">294</text>
<text transform="translate(261,112) rotate(-90)" text-anchor="middle" font-size="15">temperature (K)</text>
<line x1="241" y1="240.5" x2="249.5" y2="240.5" stroke="#1a1a1a" stroke-width="1.25"/>
<line x1="241" y1="459.5" x2="249.5" y2="459.5" stroke="#1a1a1a" stroke-width="1.25"/>
<line x1="241.5" y1="286.3" x2="246" y2="286.3" stroke="#1a1a1a" stroke-width="1.25"/>
<line x1="241.5" y1="344.0" x2="246" y2="344.0" stroke="#1a1a1a" stroke-width="1.25"/>
<line x1="241.5" y1="401.7" x2="246" y2="401.7" stroke="#1a1a1a" stroke-width="1.25"/>
<text x="246.5" y="254.6" font-size="14.5">331</text>
<text x="245.3" y="454.4" font-size="14.5">294</text>
<text transform="translate(261,349) rotate(-90)" text-anchor="middle" font-size="15">temperature (K)</text>
<rect x="405.9" y="7.0" width="3" height="177.6" fill="#e214e4"/>
<ellipse cx="289.1" cy="140.0" rx="2.4" ry="2.6" fill="#f00"/>
<ellipse cx="295.9" cy="133.2" rx="2.4" ry="2.6" fill="#f00"/>
<ellipse cx="302.3" cy="129.7" rx="2.4" ry="2.6" fill="#f00"/>
<ellipse cx="308.5" cy="122.7" rx="2.4" ry="2.6" fill="#f00"/>
<ellipse cx="315.0" cy="110.9" rx="2.4" ry="2.6" fill="#f00"/>
<ellipse cx="321.4" cy="108.3" rx="2.4" ry="2.6" fill="#f00"/>
<ellipse cx="327.8" cy="103.9" rx="2.4" ry="2.6" fill="#f00"/>
<ellipse cx="334.3" cy="93.3" rx="2.4" ry="2.6" fill="#f00"/>
<ellipse cx="340.7" cy="80.3" rx="2.4" ry="2.6" fill="#f00"/>
<ellipse cx="347.1" cy="72.9" rx="2.4" ry="2.6" fill="#f00"/>
<ellipse cx="353.5" cy="61.0" rx="2.4" ry="2.6" fill="#f00"/>
<ellipse cx="359.9" cy="55.1" rx="2.4" ry="2.6" fill="#f00"/>
<ellipse cx="366.3" cy="40.6" rx="2.4" ry="2.6" fill="#f00"/>
<ellipse cx="372.7" cy="22.6" rx="2.4" ry="2.6" fill="#f00"/>
<ellipse cx="379.1" cy="15.2" rx="2.4" ry="2.6" fill="#f00"/>
<ellipse cx="385.6" cy="19.0" rx="2.4" ry="2.6" fill="#f00"/>
<ellipse cx="391.7" cy="19.0" rx="2.4" ry="2.6" fill="#f00"/>
<ellipse cx="398.1" cy="32.5" rx="2.4" ry="2.6" fill="#f00"/>
<ellipse cx="404.8" cy="74.8" rx="2.4" ry="2.6" fill="#f00"/>
<ellipse cx="410.8" cy="116.6" rx="2.4" ry="2.6" fill="#f00"/>
<ellipse cx="417.5" cy="130.2" rx="2.4" ry="2.6" fill="#f00"/>
<ellipse cx="423.8" cy="132.2" rx="2.4" ry="2.6" fill="#f00"/>
<ellipse cx="430.3" cy="131.0" rx="2.4" ry="2.6" fill="#f00"/>
<ellipse cx="436.9" cy="125.9" rx="2.4" ry="2.6" fill="#f00"/>
<ellipse cx="443.1" cy="129.1" rx="2.4" ry="2.6" fill="#f00"/>
<ellipse cx="449.7" cy="134.2" rx="2.4" ry="2.6" fill="#f00"/>
<ellipse cx="456.2" cy="134.6" rx="2.4" ry="2.6" fill="#f00"/>
<ellipse cx="462.7" cy="137.4" rx="2.4" ry="2.6" fill="#f00"/>
<ellipse cx="468.8" cy="140.2" rx="2.4" ry="2.6" fill="#f00"/>
<ellipse cx="475.1" cy="142.9" rx="2.4" ry="2.6" fill="#f00"/>
<ellipse cx="481.8" cy="153.9" rx="2.4" ry="2.6" fill="#f00"/>
<ellipse cx="488.1" cy="156.9" rx="2.4" ry="2.6" fill="#f00"/>
<ellipse cx="494.4" cy="161.6" rx="2.4" ry="2.6" fill="#f00"/>
<ellipse cx="501.0" cy="167.6" rx="2.4" ry="2.6" fill="#f00"/>
<ellipse cx="507.3" cy="164.5" rx="2.4" ry="2.6" fill="#f00"/>
<ellipse cx="513.6" cy="170.1" rx="2.4" ry="2.6" fill="#f00"/>
<ellipse cx="519.9" cy="172.0" rx="2.4" ry="2.6" fill="#f00"/>
<ellipse cx="526.2" cy="179.3" rx="2.4" ry="2.6" fill="#f00"/>
<ellipse cx="532.8" cy="179.3" rx="2.4" ry="2.6" fill="#f00"/>
<ellipse cx="539.3" cy="183.1" rx="2.4" ry="2.6" fill="#f00"/>
<ellipse cx="287.8" cy="152.0" rx="1.35" ry="2.0" fill="none" stroke="#000" stroke-width="1.5"/>
<ellipse cx="294.6" cy="141.4" rx="1.35" ry="2.0" fill="none" stroke="#000" stroke-width="1.5"/>
<ellipse cx="301.0" cy="135.3" rx="1.35" ry="2.0" fill="none" stroke="#000" stroke-width="1.5"/>
<ellipse cx="307.6" cy="125.8" rx="1.35" ry="2.0" fill="none" stroke="#000" stroke-width="1.5"/>
<ellipse cx="314.0" cy="125.8" rx="1.35" ry="2.0" fill="none" stroke="#000" stroke-width="1.5"/>
<ellipse cx="320.2" cy="113.6" rx="1.35" ry="2.0" fill="none" stroke="#000" stroke-width="1.5"/>
<ellipse cx="326.8" cy="108.7" rx="1.35" ry="2.0" fill="none" stroke="#000" stroke-width="1.5"/>
<ellipse cx="333.2" cy="106.0" rx="1.35" ry="2.0" fill="none" stroke="#000" stroke-width="1.5"/>
<ellipse cx="340.0" cy="88.6" rx="1.35" ry="2.0" fill="none" stroke="#000" stroke-width="1.5"/>
<ellipse cx="346.1" cy="77.9" rx="1.35" ry="2.0" fill="none" stroke="#000" stroke-width="1.5"/>
<ellipse cx="352.8" cy="68.2" rx="1.35" ry="2.0" fill="none" stroke="#000" stroke-width="1.5"/>
<ellipse cx="359.2" cy="50.1" rx="1.35" ry="2.0" fill="none" stroke="#000" stroke-width="1.5"/>
<ellipse cx="365.6" cy="27.6" rx="1.35" ry="2.0" fill="none" stroke="#000" stroke-width="1.5"/>
<ellipse cx="372.0" cy="14.7" rx="1.35" ry="2.0" fill="none" stroke="#000" stroke-width="1.5"/>
<ellipse cx="378.4" cy="9.7" rx="1.35" ry="2.0" fill="none" stroke="#000" stroke-width="1.5"/>
<ellipse cx="384.8" cy="21.9" rx="1.35" ry="2.0" fill="none" stroke="#000" stroke-width="1.5"/>
<ellipse cx="391.5" cy="32.3" rx="1.35" ry="2.0" fill="none" stroke="#000" stroke-width="1.5"/>
<ellipse cx="397.9" cy="52.0" rx="1.35" ry="2.0" fill="none" stroke="#000" stroke-width="1.5"/>
<ellipse cx="404.3" cy="62.9" rx="1.35" ry="2.0" fill="none" stroke="#000" stroke-width="1.5"/>
<ellipse cx="410.7" cy="74.8" rx="1.35" ry="2.0" fill="none" stroke="#000" stroke-width="1.5"/>
<ellipse cx="417.3" cy="93.4" rx="1.35" ry="2.0" fill="none" stroke="#000" stroke-width="1.5"/>
<ellipse cx="423.9" cy="100.5" rx="1.35" ry="2.0" fill="none" stroke="#000" stroke-width="1.5"/>
<ellipse cx="430.4" cy="107.2" rx="1.35" ry="2.0" fill="none" stroke="#000" stroke-width="1.5"/>
<ellipse cx="436.9" cy="114.2" rx="1.35" ry="2.0" fill="none" stroke="#000" stroke-width="1.5"/>
<ellipse cx="443.3" cy="122.2" rx="1.35" ry="2.0" fill="none" stroke="#000" stroke-width="1.5"/>
<ellipse cx="449.7" cy="126.6" rx="1.35" ry="2.0" fill="none" stroke="#000" stroke-width="1.5"/>
<ellipse cx="456.2" cy="132.0" rx="1.35" ry="2.0" fill="none" stroke="#000" stroke-width="1.5"/>
<ellipse cx="462.7" cy="137.8" rx="1.35" ry="2.0" fill="none" stroke="#000" stroke-width="1.5"/>
<ellipse cx="469.2" cy="145.0" rx="1.35" ry="2.0" fill="none" stroke="#000" stroke-width="1.5"/>
<ellipse cx="475.6" cy="149.3" rx="1.35" ry="2.0" fill="none" stroke="#000" stroke-width="1.5"/>
<ellipse cx="482.1" cy="154.2" rx="1.35" ry="2.0" fill="none" stroke="#000" stroke-width="1.5"/>
<ellipse cx="488.4" cy="157.2" rx="1.35" ry="2.0" fill="none" stroke="#000" stroke-width="1.5"/>
<ellipse cx="495.0" cy="164.1" rx="1.35" ry="2.0" fill="none" stroke="#000" stroke-width="1.5"/>
<ellipse cx="501.3" cy="168.4" rx="1.35" ry="2.0" fill="none" stroke="#000" stroke-width="1.5"/>
<ellipse cx="507.9" cy="174.2" rx="1.35" ry="2.0" fill="none" stroke="#000" stroke-width="1.5"/>
<ellipse cx="514.2" cy="171.2" rx="1.35" ry="2.0" fill="none" stroke="#000" stroke-width="1.5"/>
<ellipse cx="520.5" cy="172.0" rx="1.35" ry="2.0" fill="none" stroke="#000" stroke-width="1.5"/>
<ellipse cx="527.5" cy="178.0" rx="1.35" ry="2.0" fill="none" stroke="#000" stroke-width="1.5"/>
<ellipse cx="533.5" cy="179.3" rx="1.35" ry="2.0" fill="none" stroke="#000" stroke-width="1.5"/>
<ellipse cx="540.4" cy="180.4" rx="1.35" ry="2.0" fill="none" stroke="#000" stroke-width="1.5"/>
<rect x="279.8" y="3.4" width="269.7" height="185.2" fill="none" stroke="#1a1a1a" stroke-width="1.25"/>
<line x1="302.8" y1="188.6" x2="302.8" y2="193.6" stroke="#1a1a1a" stroke-width="1.25"/>
<text x="302.8" y="207.0" text-anchor="middle" font-size="15">-40</text>
<line x1="341.3" y1="188.6" x2="341.3" y2="193.6" stroke="#1a1a1a" stroke-width="1.25"/>
<text x="341.3" y="207.0" text-anchor="middle" font-size="15">-20</text>
<line x1="379.8" y1="188.6" x2="379.8" y2="193.6" stroke="#1a1a1a" stroke-width="1.25"/>
<text x="379.8" y="207.0" text-anchor="middle" font-size="15">0</text>
<line x1="418.3" y1="188.6" x2="418.3" y2="193.6" stroke="#1a1a1a" stroke-width="1.25"/>
<text x="418.3" y="207.0" text-anchor="middle" font-size="15">20</text>
<line x1="456.8" y1="188.6" x2="456.8" y2="193.6" stroke="#1a1a1a" stroke-width="1.25"/>
<text x="456.8" y="207.0" text-anchor="middle" font-size="15">40</text>
<line x1="495.3" y1="188.6" x2="495.3" y2="193.6" stroke="#1a1a1a" stroke-width="1.25"/>
<text x="495.3" y="207.0" text-anchor="middle" font-size="15">60</text>
<line x1="533.8" y1="188.6" x2="533.8" y2="193.6" stroke="#1a1a1a" stroke-width="1.25"/>
<text x="533.8" y="207.0" text-anchor="middle" font-size="15">80</text>
<line x1="549.5" y1="20.2" x2="555.5" y2="20.2" stroke="#1a1a1a" stroke-width="1.25"/>
<text transform="translate(569.0,20.2) rotate(-90)" text-anchor="middle" font-size="15">326</text>
<line x1="549.5" y1="60.95" x2="555.5" y2="60.95" stroke="#1a1a1a" stroke-width="1.25"/>
<line x1="549.5" y1="101.7" x2="555.5" y2="101.7" stroke="#1a1a1a" stroke-width="1.25"/>
<line x1="549.5" y1="142.45" x2="555.5" y2="142.45" stroke="#1a1a1a" stroke-width="1.25"/>
<line x1="549.5" y1="183.2" x2="555.5" y2="183.2" stroke="#1a1a1a" stroke-width="1.25"/>
<text transform="translate(569.0,183.2) rotate(-90)" text-anchor="middle" font-size="15">306</text>
<text transform="translate(569.0,103.2) rotate(-90)" text-anchor="middle" font-size="15">temperature (K)</text>
<text x="414.3" y="219.0" text-anchor="middle" font-size="15">distance along profile (μm)</text>
<text x="288.3" y="23.1" font-size="17">(b)</text>
<rect x="429.3" y="3.4" width="120.19999999999999" height="38.6" fill="#fff" stroke="#1a1a1a" stroke-width="1.25"/>
<ellipse cx="437.9" cy="14.5" rx="1.35" ry="2.0" fill="none" stroke="#000" stroke-width="1.5"/>
<ellipse cx="437.9" cy="32.3" rx="2.4" ry="2.6" fill="#f00"/>
<text x="446.7" y="19.0" font-size="15">reference</text>
<text x="446.7" y="36.3" font-size="15">across structure</text>
<rect x="475.4" y="54.7" width="61.80000000000007" height="61.89999999999999" fill="#fff" stroke="#333" stroke-width="1.1"/>
<rect x="510.6" y="70.0" width="4.4" height="4.4" fill="#e81ef0" transform="rotate(20 512.8 72.2)"/>
<rect x="507.5" y="77.4" width="4.4" height="4.4" fill="#e81ef0" transform="rotate(20 509.7 79.6)"/>
<rect x="504.1" y="85.1" width="4.4" height="4.4" fill="#e81ef0" transform="rotate(20 506.3 87.3)"/>
<rect x="500.8" y="92.9" width="4.4" height="4.4" fill="#e81ef0" transform="rotate(20 503.0 95.1)"/>
<line x1="525.2" y1="59.0" x2="510.1" y2="94.0" stroke="#000" stroke-width="1.8"/>
<circle cx="513.7" cy="86.1" r="2.6" fill="#f7a800" opacity="0.85"/>
<line x1="487.1" y1="74.1" x2="522.6" y2="90.1" stroke="#f00" stroke-width="1.9"/>
<rect x="419.5" y="243.6" width="3" height="177.6" fill="#e214e4"/>
<ellipse cx="297.4" cy="361.0" rx="1.35" ry="2.0" fill="none" stroke="#000" stroke-width="1.5"/>
<ellipse cx="304.3" cy="354.8" rx="1.35" ry="2.0" fill="none" stroke="#000" stroke-width="1.5"/>
<ellipse cx="311.4" cy="347.2" rx="1.35" ry="2.0" fill="none" stroke="#000" stroke-width="1.5"/>
<ellipse cx="318.2" cy="343.7" rx="1.35" ry="2.0" fill="none" stroke="#000" stroke-width="1.5"/>
<ellipse cx="325.1" cy="331.1" rx="1.35" ry="2.0" fill="none" stroke="#000" stroke-width="1.5"/>
<ellipse cx="332.0" cy="311.1" rx="1.35" ry="2.0" fill="none" stroke="#000" stroke-width="1.5"/>
<ellipse cx="339.0" cy="295.6" rx="1.35" ry="2.0" fill="none" stroke="#000" stroke-width="1.5"/>
<ellipse cx="345.9" cy="275.9" rx="1.35" ry="2.0" fill="none" stroke="#000" stroke-width="1.5"/>
<ellipse cx="352.8" cy="256.6" rx="1.35" ry="2.0" fill="none" stroke="#000" stroke-width="1.5"/>
<ellipse cx="359.7" cy="246.9" rx="1.35" ry="2.0" fill="none" stroke="#000" stroke-width="1.5"/>
<ellipse cx="366.7" cy="252.4" rx="1.35" ry="2.0" fill="none" stroke="#000" stroke-width="1.5"/>
<ellipse cx="373.9" cy="265.6" rx="1.35" ry="2.0" fill="none" stroke="#000" stroke-width="1.5"/>
<ellipse cx="380.8" cy="277.7" rx="1.35" ry="2.0" fill="none" stroke="#000" stroke-width="1.5"/>
<ellipse cx="387.7" cy="301.5" rx="1.35" ry="2.0" fill="none" stroke="#000" stroke-width="1.5"/>
<ellipse cx="394.7" cy="315.8" rx="1.35" ry="2.0" fill="none" stroke="#000" stroke-width="1.5"/>
<ellipse cx="401.4" cy="329.9" rx="1.35" ry="2.0" fill="none" stroke="#000" stroke-width="1.5"/>
<ellipse cx="408.3" cy="342.5" rx="1.35" ry="2.0" fill="none" stroke="#000" stroke-width="1.5"/>
<ellipse cx="415.4" cy="353.2" rx="1.35" ry="2.0" fill="none" stroke="#000" stroke-width="1.5"/>
<ellipse cx="422.2" cy="357.0" rx="1.35" ry="2.0" fill="none" stroke="#000" stroke-width="1.5"/>
<ellipse cx="429.4" cy="358.6" rx="1.35" ry="2.0" fill="none" stroke="#000" stroke-width="1.5"/>
<ellipse cx="436.3" cy="363.3" rx="1.35" ry="2.0" fill="none" stroke="#000" stroke-width="1.5"/>
<ellipse cx="443.3" cy="366.2" rx="1.35" ry="2.0" fill="none" stroke="#000" stroke-width="1.5"/>
<ellipse cx="450.0" cy="374.6" rx="1.35" ry="2.0" fill="none" stroke="#000" stroke-width="1.5"/>
<ellipse cx="456.9" cy="375.2" rx="1.35" ry="2.0" fill="none" stroke="#000" stroke-width="1.5"/>
<ellipse cx="463.8" cy="383.2" rx="1.35" ry="2.0" fill="none" stroke="#000" stroke-width="1.5"/>
<ellipse cx="470.8" cy="389.4" rx="1.35" ry="2.0" fill="none" stroke="#000" stroke-width="1.5"/>
<ellipse cx="477.8" cy="389.0" rx="1.35" ry="2.0" fill="none" stroke="#000" stroke-width="1.5"/>
<ellipse cx="484.7" cy="389.4" rx="1.35" ry="2.0" fill="none" stroke="#000" stroke-width="1.5"/>
<ellipse cx="491.7" cy="394.5" rx="1.35" ry="2.0" fill="none" stroke="#000" stroke-width="1.5"/>
<ellipse cx="498.7" cy="399.1" rx="1.35" ry="2.0" fill="none" stroke="#000" stroke-width="1.5"/>
<ellipse cx="505.8" cy="404.4" rx="1.35" ry="2.0" fill="none" stroke="#000" stroke-width="1.5"/>
<ellipse cx="512.7" cy="405.4" rx="1.35" ry="2.0" fill="none" stroke="#000" stroke-width="1.5"/>
<ellipse cx="519.5" cy="405.4" rx="1.35" ry="2.0" fill="none" stroke="#000" stroke-width="1.5"/>
<ellipse cx="526.5" cy="402.5" rx="1.35" ry="2.0" fill="none" stroke="#000" stroke-width="1.5"/>
<ellipse cx="533.4" cy="407.3" rx="1.35" ry="2.0" fill="none" stroke="#000" stroke-width="1.5"/>
<ellipse cx="540.5" cy="412.1" rx="1.35" ry="2.0" fill="none" stroke="#000" stroke-width="1.5"/>
<ellipse cx="289.2" cy="362.9" rx="2.4" ry="2.6" fill="#f00"/>
<ellipse cx="296.1" cy="353.7" rx="2.4" ry="2.6" fill="#f00"/>
<ellipse cx="303.1" cy="350.5" rx="2.4" ry="2.6" fill="#f00"/>
<ellipse cx="310.3" cy="346.5" rx="2.4" ry="2.6" fill="#f00"/>
<ellipse cx="316.8" cy="332.5" rx="2.4" ry="2.6" fill="#f00"/>
<ellipse cx="323.7" cy="325.9" rx="2.4" ry="2.6" fill="#f00"/>
<ellipse cx="330.6" cy="314.9" rx="2.4" ry="2.6" fill="#f00"/>
<ellipse cx="338.0" cy="297.0" rx="2.4" ry="2.6" fill="#f00"/>
<ellipse cx="344.7" cy="280.1" rx="2.4" ry="2.6" fill="#f00"/>
<ellipse cx="351.6" cy="261.1" rx="2.4" ry="2.6" fill="#f00"/>
<ellipse cx="358.5" cy="249.7" rx="2.4" ry="2.6" fill="#f00"/>
<ellipse cx="365.6" cy="251.4" rx="2.4" ry="2.6" fill="#f00"/>
<ellipse cx="372.4" cy="262.1" rx="2.4" ry="2.6" fill="#f00"/>
<ellipse cx="379.4" cy="281.0" rx="2.4" ry="2.6" fill="#f00"/>
<ellipse cx="386.4" cy="306.1" rx="2.4" ry="2.6" fill="#f00"/>
<ellipse cx="393.5" cy="337.3" rx="2.4" ry="2.6" fill="#f00"/>
<ellipse cx="400.4" cy="386.8" rx="2.4" ry="2.6" fill="#f00"/>
<ellipse cx="428.0" cy="365.5" rx="2.4" ry="2.6" fill="#f00"/>
<ellipse cx="434.9" cy="331.6" rx="2.4" ry="2.6" fill="#f00"/>
<ellipse cx="442.1" cy="357.2" rx="2.4" ry="2.6" fill="#f00"/>
<ellipse cx="449.1" cy="381.0" rx="2.4" ry="2.6" fill="#f00"/>
<ellipse cx="455.9" cy="379.1" rx="2.4" ry="2.6" fill="#f00"/>
<ellipse cx="462.8" cy="378.6" rx="2.4" ry="2.6" fill="#f00"/>
<ellipse cx="469.8" cy="385.1" rx="2.4" ry="2.6" fill="#f00"/>
<ellipse cx="476.8" cy="383.5" rx="2.4" ry="2.6" fill="#f00"/>
<ellipse cx="483.7" cy="384.7" rx="2.4" ry="2.6" fill="#f00"/>
<ellipse cx="490.7" cy="390.2" rx="2.4" ry="2.6" fill="#f00"/>
<ellipse cx="497.6" cy="394.7" rx="2.4" ry="2.6" fill="#f00"/>
<ellipse cx="504.6" cy="393.7" rx="2.4" ry="2.6" fill="#f00"/>
<ellipse cx="511.6" cy="397.8" rx="2.4" ry="2.6" fill="#f00"/>
<ellipse cx="518.5" cy="399.1" rx="2.4" ry="2.6" fill="#f00"/>
<ellipse cx="525.4" cy="401.2" rx="2.4" ry="2.6" fill="#f00"/>
<ellipse cx="532.4" cy="396.9" rx="2.4" ry="2.6" fill="#f00"/>
<ellipse cx="539.2" cy="401.1" rx="2.4" ry="2.6" fill="#f00"/>
<rect x="279.8" y="240.4" width="269.90000000000003" height="183.99999999999997" fill="none" stroke="#1a1a1a" stroke-width="1.25"/>
<line x1="319.9" y1="424.4" x2="319.9" y2="429.4" stroke="#1a1a1a" stroke-width="1.25"/>
<text x="319.9" y="444.8" text-anchor="middle" font-size="15">-20</text>
<line x1="361.3" y1="424.4" x2="361.3" y2="429.4" stroke="#1a1a1a" stroke-width="1.25"/>
<text x="361.3" y="444.8" text-anchor="middle" font-size="15">0</text>
<line x1="402.7" y1="424.4" x2="402.7" y2="429.4" stroke="#1a1a1a" stroke-width="1.25"/>
<text x="402.7" y="444.8" text-anchor="middle" font-size="15">20</text>
<line x1="444.1" y1="424.4" x2="444.1" y2="429.4" stroke="#1a1a1a" stroke-width="1.25"/>
<text x="444.1" y="444.8" text-anchor="middle" font-size="15">40</text>
<line x1="485.5" y1="424.4" x2="485.5" y2="429.4" stroke="#1a1a1a" stroke-width="1.25"/>
<text x="485.5" y="444.8" text-anchor="middle" font-size="15">60</text>
<line x1="526.9" y1="424.4" x2="526.9" y2="429.4" stroke="#1a1a1a" stroke-width="1.25"/>
<text x="526.9" y="444.8" text-anchor="middle" font-size="15">80</text>
<line x1="549.7" y1="271.6" x2="555.7" y2="271.6" stroke="#1a1a1a" stroke-width="1.25"/>
<text transform="translate(569.2,271.6) rotate(-90)" text-anchor="middle" font-size="15">326</text>
<line x1="549.7" y1="306.5" x2="555.7" y2="306.5" stroke="#1a1a1a" stroke-width="1.25"/>
<line x1="549.7" y1="341.4" x2="555.7" y2="341.4" stroke="#1a1a1a" stroke-width="1.25"/>
<line x1="549.7" y1="376.2" x2="555.7" y2="376.2" stroke="#1a1a1a" stroke-width="1.25"/>
<line x1="549.7" y1="411.1" x2="555.7" y2="411.1" stroke="#1a1a1a" stroke-width="1.25"/>
<text transform="translate(569.2,411.1) rotate(-90)" text-anchor="middle" font-size="15">306</text>
<text transform="translate(569.2,342.9) rotate(-90)" text-anchor="middle" font-size="15">temperature (K)</text>
<text x="417.0" y="456.6" text-anchor="middle" font-size="15">distance along profile (μm)</text>
<text x="288.3" y="260.9" font-size="17">(d)</text>
<rect x="429.2" y="240.4" width="120.50000000000006" height="37.99999999999997" fill="#fff" stroke="#1a1a1a" stroke-width="1.25"/>
<ellipse cx="437.8" cy="251.3" rx="1.35" ry="2.0" fill="none" stroke="#000" stroke-width="1.5"/>
<ellipse cx="437.8" cy="268.6" rx="2.4" ry="2.6" fill="#f00"/>
<text x="446.6" y="255.8" font-size="15">reference</text>
<text x="446.6" y="273.3" font-size="15">across structure</text>
<rect x="474.9" y="291.5" width="62.80000000000007" height="62.80000000000001" fill="#fff" stroke="#333" stroke-width="1.1"/>
<rect x="519.3" y="305.0" width="4.4" height="4.4" fill="#e81ef0" transform="rotate(20 521.5 307.2)"/>
<rect x="516.1" y="312.8" width="4.4" height="4.4" fill="#e81ef0" transform="rotate(20 518.3 315.0)"/>
<rect x="512.5" y="320.9" width="4.4" height="4.4" fill="#e81ef0" transform="rotate(20 514.7 323.1)"/>
<rect x="509.6" y="327.8" width="4.4" height="4.4" fill="#e81ef0" transform="rotate(20 511.8 330.0)"/>
<line x1="510.2" y1="309.0" x2="494.0" y2="344.1" stroke="#000" stroke-width="1.8"/>
<circle cx="506.4" cy="316.6" r="2.6" fill="#f7a800" opacity="0.85"/>
<line x1="498.3" y1="313.8" x2="534.0" y2="329.5" stroke="#f00" stroke-width="1.9"/>
</svg>
</body></html>
